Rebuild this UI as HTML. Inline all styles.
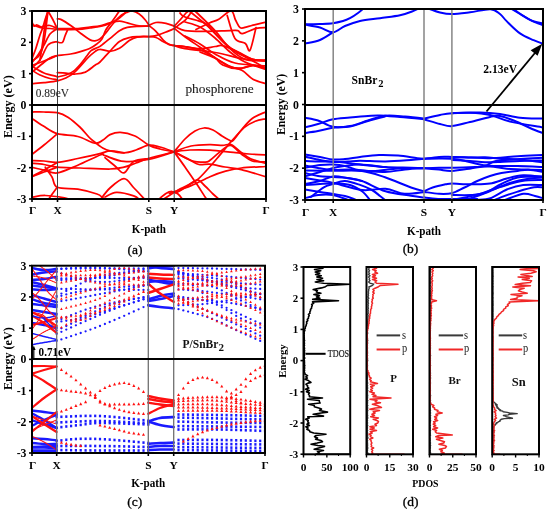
<!DOCTYPE html>
<html><head><meta charset="utf-8"><style>html,body{margin:0;padding:0;background:#fff;width:550px;height:512px;overflow:hidden}svg{display:block}</style></head>
<body><svg width="550" height="512" viewBox="0 0 550 512" font-family="'Liberation Serif', 'Times New Roman', serif"><defs><clipPath id="ca"><rect x="32" y="11" width="234" height="188"/></clipPath><clipPath id="cb"><rect x="305" y="9" width="238" height="191"/></clipPath><clipPath id="cc"><rect x="32" y="265.7" width="233" height="187.3"/></clipPath></defs><rect width="550" height="512" fill="#fff"/>
<g clip-path="url(#ca)">
<path d="M32.0,83.6C34.0,83.4 39.8,83.1 44.0,82.6C48.2,82.1 53.7,81.6 57.3,80.8C60.9,80.0 63.1,79.3 65.8,78.0C68.5,76.7 71.2,75.1 73.6,73.1C76.0,71.1 78.0,68.8 80.4,66.2C82.8,63.6 85.8,59.9 88.2,57.5C90.6,55.1 93.0,53.0 95.0,51.6C97.0,50.2 97.5,49.3 100.0,49.3C102.5,49.2 106.5,51.5 109.8,51.3C113.0,51.1 116.2,50.1 119.5,48.3C122.8,46.5 126.4,42.4 129.3,40.5C132.2,38.6 133.8,37.8 137.1,37.1C140.3,36.5 145.7,36.9 148.8,36.6C152.0,36.4 153.1,36.4 156.0,35.6C158.9,34.8 163.0,33.2 166.0,32.0C169.0,30.8 171.9,29.7 174.2,28.4C176.5,27.1 178.2,25.3 180.0,24.0C181.8,22.7 183.3,22.1 185.0,20.4C186.7,18.7 188.7,15.7 190.0,14.0C191.3,12.3 192.5,10.7 193.0,10.0" stroke="#ff0000" stroke-width="1.75" fill="none" stroke-linejoin="round" stroke-linecap="round" />
<path d="M57.3,72.6C58.7,72.7 62.8,72.9 65.8,73.1C68.8,73.3 72.2,74.2 75.5,74.0C78.8,73.8 82.0,73.5 85.3,72.1C88.5,70.6 92.5,67.0 95.0,65.3C97.5,63.6 97.5,64.3 100.0,62.0C102.5,59.7 106.5,54.7 109.8,51.3C113.0,47.9 116.2,43.8 119.5,41.5C122.8,39.2 126.1,38.4 129.3,37.6C132.6,36.8 135.8,36.8 139.0,36.6C142.2,36.4 146.0,36.5 148.8,36.6C151.6,36.8 153.6,36.7 156.0,37.5C158.4,38.3 160.8,40.3 163.0,41.5C165.2,42.7 167.1,43.8 169.0,44.5C170.9,45.2 173.3,45.3 174.2,45.5" stroke="#ff0000" stroke-width="1.75" fill="none" stroke-linejoin="round" stroke-linecap="round" />
<path d="M57.3,77.0C58.7,76.7 63.1,76.0 65.8,75.0C68.5,74.0 71.2,72.9 73.6,71.1C76.0,69.3 78.1,66.9 80.4,64.3C82.7,61.7 85.4,57.8 87.2,55.5C89.0,53.2 89.5,51.9 91.1,50.6C92.7,49.3 95.5,48.4 97.0,47.7C98.5,47.0 97.9,47.9 100.0,46.4C102.1,44.9 106.5,41.2 109.8,38.6C113.0,36.0 116.6,32.6 119.5,30.7C122.4,28.8 124.0,28.0 127.3,27.3C130.6,26.6 135.4,26.5 139.0,26.3C142.6,26.1 147.2,26.1 148.8,26.0" stroke="#ff0000" stroke-width="1.75" fill="none" stroke-linejoin="round" stroke-linecap="round" />
<path d="M57.3,55.5C59.5,55.2 66.8,54.6 70.6,54.0C74.4,53.4 77.2,52.6 80.4,51.6C83.7,50.6 87.3,49.5 90.1,48.2C92.9,46.9 95.0,45.3 97.0,43.8C99.0,42.2 100.4,41.2 101.9,38.9C103.4,36.6 104.3,32.6 105.9,29.8C107.5,27.0 110.0,24.3 111.7,22.0C113.4,19.7 114.6,18.0 116.0,16.0C117.4,14.0 119.3,11.0 120.0,10.0" stroke="#ff0000" stroke-width="1.75" fill="none" stroke-linejoin="round" stroke-linecap="round" />
<path d="M57.3,28.5C60.8,28.5 72.5,28.8 78.0,28.5C83.5,28.2 86.3,27.4 90.0,27.0C93.7,26.6 96.7,26.6 100.0,25.9C103.3,25.2 106.5,23.7 109.8,22.9C113.0,22.1 116.6,21.0 119.5,21.0C122.4,21.0 124.0,22.1 127.3,22.9C130.6,23.7 135.4,25.4 139.0,25.9C142.6,26.4 147.2,26.0 148.8,26.0" stroke="#ff0000" stroke-width="1.75" fill="none" stroke-linejoin="round" stroke-linecap="round" />
<path d="M57.3,29.5C60.8,29.5 72.5,29.8 78.0,29.5C83.5,29.2 86.3,28.5 90.0,28.0C93.7,27.5 96.7,27.2 100.0,26.5C103.3,25.8 106.8,24.8 109.8,23.5C112.8,22.2 115.6,20.6 118.0,19.0C120.4,17.4 122.3,15.5 124.0,14.0C125.7,12.5 127.3,10.7 128.0,10.0" stroke="#ff0000" stroke-width="1.75" fill="none" stroke-linejoin="round" stroke-linecap="round" />
<path d="M57.3,19.0C58.0,19.1 59.1,18.5 61.3,19.6C63.5,20.7 67.4,23.2 70.7,25.5C74.0,27.8 77.7,31.1 80.9,33.5C84.1,35.9 87.8,38.7 90.1,39.9C92.4,41.1 93.4,41.1 95.0,40.9C96.6,40.7 98.2,40.1 99.9,38.9C101.6,37.7 103.0,36.4 105.2,33.8C107.5,31.2 110.7,26.3 113.4,23.2C116.1,20.1 119.2,16.9 121.6,15.0C123.9,13.2 125.7,12.8 127.5,12.1C129.3,11.4 130.2,10.7 132.2,11.0C134.1,11.3 137.0,12.5 139.2,13.9C141.3,15.3 143.5,17.8 145.1,19.7C146.7,21.6 148.2,24.1 148.8,25.0" stroke="#ff0000" stroke-width="1.75" fill="none" stroke-linejoin="round" stroke-linecap="round" />
<path d="M57.3,42.0C58.1,42.1 61.1,43.4 62.4,42.4C63.7,41.4 64.1,38.2 65.0,36.0C65.9,33.8 67.5,30.2 68.0,29.0" stroke="#ff0000" stroke-width="1.75" fill="none" stroke-linejoin="round" stroke-linecap="round" />
<path d="M148.8,25.5C150.0,25.0 153.0,22.9 155.9,22.5C158.8,22.1 162.9,22.7 166.0,23.3C169.1,23.9 171.0,25.0 174.2,26.2C177.4,27.4 179.9,29.7 185.0,30.6C190.1,31.5 197.0,31.4 204.6,31.4C212.2,31.4 224.8,30.7 230.3,30.6C235.8,30.5 235.8,30.1 237.8,30.6C239.8,31.1 239.3,34.0 242.3,33.6C245.3,33.2 252.1,29.4 256.0,28.4C259.9,27.4 264.3,27.7 266.0,27.6" stroke="#ff0000" stroke-width="1.75" fill="none" stroke-linejoin="round" stroke-linecap="round" />
<path d="M148.8,25.5C150.0,26.5 153.5,28.9 155.9,31.3C158.3,33.7 161.0,37.8 163.2,40.0C165.4,42.2 167.2,43.5 169.0,44.4C170.8,45.3 171.5,45.1 174.2,45.5C176.9,45.9 180.7,45.8 185.0,46.5C189.3,47.2 195.0,47.9 200.0,49.8C205.0,51.7 210.0,55.2 215.0,58.0C220.0,60.8 225.4,64.3 230.0,66.4C234.6,68.5 238.5,68.4 242.3,70.5C246.1,72.6 249.0,77.0 252.9,79.2C256.9,81.4 263.8,83.0 266.0,83.8" stroke="#ff0000" stroke-width="1.75" fill="none" stroke-linejoin="round" stroke-linecap="round" />
<path d="M174.2,45.5C176.0,45.7 180.7,46.3 185.0,46.8C189.3,47.3 195.0,48.8 200.0,48.7C205.0,48.7 211.4,47.0 215.2,46.5C219.0,46.0 218.9,44.8 222.7,45.7C226.5,46.6 232.8,49.5 237.8,51.8C242.8,54.1 248.2,57.8 252.9,59.3C257.6,60.8 263.8,60.7 266.0,61.0" stroke="#ff0000" stroke-width="1.75" fill="none" stroke-linejoin="round" stroke-linecap="round" />
<path d="M174.2,45.5C176.0,46.0 178.2,47.5 185.0,48.7C191.8,49.9 206.4,51.0 215.2,52.5C224.0,54.0 231.7,56.5 237.8,57.8C243.9,59.0 247.3,59.5 252.0,60.0C256.7,60.5 263.7,60.7 266.0,60.8" stroke="#ff0000" stroke-width="1.75" fill="none" stroke-linejoin="round" stroke-linecap="round" />
<path d="M174.2,28.4C176.0,29.8 180.7,33.6 185.0,36.7C189.3,39.8 195.0,43.7 200.0,47.2C205.0,50.7 211.4,54.8 215.2,57.8C219.0,60.8 218.9,63.2 222.7,65.0C226.5,66.8 232.8,68.6 237.8,68.7C242.9,68.8 248.3,65.7 253.0,65.6C257.7,65.5 263.8,67.6 266.0,68.0" stroke="#ff0000" stroke-width="1.75" fill="none" stroke-linejoin="round" stroke-linecap="round" />
<path d="M200.0,52.0C202.5,53.0 209.9,55.5 215.0,58.0C220.1,60.5 225.8,65.1 230.3,66.8C234.9,68.5 238.5,68.2 242.3,68.0C246.1,67.8 249.0,65.2 252.9,65.3C256.9,65.4 263.8,67.9 266.0,68.4" stroke="#ff0000" stroke-width="1.75" fill="none" stroke-linejoin="round" stroke-linecap="round" />
<path d="M188.0,10.0C191.3,12.7 201.8,20.8 207.6,26.0C213.4,31.2 217.7,36.7 222.7,41.2C227.7,45.8 232.8,50.3 237.8,53.3C242.8,56.3 248.2,58.2 252.9,59.3C257.6,60.4 263.8,59.9 266.0,60.0" stroke="#ff0000" stroke-width="1.75" fill="none" stroke-linejoin="round" stroke-linecap="round" />
<path d="M194.0,10.0C197.5,13.4 209.0,24.2 215.0,30.6C221.0,37.1 225.0,43.9 230.0,48.7C235.0,53.5 239.0,57.3 245.0,59.3C251.0,61.3 262.5,60.5 266.0,60.8" stroke="#ff0000" stroke-width="1.75" fill="none" stroke-linejoin="round" stroke-linecap="round" />
<path d="M180.0,13.0C180.8,13.7 180.9,15.3 185.0,17.0C189.1,18.7 199.6,20.3 204.6,23.1C209.6,25.9 211.4,29.8 215.2,33.6C219.0,37.4 222.7,42.2 227.2,45.7C231.7,49.2 235.8,51.0 242.3,54.8C248.8,58.6 262.1,66.1 266.0,68.4" stroke="#ff0000" stroke-width="1.75" fill="none" stroke-linejoin="round" stroke-linecap="round" />
<path d="M174.2,26.2C175.2,25.2 178.0,22.2 180.0,20.0C182.0,17.8 184.3,14.7 186.0,13.0C187.7,11.3 189.3,10.5 190.0,10.0" stroke="#ff0000" stroke-width="1.75" fill="none" stroke-linejoin="round" stroke-linecap="round" />
<path d="M196.0,29.5C198.2,28.4 205.6,24.7 209.4,23.0C213.2,21.3 215.2,21.3 218.8,19.3C222.4,17.3 228.2,10.7 231.0,10.8C233.8,10.9 233.9,17.2 235.5,20.0C237.1,22.8 238.4,26.6 240.3,27.7C242.2,28.8 244.6,27.3 246.9,26.8C249.2,26.3 251.2,25.7 254.4,24.9C257.6,24.1 264.1,22.5 266.0,22.0" stroke="#ff0000" stroke-width="1.75" fill="none" stroke-linejoin="round" stroke-linecap="round" />
<path d="M227.2,15.5C228.5,19.3 231.8,33.5 234.8,38.2C237.8,42.9 242.9,41.5 245.4,43.5C247.9,45.5 248.2,52.9 250.0,50.3C251.8,47.6 255.0,31.4 256.0,27.6" stroke="#ff0000" stroke-width="1.75" fill="none" stroke-linejoin="round" stroke-linecap="round" />
<path d="M185.0,22.0C187.5,22.8 195.0,24.3 200.0,27.0C205.0,29.7 210.0,33.8 215.0,38.0C220.0,42.2 225.0,48.0 230.0,52.0C235.0,56.0 239.0,59.1 245.0,62.0C251.0,64.9 262.5,68.2 266.0,69.5" stroke="#ff0000" stroke-width="1.75" fill="none" stroke-linejoin="round" stroke-linecap="round" />
<path d="M185.0,36.0C187.5,37.3 195.0,41.0 200.0,44.0C205.0,47.0 209.2,50.8 215.0,54.0C220.8,57.2 226.5,61.0 235.0,63.0C243.5,65.0 260.8,65.5 266.0,66.0" stroke="#ff0000" stroke-width="1.75" fill="none" stroke-linejoin="round" stroke-linecap="round" />
<path d="M31.5,70.0C32.9,70.8 36.9,73.6 40.0,75.0C43.1,76.4 47.1,77.8 50.0,78.5C52.9,79.2 56.1,79.3 57.3,79.5" stroke="#ff0000" stroke-width="1.75" fill="none" stroke-linejoin="round" stroke-linecap="round" />
<path d="M31.5,66.0C33.6,67.2 39.7,71.2 44.0,73.0C48.3,74.8 55.1,75.9 57.3,76.5" stroke="#ff0000" stroke-width="1.75" fill="none" stroke-linejoin="round" stroke-linecap="round" />
<path d="M31.5,65.5C33.6,64.8 39.7,62.7 44.0,61.0C48.3,59.3 55.1,56.4 57.3,55.5" stroke="#ff0000" stroke-width="1.75" fill="none" stroke-linejoin="round" stroke-linecap="round" />
<path d="M31.5,61.0C32.6,60.3 36.2,58.8 38.0,57.0C39.8,55.2 40.8,53.7 42.0,50.0C43.2,46.3 44.0,41.5 45.0,35.0C46.0,28.5 47.5,15.0 48.0,11.0" stroke="#ff0000" stroke-width="1.75" fill="none" stroke-linejoin="round" stroke-linecap="round" />
<path d="M48.0,11.0C48.7,12.2 50.8,15.8 52.0,18.0C53.2,20.2 54.1,22.2 55.0,24.0C55.9,25.8 56.9,27.8 57.3,28.5" stroke="#ff0000" stroke-width="1.75" fill="none" stroke-linejoin="round" stroke-linecap="round" />
<path d="M31.5,63.0C32.6,61.7 35.9,58.0 38.0,55.0C40.1,52.0 42.0,48.5 44.0,45.0C46.0,41.5 47.8,36.8 50.0,34.0C52.2,31.2 56.1,29.4 57.3,28.5" stroke="#ff0000" stroke-width="1.75" fill="none" stroke-linejoin="round" stroke-linecap="round" />
<path d="M31.5,68.0C32.9,66.7 37.2,63.8 40.0,60.0C42.8,56.2 45.1,48.1 48.0,45.0C50.9,41.9 55.8,42.1 57.3,41.5" stroke="#ff0000" stroke-width="1.75" fill="none" stroke-linejoin="round" stroke-linecap="round" />
<path d="M31.5,60.0C32.2,58.0 34.6,52.2 36.0,48.0C37.4,43.8 38.8,38.5 40.0,35.0C41.2,31.5 42.2,29.5 43.0,27.0C43.8,24.5 44.2,22.7 45.0,20.0C45.8,17.3 47.5,12.5 48.0,11.0" stroke="#ff0000" stroke-width="1.75" fill="none" stroke-linejoin="round" stroke-linecap="round" />
<path d="M31.5,21.0C31.9,21.8 33.1,25.3 34.0,26.0C34.9,26.7 35.8,24.8 37.0,25.0C38.2,25.2 39.8,26.8 41.0,27.0C42.2,27.2 42.5,26.2 44.0,26.0C45.5,25.8 47.8,25.1 50.0,25.5C52.2,25.9 56.1,28.0 57.3,28.5" stroke="#ff0000" stroke-width="1.75" fill="none" stroke-linejoin="round" stroke-linecap="round" />
<path d="M31.5,24.0C32.2,24.3 34.2,25.3 36.0,26.0C37.8,26.7 39.7,27.6 42.0,28.0C44.3,28.4 47.5,28.2 50.0,28.5C52.5,28.8 56.1,29.3 57.3,29.5" stroke="#ff0000" stroke-width="1.75" fill="none" stroke-linejoin="round" stroke-linecap="round" />
<path d="M31.5,72.0C32.2,71.5 34.2,70.3 36.0,69.0C37.8,67.7 39.7,65.8 42.0,64.0C44.3,62.2 47.5,59.4 50.0,58.0C52.5,56.6 56.1,55.9 57.3,55.5" stroke="#ff0000" stroke-width="1.75" fill="none" stroke-linejoin="round" stroke-linecap="round" />
<path d="M40.0,60.0C40.5,56.7 42.2,45.8 43.0,40.0C43.8,34.2 44.2,29.8 45.0,25.0C45.8,20.2 47.5,13.3 48.0,11.0" stroke="#ff0000" stroke-width="1.75" fill="none" stroke-linejoin="round" stroke-linecap="round" />
<path d="M32.0,112.0C34.0,112.0 39.8,111.9 44.0,112.0C48.2,112.1 53.2,111.7 57.3,112.6C61.3,113.5 64.5,115.0 68.3,117.4C72.0,119.8 76.3,123.7 79.8,127.0C83.3,130.3 86.8,134.9 89.3,137.5C91.8,140.1 92.8,140.6 95.0,142.3C97.2,144.1 100.2,146.6 102.7,148.0C105.2,149.4 106.5,150.1 110.0,150.9C113.5,151.7 119.7,153.0 124.0,152.8C128.3,152.7 131.9,151.3 136.0,150.0C140.1,148.7 144.8,145.6 148.8,145.1C152.8,144.6 155.8,145.9 160.0,147.0C164.2,148.1 171.8,151.0 174.2,151.8" stroke="#ff0000" stroke-width="1.75" fill="none" stroke-linejoin="round" stroke-linecap="round" />
<path d="M32.0,118.4C33.9,119.7 39.2,123.5 43.4,126.0C47.6,128.6 51.6,131.9 57.3,133.7C63.0,135.4 71.5,134.9 77.8,136.5C84.1,138.1 90.8,142.6 95.0,143.2C99.2,143.8 100.5,141.4 103.0,140.0C105.5,138.6 107.1,135.9 110.0,134.6C112.9,133.3 116.1,132.1 120.3,132.3C124.5,132.5 130.2,133.9 135.0,136.0C139.8,138.1 144.6,142.9 148.8,145.1C153.0,147.3 155.8,147.9 160.0,149.0C164.2,150.1 171.8,151.3 174.2,151.8" stroke="#ff0000" stroke-width="1.75" fill="none" stroke-linejoin="round" stroke-linecap="round" />
<path d="M31.5,154.7C33.6,153.1 39.7,148.5 44.0,145.0C48.3,141.5 55.1,135.6 57.3,133.7" stroke="#ff0000" stroke-width="1.75" fill="none" stroke-linejoin="round" stroke-linecap="round" />
<path d="M31.5,160.5C33.6,160.6 39.7,160.7 44.0,161.0C48.3,161.3 51.7,162.8 57.3,162.4C62.9,162.0 70.5,160.0 77.8,158.5C85.0,157.0 95.4,154.7 100.8,153.4C106.2,152.1 106.1,151.0 110.0,150.9C113.9,150.8 121.7,152.5 124.0,152.8" stroke="#ff0000" stroke-width="1.75" fill="none" stroke-linejoin="round" stroke-linecap="round" />
<path d="M31.5,163.3C33.6,163.5 39.7,163.8 44.0,164.5C48.3,165.2 51.3,166.6 57.3,167.2C63.3,167.8 71.2,167.7 80.0,168.0C88.8,168.3 102.7,169.1 110.0,169.0C117.3,168.9 119.7,168.2 124.0,167.2C128.3,166.2 131.9,164.4 136.0,163.0C140.1,161.6 142.1,160.4 148.4,158.5C154.8,156.6 169.8,152.9 174.1,151.8" stroke="#ff0000" stroke-width="1.75" fill="none" stroke-linejoin="round" stroke-linecap="round" />
<path d="M31.5,167.2C33.6,167.7 39.7,169.1 44.0,170.0C48.3,170.9 51.7,173.7 57.3,172.9C62.9,172.1 70.5,168.2 77.8,165.2C85.0,162.2 96.3,156.3 100.8,154.7C105.3,153.1 101.1,154.6 105.0,155.7C108.9,156.8 116.8,160.8 124.0,161.4C131.2,162.0 140.1,161.1 148.4,159.5C156.8,157.9 169.8,153.1 174.1,151.8" stroke="#ff0000" stroke-width="1.75" fill="none" stroke-linejoin="round" stroke-linecap="round" />
<path d="M31.5,176.7C33.6,175.9 39.7,173.6 44.0,172.0C48.3,170.4 55.1,168.0 57.3,167.2" stroke="#ff0000" stroke-width="1.75" fill="none" stroke-linejoin="round" stroke-linecap="round" />
<path d="M31.5,176.7C33.6,175.6 39.7,172.4 44.0,170.0C48.3,167.6 55.1,163.7 57.3,162.4" stroke="#ff0000" stroke-width="1.75" fill="none" stroke-linejoin="round" stroke-linecap="round" />
<path d="M45.3,167.2C46.4,168.8 50.0,173.7 52.0,177.0C54.0,180.3 53.0,185.3 57.3,187.3C61.6,189.3 71.2,188.1 77.8,189.2C84.4,190.3 92.8,192.6 97.0,194.0C101.2,195.4 101.2,196.8 102.7,197.8C104.2,198.8 105.5,199.6 106.0,200.0" stroke="#ff0000" stroke-width="1.75" fill="none" stroke-linejoin="round" stroke-linecap="round" />
<path d="M57.3,187.3C56.6,188.2 54.4,191.1 53.0,193.0C51.6,194.9 49.7,197.8 49.0,198.7" stroke="#ff0000" stroke-width="1.75" fill="none" stroke-linejoin="round" stroke-linecap="round" />
<path d="M31.5,197.5C33.8,197.2 39.8,195.4 45.3,195.5C50.8,195.6 60.3,197.1 64.4,197.8C68.5,198.6 69.1,199.6 70.0,200.0" stroke="#ff0000" stroke-width="1.75" fill="none" stroke-linejoin="round" stroke-linecap="round" />
<path d="M105.0,157.6C106.7,159.0 111.8,163.4 115.0,166.0C118.2,168.6 120.9,173.7 124.0,172.9C127.1,172.1 129.6,163.8 133.7,161.4C137.8,159.0 145.9,159.0 148.4,158.5" stroke="#ff0000" stroke-width="1.75" fill="none" stroke-linejoin="round" stroke-linecap="round" />
<path d="M100.0,200.0C101.7,198.0 106.0,191.6 110.0,188.0C114.0,184.4 120.0,178.6 124.0,178.6C128.0,178.6 130.8,184.8 134.0,188.0C137.2,191.2 141.5,195.8 143.3,197.8C145.1,199.8 144.7,199.6 145.0,200.0" stroke="#ff0000" stroke-width="1.75" fill="none" stroke-linejoin="round" stroke-linecap="round" />
<path d="M105.0,197.0C106.9,196.2 111.7,192.6 116.5,192.4C121.3,192.2 129.8,194.6 133.7,195.9C137.6,197.2 138.9,199.3 140.0,200.0" stroke="#ff0000" stroke-width="1.75" fill="none" stroke-linejoin="round" stroke-linecap="round" />
<path d="M174.2,151.8C176.0,149.7 181.5,142.5 185.0,139.0C188.5,135.5 191.8,132.8 195.0,131.0C198.2,129.2 201.0,128.2 204.0,128.0C207.0,127.8 210.0,128.7 213.0,130.0C216.0,131.3 219.3,134.3 222.0,136.0C224.7,137.7 227.2,139.2 229.0,140.0C230.8,140.8 230.9,142.2 233.0,140.5C235.1,138.8 238.1,133.7 241.3,130.0C244.5,126.3 248.1,121.5 252.2,118.5C256.3,115.5 263.7,112.9 266.0,111.8" stroke="#ff0000" stroke-width="1.75" fill="none" stroke-linejoin="round" stroke-linecap="round" />
<path d="M163.0,199.5C165.9,197.7 174.7,192.0 180.3,188.8C185.9,185.6 191.8,183.9 196.7,180.2C201.6,176.5 206.2,170.6 210.0,166.5C213.8,162.4 216.5,159.0 219.4,155.6C222.3,152.2 224.9,148.9 227.2,146.2C229.5,143.5 230.5,142.3 233.4,139.2C236.3,136.1 240.8,130.4 244.4,127.4C248.1,124.4 251.8,122.6 255.3,121.2C258.8,119.8 263.8,119.2 265.5,118.8" stroke="#ff0000" stroke-width="1.75" fill="none" stroke-linejoin="round" stroke-linecap="round" />
<path d="M174.1,151.8C176.9,150.8 185.0,147.2 191.0,146.0C197.0,144.8 204.8,144.7 210.0,144.6C215.2,144.5 219.0,145.4 222.5,145.4C226.0,145.4 227.9,143.4 231.0,144.6C234.1,145.8 238.0,150.1 241.3,152.4C244.6,154.8 246.6,156.9 250.6,158.7C254.6,160.5 263.0,162.6 265.5,163.4" stroke="#ff0000" stroke-width="1.75" fill="none" stroke-linejoin="round" stroke-linecap="round" />
<path d="M174.1,151.8C176.8,151.5 184.0,150.3 190.0,150.0C196.0,149.7 202.8,149.7 210.0,150.1C217.2,150.5 226.9,151.8 233.4,152.4C239.9,153.1 243.7,153.6 249.0,154.0C254.3,154.4 262.8,154.7 265.5,154.8" stroke="#ff0000" stroke-width="1.75" fill="none" stroke-linejoin="round" stroke-linecap="round" />
<path d="M174.1,151.8C176.9,153.3 186.0,158.9 191.2,160.6C196.4,162.3 202.2,162.2 205.3,162.2C208.4,162.1 207.7,161.9 210.0,160.3C212.3,158.7 216.0,154.9 219.4,152.4C222.8,149.9 226.7,145.1 230.3,145.4C234.0,145.7 237.7,151.4 241.3,154.0C245.0,156.6 248.2,159.7 252.2,161.0C256.2,162.3 263.3,161.7 265.5,161.8" stroke="#ff0000" stroke-width="1.75" fill="none" stroke-linejoin="round" stroke-linecap="round" />
<path d="M174.1,151.8C176.8,153.2 185.8,157.9 190.0,160.0C194.2,162.1 195.7,163.8 199.0,164.5C202.3,165.2 205.7,163.8 210.0,164.2C214.3,164.6 219.8,166.1 225.0,167.0C230.2,167.9 234.6,168.0 241.3,169.6C248.1,171.2 261.5,175.5 265.5,176.7" stroke="#ff0000" stroke-width="1.75" fill="none" stroke-linejoin="round" stroke-linecap="round" />
<path d="M169.4,193.4C173.0,192.1 184.4,188.4 191.2,185.6C198.0,182.8 204.3,179.1 210.0,176.7C215.7,174.3 220.4,172.6 225.6,171.2C230.8,169.8 234.7,168.8 241.3,168.0C248.0,167.2 261.5,166.8 265.5,166.5" stroke="#ff0000" stroke-width="1.75" fill="none" stroke-linejoin="round" stroke-linecap="round" />
<path d="M174.1,151.8C175.9,154.3 181.8,162.4 185.0,167.0C188.2,171.6 191.1,175.7 193.6,179.4C196.1,183.1 198.1,186.0 200.0,189.0C201.9,192.0 204.1,195.5 205.3,197.3C206.5,199.1 206.7,199.6 207.0,200.0" stroke="#ff0000" stroke-width="1.75" fill="none" stroke-linejoin="round" stroke-linecap="round" />
<path d="M176.0,193.0C177.7,192.0 182.5,189.2 186.0,187.0C189.5,184.8 193.8,180.2 197.0,180.0C200.2,179.8 202.3,183.7 205.0,186.0C207.7,188.3 210.5,191.7 213.0,194.0C215.5,196.3 218.7,198.8 219.8,199.8" stroke="#ff0000" stroke-width="1.75" fill="none" stroke-linejoin="round" stroke-linecap="round" />
<path d="M158.0,200.0C159.3,198.9 163.7,194.9 166.0,193.5C168.3,192.1 170.0,191.4 172.0,191.5C174.0,191.6 176.2,192.6 178.0,194.0C179.8,195.4 182.2,199.0 183.0,200.0" stroke="#ff0000" stroke-width="1.75" fill="none" stroke-linejoin="round" stroke-linecap="round" />
</g>
<line x1="57.5" y1="11" x2="57.5" y2="199" stroke="#404040" stroke-width="1.0"/>
<line x1="148.8" y1="11" x2="148.8" y2="199" stroke="#404040" stroke-width="1.0"/>
<line x1="174.2" y1="11" x2="174.2" y2="199" stroke="#404040" stroke-width="1.0"/>
<line x1="32" y1="105" x2="266" y2="105" stroke="#000" stroke-width="2"/>
<rect x="32" y="11" width="234" height="188" fill="none" stroke="#000" stroke-width="2"/>
<line x1="29" y1="198.99" x2="32" y2="198.99" stroke="#000" stroke-width="1.6"/>
<line x1="29" y1="167.66" x2="32" y2="167.66" stroke="#000" stroke-width="1.6"/>
<line x1="29" y1="136.32999999999998" x2="32" y2="136.32999999999998" stroke="#000" stroke-width="1.6"/>
<line x1="29" y1="105.0" x2="32" y2="105.0" stroke="#000" stroke-width="1.6"/>
<line x1="29" y1="73.67" x2="32" y2="73.67" stroke="#000" stroke-width="1.6"/>
<line x1="29" y1="42.34" x2="32" y2="42.34" stroke="#000" stroke-width="1.6"/>
<line x1="29" y1="11.010000000000005" x2="32" y2="11.010000000000005" stroke="#000" stroke-width="1.6"/>
<line x1="32" y1="199" x2="32" y2="202" stroke="#000" stroke-width="1.6"/>
<line x1="57.5" y1="199" x2="57.5" y2="202" stroke="#000" stroke-width="1.6"/>
<line x1="148.8" y1="199" x2="148.8" y2="202" stroke="#000" stroke-width="1.6"/>
<line x1="174.2" y1="199" x2="174.2" y2="202" stroke="#000" stroke-width="1.6"/>
<line x1="266" y1="199" x2="266" y2="202" stroke="#000" stroke-width="1.6"/>
<text x="26.5" y="202.99" font-size="11.8" font-weight="bold" text-anchor="end" fill="#000" >-3</text>
<text x="26.5" y="171.66" font-size="11.8" font-weight="bold" text-anchor="end" fill="#000" >-2</text>
<text x="26.5" y="140.32999999999998" font-size="11.8" font-weight="bold" text-anchor="end" fill="#000" >-1</text>
<text x="26.5" y="109.0" font-size="11.8" font-weight="bold" text-anchor="end" fill="#000" >0</text>
<text x="26.5" y="77.67" font-size="11.8" font-weight="bold" text-anchor="end" fill="#000" >1</text>
<text x="26.5" y="46.34" font-size="11.8" font-weight="bold" text-anchor="end" fill="#000" >2</text>
<text x="26.5" y="15.010000000000005" font-size="11.8" font-weight="bold" text-anchor="end" fill="#000" >3</text>
<text x="32.7" y="214.4" font-size="11.4" font-weight="bold" text-anchor="middle" fill="#000" >&#915;</text>
<text x="57.5" y="214.4" font-size="11.4" font-weight="bold" text-anchor="middle" fill="#000" >X</text>
<text x="148.8" y="214.4" font-size="11.4" font-weight="bold" text-anchor="middle" fill="#000" >S</text>
<text x="174.2" y="214.4" font-size="11.4" font-weight="bold" text-anchor="middle" fill="#000" >Y</text>
<text x="266" y="214.4" font-size="11.4" font-weight="bold" text-anchor="middle" fill="#000" >&#915;</text>
<text transform="translate(148.8 233.2) scale(0.97 1)" font-size="11.5" font-weight="bold" text-anchor="middle" fill="#000">K-path</text>
<text x="30" y="0" font-size="1" font-weight="normal" text-anchor="start" fill="#111" ></text>
<text transform="translate(11.6 106.6) rotate(-90) scale(1.04 1)" font-size="11.6" font-weight="bold" text-anchor="middle" fill="#000">Energy (eV)</text>
<text transform="translate(35.8 96.8) scale(0.92 1)" font-size="12.4" font-weight="normal" text-anchor="start" fill="#2a2a2a" stroke="#2a2a2a" stroke-width="0.1">0.89eV</text>
<text transform="translate(185.4 93.1) scale(1.03 1)" font-size="13" font-weight="normal" text-anchor="start" fill="#1a1a1a" stroke="#1a1a1a" stroke-width="0.1">phosphorene</text>
<text x="135" y="253.5" font-size="13.5" font-weight="normal" text-anchor="middle" fill="#000" stroke="#000" stroke-width="0.3">(a)</text>
<g clip-path="url(#cb)">
<path d="M305.0,24.3C307.5,24.2 315.4,24.2 320.0,24.0C324.6,23.8 329.1,23.7 332.9,23.2C336.7,22.7 340.1,21.8 343.0,21.0C345.9,20.2 347.5,19.5 350.0,18.2C352.5,16.9 355.7,14.7 358.0,13.0C360.3,11.3 363.0,8.8 364.0,8.0" stroke="#0000ff" stroke-width="2.0" fill="none" stroke-linejoin="round" stroke-linecap="round" />
<path d="M305.0,24.6C307.5,25.1 315.4,26.2 320.0,27.5C324.6,28.8 328.7,32.5 332.9,32.3C337.1,32.0 340.5,27.9 345.0,26.0C349.5,24.1 354.2,22.2 360.0,20.9C365.8,19.6 373.3,19.1 380.0,18.2C386.7,17.2 394.7,16.3 400.0,15.2C405.3,14.1 408.7,12.7 412.0,11.5C415.3,10.3 418.7,8.6 420.0,8.0" stroke="#0000ff" stroke-width="2.0" fill="none" stroke-linejoin="round" stroke-linecap="round" />
<path d="M305.0,43.6C307.5,43.0 315.4,41.9 320.0,40.0C324.6,38.1 330.8,33.6 332.9,32.3" stroke="#0000ff" stroke-width="2.0" fill="none" stroke-linejoin="round" stroke-linecap="round" />
<path d="M427.0,8.0C429.2,8.8 435.9,11.5 440.0,12.5C444.1,13.5 446.8,14.1 451.8,14.1C456.8,14.1 463.6,13.1 470.0,12.3C476.4,11.5 485.5,8.9 490.5,9.2C495.5,9.5 497.4,12.1 500.0,14.0C502.6,15.9 503.1,17.7 506.4,20.9C509.7,24.1 515.5,30.2 520.0,33.4C524.5,36.6 529.8,38.5 533.6,40.2C537.4,41.9 541.2,43.0 542.7,43.6" stroke="#0000ff" stroke-width="2.0" fill="none" stroke-linejoin="round" stroke-linecap="round" />
<path d="M510.0,8.0C511.7,9.0 516.7,12.0 520.0,14.0C523.3,16.0 526.2,18.2 530.0,19.8C533.8,21.4 540.6,23.0 542.7,23.6" stroke="#0000ff" stroke-width="2.0" fill="none" stroke-linejoin="round" stroke-linecap="round" />
<path d="M512.0,8.0C513.7,9.2 518.7,12.9 522.0,15.0C525.3,17.1 528.5,19.1 532.0,20.8C535.5,22.5 540.9,24.3 542.7,25.0" stroke="#0000ff" stroke-width="2.0" fill="none" stroke-linejoin="round" stroke-linecap="round" />
<path d="M305.0,117.7C307.2,118.2 313.4,119.0 318.0,120.5C322.6,122.0 327.6,125.9 332.9,126.8C338.2,127.7 344.1,127.0 350.0,126.0C355.9,125.0 362.2,122.2 368.0,120.5C373.8,118.8 378.8,116.4 385.0,115.7C391.2,115.0 398.4,116.0 405.0,116.5C411.6,117.0 421.2,118.2 424.5,118.6" stroke="#0000ff" stroke-width="2.0" fill="none" stroke-linejoin="round" stroke-linecap="round" />
<path d="M305.0,127.3C307.2,126.8 313.4,125.3 318.0,124.0C322.6,122.7 327.6,120.4 332.9,119.3C338.2,118.2 344.1,118.1 350.0,117.5C355.9,116.9 363.0,116.2 368.0,115.9C373.0,115.6 374.7,115.3 380.0,115.5C385.3,115.7 392.6,116.4 400.0,117.0C407.4,117.6 420.4,118.9 424.5,119.3" stroke="#0000ff" stroke-width="2.0" fill="none" stroke-linejoin="round" stroke-linecap="round" />
<path d="M305.0,133.0C307.2,132.7 313.4,131.9 318.0,131.0C322.6,130.1 327.6,128.4 332.9,127.7C338.2,127.0 344.1,127.6 350.0,126.5C355.9,125.4 362.2,122.7 368.0,121.0C373.8,119.3 382.2,117.2 385.0,116.5" stroke="#0000ff" stroke-width="2.0" fill="none" stroke-linejoin="round" stroke-linecap="round" />
<path d="M424.5,118.6C427.1,118.0 435.4,115.9 440.0,115.0C444.6,114.1 445.1,113.6 451.8,113.2C458.5,112.8 472.0,112.4 480.0,112.5C488.0,112.6 493.3,113.1 500.0,114.0C506.7,114.9 512.9,116.9 520.0,117.7C527.1,118.5 538.9,118.4 542.7,118.6" stroke="#0000ff" stroke-width="2.0" fill="none" stroke-linejoin="round" stroke-linecap="round" />
<path d="M424.5,119.5C427.1,120.2 435.4,122.9 440.0,124.0C444.6,125.1 446.8,126.4 451.8,126.1C456.8,125.8 463.6,123.5 470.0,122.0C476.4,120.5 485.0,118.0 490.0,117.0C495.0,116.0 495.8,115.3 500.0,116.0C504.2,116.7 510.0,119.0 515.0,121.0C520.0,123.0 525.4,126.0 530.0,128.0C534.6,130.0 540.6,132.2 542.7,133.0" stroke="#0000ff" stroke-width="2.0" fill="none" stroke-linejoin="round" stroke-linecap="round" />
<path d="M451.8,113.2C454.8,113.1 463.6,112.4 470.0,112.7C476.4,113.0 483.3,113.5 490.0,115.0C496.7,116.5 501.2,119.5 510.0,121.6C518.8,123.6 537.2,126.3 542.7,127.3" stroke="#0000ff" stroke-width="2.0" fill="none" stroke-linejoin="round" stroke-linecap="round" />
<path d="M305.0,154.5C307.5,154.9 315.3,156.2 320.0,157.0C324.7,157.8 328.9,159.2 333.1,159.5C337.3,159.8 340.5,159.4 345.0,159.0C349.5,158.6 354.3,157.6 360.0,156.9C365.7,156.2 372.6,155.2 379.0,155.0C385.4,154.8 391.8,155.1 398.2,155.6C404.6,156.1 412.9,157.7 417.3,158.2C421.7,158.7 423.3,158.7 424.5,158.8" stroke="#0000ff" stroke-width="2.0" fill="none" stroke-linejoin="round" stroke-linecap="round" />
<path d="M305.0,156.7C307.5,157.2 315.3,159.1 320.0,160.0C324.7,160.9 328.4,161.8 333.1,162.0C337.8,162.2 343.5,161.7 348.0,161.5C352.5,161.3 353.8,160.7 360.0,160.7C366.2,160.7 377.0,161.5 385.5,161.4C394.0,161.3 404.5,160.5 411.0,160.1C417.5,159.7 422.2,159.0 424.5,158.8" stroke="#0000ff" stroke-width="2.0" fill="none" stroke-linejoin="round" stroke-linecap="round" />
<path d="M305.0,161.0C307.2,161.1 313.3,161.4 318.0,161.5C322.7,161.6 326.1,161.1 333.1,161.6C340.1,162.1 351.3,163.6 360.0,164.5C368.7,165.4 377.0,166.6 385.5,167.1C394.0,167.6 404.5,167.5 411.0,167.7C417.5,167.9 422.2,168.1 424.5,168.2" stroke="#0000ff" stroke-width="2.0" fill="none" stroke-linejoin="round" stroke-linecap="round" />
<path d="M305.0,165.5C307.2,165.9 313.3,167.2 318.0,168.0C322.7,168.8 327.8,169.8 333.1,170.0C338.4,170.2 343.4,169.3 350.0,169.5C356.6,169.7 364.7,171.1 372.7,170.9C380.7,170.7 389.4,168.9 398.0,168.4C406.6,167.9 420.1,168.2 424.5,168.2" stroke="#0000ff" stroke-width="2.0" fill="none" stroke-linejoin="round" stroke-linecap="round" />
<path d="M305.0,170.4C309.7,170.5 323.6,170.7 333.1,170.8C342.6,170.9 353.4,169.9 362.0,171.0C370.6,172.1 376.8,174.6 385.0,177.3C393.2,180.1 404.4,185.2 411.0,187.5C417.6,189.8 422.2,190.7 424.5,191.3" stroke="#0000ff" stroke-width="2.0" fill="none" stroke-linejoin="round" stroke-linecap="round" />
<path d="M305.0,167.6C307.5,167.2 315.3,165.5 320.0,165.0C324.7,164.5 328.9,164.3 333.1,164.5C337.3,164.7 340.5,165.0 345.0,166.0C349.5,167.0 353.3,169.3 360.0,170.3C366.7,171.3 377.5,172.1 385.0,172.0C392.5,171.9 398.4,170.1 405.0,169.5C411.6,168.9 421.2,168.4 424.5,168.2" stroke="#0000ff" stroke-width="2.0" fill="none" stroke-linejoin="round" stroke-linecap="round" />
<path d="M305.0,176.4C307.5,175.7 315.3,173.4 320.0,172.0C324.7,170.6 328.9,169.0 333.1,168.0C337.3,167.0 340.5,166.6 345.0,166.0C349.5,165.4 353.2,164.3 360.0,164.5C366.8,164.7 381.2,166.7 385.5,167.1" stroke="#0000ff" stroke-width="2.0" fill="none" stroke-linejoin="round" stroke-linecap="round" />
<path d="M305.0,178.0C307.5,178.4 315.3,179.7 320.0,180.5C324.7,181.3 326.1,181.3 333.1,182.9C340.1,184.5 353.3,189.0 362.0,190.0C370.7,191.0 378.4,188.1 385.5,188.7C392.6,189.3 398.0,193.3 404.5,193.8C411.0,194.3 421.2,192.2 424.5,191.9" stroke="#0000ff" stroke-width="2.0" fill="none" stroke-linejoin="round" stroke-linecap="round" />
<path d="M305.0,184.0C307.5,183.5 315.3,182.3 320.0,181.0C324.7,179.7 328.6,176.9 333.1,176.4C337.6,175.9 342.2,177.2 347.0,178.0C351.8,178.8 355.6,178.8 362.0,181.0C368.4,183.2 377.3,188.9 385.5,191.3C393.7,193.8 404.5,194.6 411.0,195.7C417.5,196.8 422.2,197.3 424.5,197.6" stroke="#0000ff" stroke-width="2.0" fill="none" stroke-linejoin="round" stroke-linecap="round" />
<path d="M305.0,185.1C307.5,184.9 315.3,184.3 320.0,184.0C324.7,183.7 328.1,183.3 333.1,183.5C338.1,183.7 345.2,183.7 350.0,185.0C354.8,186.3 358.6,188.8 362.0,191.3C365.4,193.8 368.8,198.7 370.2,200.2" stroke="#0000ff" stroke-width="2.0" fill="none" stroke-linejoin="round" stroke-linecap="round" />
<path d="M310.7,197.0C312.9,195.4 320.1,189.5 323.8,187.3C327.5,185.1 329.6,185.1 333.1,184.0C336.6,182.9 340.5,180.8 345.0,181.0C349.5,181.2 355.5,183.4 360.0,184.9C364.5,186.4 368.7,188.2 372.0,190.0C375.3,191.8 377.8,194.3 380.0,196.0C382.2,197.7 384.2,199.3 385.0,200.0" stroke="#0000ff" stroke-width="2.0" fill="none" stroke-linejoin="round" stroke-linecap="round" />
<path d="M305.0,189.5C307.5,189.9 315.3,191.2 320.0,192.0C324.7,192.8 328.9,193.3 333.1,194.0C337.3,194.7 341.4,195.1 345.0,196.0C348.6,196.9 353.3,198.9 355.0,199.5" stroke="#0000ff" stroke-width="2.0" fill="none" stroke-linejoin="round" stroke-linecap="round" />
<path d="M305.0,198.2C307.2,197.6 313.7,195.4 318.4,194.9C323.1,194.4 328.2,194.2 333.1,195.0C338.0,195.8 345.5,199.2 348.0,200.0" stroke="#0000ff" stroke-width="2.0" fill="none" stroke-linejoin="round" stroke-linecap="round" />
<path d="M305.0,173.0C307.2,173.5 313.3,175.3 318.0,176.0C322.7,176.7 328.3,176.7 333.1,177.0C337.9,177.3 342.2,177.3 347.0,178.0C351.8,178.7 359.5,180.5 362.0,181.0" stroke="#0000ff" stroke-width="2.0" fill="none" stroke-linejoin="round" stroke-linecap="round" />
<path d="M424.5,158.8C426.9,158.5 434.4,157.2 439.0,156.9C443.6,156.6 446.5,156.8 451.8,156.9C457.1,157.0 464.6,157.3 471.0,157.5C477.4,157.7 482.2,158.4 490.0,158.2C497.8,158.0 508.9,156.7 517.7,156.2C526.5,155.7 538.5,155.3 542.7,155.1" stroke="#0000ff" stroke-width="2.0" fill="none" stroke-linejoin="round" stroke-linecap="round" />
<path d="M424.5,158.8C426.9,158.8 434.4,158.5 439.0,158.5C443.6,158.5 447.6,158.4 451.8,158.8C456.1,159.2 459.2,159.6 464.5,160.7C469.8,161.8 477.5,164.3 483.6,165.2C489.8,166.1 495.7,165.9 501.4,166.0C507.1,166.1 510.8,165.8 517.7,166.0C524.6,166.2 538.5,166.9 542.7,167.1" stroke="#0000ff" stroke-width="2.0" fill="none" stroke-linejoin="round" stroke-linecap="round" />
<path d="M424.5,168.2C426.9,168.4 434.4,169.1 439.0,169.6C443.6,170.1 446.5,171.1 451.8,170.9C457.1,170.7 465.5,169.2 471.0,168.4C476.5,167.6 480.8,167.0 485.0,165.8C489.2,164.6 490.2,162.2 496.0,161.1C501.8,160.0 512.2,159.6 520.0,159.0C527.8,158.4 538.9,158.0 542.7,157.8" stroke="#0000ff" stroke-width="2.0" fill="none" stroke-linejoin="round" stroke-linecap="round" />
<path d="M424.5,168.2C426.9,168.1 434.4,167.8 439.0,167.7C443.6,167.6 445.8,167.8 451.8,167.7C457.8,167.6 468.6,167.2 475.0,167.0C481.4,166.8 484.7,166.2 490.0,166.5C495.3,166.8 501.0,168.2 506.8,168.7C512.6,169.2 519.0,169.3 525.0,169.5C531.0,169.7 539.8,169.9 542.7,170.0" stroke="#0000ff" stroke-width="2.0" fill="none" stroke-linejoin="round" stroke-linecap="round" />
<path d="M424.5,191.0C425.9,190.4 429.2,188.6 432.7,187.5C436.2,186.4 442.3,185.0 445.5,184.3C448.7,183.7 447.6,183.6 451.8,183.6C456.1,183.6 464.6,184.3 471.0,184.3C477.4,184.3 484.0,184.6 490.0,183.6C496.0,182.6 501.3,179.9 506.8,178.5C512.3,177.1 517.2,175.6 523.2,175.3C529.2,175.0 539.5,176.6 542.7,176.9" stroke="#0000ff" stroke-width="2.0" fill="none" stroke-linejoin="round" stroke-linecap="round" />
<path d="M424.5,191.9C426.9,192.2 434.4,193.6 439.0,193.8C443.6,194.0 447.6,194.2 451.8,193.2C456.1,192.1 460.2,189.5 464.5,187.5C468.8,185.5 473.1,182.9 477.3,181.0C481.6,179.1 486.0,177.3 490.0,176.0C494.0,174.7 496.8,173.9 501.4,173.1C506.0,172.2 513.2,171.4 517.7,170.9C522.2,170.4 524.4,169.6 528.6,169.8C532.8,170.0 540.4,171.6 542.7,172.0" stroke="#0000ff" stroke-width="2.0" fill="none" stroke-linejoin="round" stroke-linecap="round" />
<path d="M451.8,195.0C455.0,195.0 465.5,195.4 471.0,195.0C476.5,194.6 479.9,194.5 485.0,192.7C490.1,190.9 495.9,186.5 501.4,184.0C506.8,181.5 510.8,178.8 517.7,177.5C524.6,176.2 538.5,176.6 542.7,176.4" stroke="#0000ff" stroke-width="2.0" fill="none" stroke-linejoin="round" stroke-linecap="round" />
<path d="M477.0,200.0C479.2,199.7 485.5,199.9 490.5,198.2C495.5,196.4 501.4,191.7 506.8,189.5C512.2,187.3 517.2,185.8 523.2,185.1C529.2,184.4 539.5,185.1 542.7,185.1" stroke="#0000ff" stroke-width="2.0" fill="none" stroke-linejoin="round" stroke-linecap="round" />
<path d="M495.0,200.0C496.1,199.5 497.6,198.5 501.4,197.1C505.2,195.7 512.3,193.2 517.7,191.6C523.1,190.0 529.8,188.0 534.0,187.3C538.2,186.6 541.2,187.3 542.7,187.3" stroke="#0000ff" stroke-width="2.0" fill="none" stroke-linejoin="round" stroke-linecap="round" />
<path d="M505.0,200.0C508.0,199.0 518.2,194.5 523.2,193.8C528.2,193.1 531.8,195.3 535.0,196.0C538.2,196.7 541.4,197.8 542.7,198.2" stroke="#0000ff" stroke-width="2.0" fill="none" stroke-linejoin="round" stroke-linecap="round" />
<path d="M424.5,197.6C427.1,197.8 435.4,198.8 440.0,199.0C444.6,199.2 445.6,199.0 451.8,199.0C458.0,199.0 473.1,199.0 477.3,199.0" stroke="#0000ff" stroke-width="2.0" fill="none" stroke-linejoin="round" stroke-linecap="round" />
<path d="M466.0,200.0C469.7,198.7 480.7,194.8 488.0,192.0C495.3,189.2 503.0,185.2 510.0,183.0C517.0,180.8 524.5,179.4 530.0,178.5C535.5,177.6 540.8,177.7 543.0,177.5" stroke="#0000ff" stroke-width="2.0" fill="none" stroke-linejoin="round" stroke-linecap="round" />
<path d="M452.0,200.0C456.0,199.2 468.0,197.2 476.0,195.0C484.0,192.8 492.3,189.3 500.0,187.0C507.7,184.7 514.8,182.2 522.0,181.0C529.2,179.8 539.5,180.2 543.0,180.0" stroke="#0000ff" stroke-width="2.0" fill="none" stroke-linejoin="round" stroke-linecap="round" />
<path d="M451.8,160.0C454.8,160.2 464.5,160.6 470.0,161.0C475.5,161.4 480.0,162.0 485.0,162.2C490.0,162.4 494.2,162.2 500.0,162.0C505.8,161.8 512.9,161.2 520.0,161.0C527.1,160.8 538.9,160.6 542.7,160.5" stroke="#0000ff" stroke-width="2.0" fill="none" stroke-linejoin="round" stroke-linecap="round" />
<path d="M451.8,156.9C455.0,157.0 465.5,157.4 471.0,157.5C476.5,157.6 479.9,157.1 485.0,157.3C490.1,157.5 495.6,158.5 501.4,158.9C507.2,159.3 513.1,158.9 520.0,159.5C526.9,160.1 538.9,161.8 542.7,162.2" stroke="#0000ff" stroke-width="2.0" fill="none" stroke-linejoin="round" stroke-linecap="round" />
</g>
<line x1="333.2" y1="9" x2="333.2" y2="200" stroke="#858585" stroke-width="1.5"/>
<line x1="424" y1="9" x2="424" y2="200" stroke="#858585" stroke-width="1.5"/>
<line x1="451.9" y1="9" x2="451.9" y2="200" stroke="#858585" stroke-width="1.5"/>
<line x1="305" y1="105" x2="543" y2="105" stroke="#000" stroke-width="2"/>
<rect x="305" y="9" width="238" height="191" fill="none" stroke="#000" stroke-width="2"/>
<line x1="302" y1="199.99" x2="305" y2="199.99" stroke="#000" stroke-width="1.6"/>
<line x1="302" y1="168.16" x2="305" y2="168.16" stroke="#000" stroke-width="1.6"/>
<line x1="302" y1="136.32999999999998" x2="305" y2="136.32999999999998" stroke="#000" stroke-width="1.6"/>
<line x1="302" y1="104.5" x2="305" y2="104.5" stroke="#000" stroke-width="1.6"/>
<line x1="302" y1="72.67" x2="305" y2="72.67" stroke="#000" stroke-width="1.6"/>
<line x1="302" y1="40.84" x2="305" y2="40.84" stroke="#000" stroke-width="1.6"/>
<line x1="302" y1="9.010000000000005" x2="305" y2="9.010000000000005" stroke="#000" stroke-width="1.6"/>
<line x1="305" y1="200" x2="305" y2="203" stroke="#000" stroke-width="1.6"/>
<line x1="333.2" y1="200" x2="333.2" y2="203" stroke="#000" stroke-width="1.6"/>
<line x1="424" y1="200" x2="424" y2="203" stroke="#000" stroke-width="1.6"/>
<line x1="451.9" y1="200" x2="451.9" y2="203" stroke="#000" stroke-width="1.6"/>
<line x1="543" y1="200" x2="543" y2="203" stroke="#000" stroke-width="1.6"/>
<text x="299" y="203.99" font-size="11.8" font-weight="bold" text-anchor="end" fill="#000" >-3</text>
<text x="299" y="172.16" font-size="11.8" font-weight="bold" text-anchor="end" fill="#000" >-2</text>
<text x="299" y="140.32999999999998" font-size="11.8" font-weight="bold" text-anchor="end" fill="#000" >-1</text>
<text x="299" y="108.5" font-size="11.8" font-weight="bold" text-anchor="end" fill="#000" >0</text>
<text x="299" y="76.67" font-size="11.8" font-weight="bold" text-anchor="end" fill="#000" >1</text>
<text x="299" y="44.84" font-size="11.8" font-weight="bold" text-anchor="end" fill="#000" >2</text>
<text x="299" y="13.010000000000005" font-size="11.8" font-weight="bold" text-anchor="end" fill="#000" >3</text>
<text x="305.7" y="215.5" font-size="11.4" font-weight="bold" text-anchor="middle" fill="#000" >&#915;</text>
<text x="333.2" y="215.5" font-size="11.4" font-weight="bold" text-anchor="middle" fill="#000" >X</text>
<text x="424" y="215.5" font-size="11.4" font-weight="bold" text-anchor="middle" fill="#000" >S</text>
<text x="451.9" y="215.5" font-size="11.4" font-weight="bold" text-anchor="middle" fill="#000" >Y</text>
<text x="543" y="215.5" font-size="11.4" font-weight="bold" text-anchor="middle" fill="#000" >&#915;</text>
<text transform="translate(424 234.8) scale(0.97 1)" font-size="11.5" font-weight="bold" text-anchor="middle" fill="#000">K-path</text>
<text transform="translate(284.6 104.4) rotate(-90) scale(1.02 1)" font-size="11.6" font-weight="bold" text-anchor="middle" fill="#000">Energy (eV)</text>
<text x="351.6" y="84.1" font-size="11.6" font-weight="bold" fill="#000">SnBr<tspan font-size="10.5" dy="3.2" dx="0.8">2</tspan></text>
<text transform="translate(483.2 73.3) scale(1.0 1)" font-size="11.6" font-weight="bold" text-anchor="start" fill="#000">2.13eV</text>
<line x1="486.5" y1="111.5" x2="537" y2="50.5" stroke="#000" stroke-width="1.8"/>
<polygon points="542.3,43.8 530.6,50.2 537.6,55.8" fill="#000"/>
<text x="410.5" y="252.5" font-size="13.5" font-weight="normal" text-anchor="middle" fill="#000" stroke="#000" stroke-width="0.3">(b)</text>
<g clip-path="url(#cc)">
<path d="M31.5,267.9C33.6,268.2 39.8,269.9 44.0,270.0C48.2,270.1 54.5,269.0 56.6,268.8" stroke="#1a1aff" stroke-width="2.4" fill="none" stroke-linejoin="round" stroke-linecap="round" />
<path d="M31.5,274.7C33.6,274.3 39.8,273.1 44.0,272.5C48.2,271.9 54.5,271.5 56.6,271.3" stroke="#1a1aff" stroke-width="2.4" fill="none" stroke-linejoin="round" stroke-linecap="round" />
<path d="M31.5,280.0C33.6,279.8 39.8,279.6 44.0,279.0C48.2,278.4 54.5,277.0 56.6,276.6" stroke="#1a1aff" stroke-width="2.4" fill="none" stroke-linejoin="round" stroke-linecap="round" />
<path d="M31.5,285.4C33.6,285.7 39.8,286.5 44.0,287.0C48.2,287.5 54.5,288.2 56.6,288.4" stroke="#1a1aff" stroke-width="2.4" fill="none" stroke-linejoin="round" stroke-linecap="round" />
<path d="M31.5,289.3C33.6,289.4 39.8,290.0 44.0,290.0C48.2,290.0 54.5,289.4 56.6,289.3" stroke="#1a1aff" stroke-width="2.4" fill="none" stroke-linejoin="round" stroke-linecap="round" />
<path d="M31.5,282.0C33.6,282.5 39.8,283.9 44.0,285.0C48.2,286.1 54.5,287.8 56.6,288.4" stroke="#1a1aff" stroke-width="2.4" fill="none" stroke-linejoin="round" stroke-linecap="round" />
<path d="M31.5,295.2C33.6,295.8 39.8,297.4 44.0,298.5C48.2,299.6 54.5,301.4 56.6,302.0" stroke="#1a1aff" stroke-width="2.4" fill="none" stroke-linejoin="round" stroke-linecap="round" />
<path d="M31.5,299.0C33.6,299.7 39.8,302.0 44.0,303.0C48.2,304.0 54.5,304.7 56.6,305.0" stroke="#1a1aff" stroke-width="2.4" fill="none" stroke-linejoin="round" stroke-linecap="round" />
<path d="M31.5,304.0C33.6,304.2 39.8,305.0 44.0,305.5C48.2,306.0 54.5,306.8 56.6,307.0" stroke="#1a1aff" stroke-width="2.4" fill="none" stroke-linejoin="round" stroke-linecap="round" />
<path d="M31.5,310.0C33.6,310.3 39.8,311.3 44.0,312.0C48.2,312.7 54.5,313.7 56.6,314.0" stroke="#1a1aff" stroke-width="2.4" fill="none" stroke-linejoin="round" stroke-linecap="round" />
<path d="M31.5,323.0C33.6,323.3 39.8,324.2 44.0,325.0C48.2,325.8 54.5,327.5 56.6,328.0" stroke="#1a1aff" stroke-width="2.4" fill="none" stroke-linejoin="round" stroke-linecap="round" />
<path d="M31.5,410.5C33.6,410.8 39.8,411.4 44.0,412.0C48.2,412.6 54.5,413.5 56.6,413.8" stroke="#1a1aff" stroke-width="2.4" fill="none" stroke-linejoin="round" stroke-linecap="round" />
<path d="M31.5,413.0C33.6,414.2 39.8,417.5 44.0,420.0C48.2,422.5 54.5,426.8 56.6,428.2" stroke="#1a1aff" stroke-width="2.4" fill="none" stroke-linejoin="round" stroke-linecap="round" />
<path d="M31.5,426.0C33.6,425.0 39.8,421.8 44.0,420.0C48.2,418.2 54.5,415.8 56.6,415.0" stroke="#1a1aff" stroke-width="2.4" fill="none" stroke-linejoin="round" stroke-linecap="round" />
<path d="M31.5,420.0C33.6,420.7 39.8,422.7 44.0,424.0C48.2,425.3 54.5,427.3 56.6,428.0" stroke="#1a1aff" stroke-width="2.4" fill="none" stroke-linejoin="round" stroke-linecap="round" />
<path d="M31.5,438.2C33.6,438.3 39.8,438.6 44.0,439.0C48.2,439.4 54.5,440.2 56.6,440.4" stroke="#1a1aff" stroke-width="2.4" fill="none" stroke-linejoin="round" stroke-linecap="round" />
<path d="M31.5,447.0C33.6,446.9 39.8,446.7 44.0,446.5C48.2,446.3 54.5,446.1 56.6,446.0" stroke="#1a1aff" stroke-width="2.4" fill="none" stroke-linejoin="round" stroke-linecap="round" />
<path d="M31.5,450.4C33.6,450.4 39.8,450.4 44.0,450.4C48.2,450.4 54.5,450.4 56.6,450.4" stroke="#1a1aff" stroke-width="2.4" fill="none" stroke-linejoin="round" stroke-linecap="round" />
<path d="M31.5,443.0C33.6,443.2 39.8,443.8 44.0,444.0C48.2,444.2 54.5,444.0 56.6,444.0" stroke="#1a1aff" stroke-width="2.4" fill="none" stroke-linejoin="round" stroke-linecap="round" />
<path d="M31.5,447.5C33.6,447.5 39.8,447.4 44.0,447.5C48.2,447.6 54.5,447.9 56.6,448.0" stroke="#1a1aff" stroke-width="2.4" fill="none" stroke-linejoin="round" stroke-linecap="round" />
<path d="M31.5,452.0C33.6,452.0 39.8,452.0 44.0,452.0C48.2,452.0 54.5,452.0 56.6,452.0" stroke="#1a1aff" stroke-width="2.4" fill="none" stroke-linejoin="round" stroke-linecap="round" />
<path d="M148.3,266.7C150.2,266.9 155.8,267.6 160.0,268.0C164.2,268.4 171.4,268.8 173.7,269.0" stroke="#1a1aff" stroke-width="2.6" fill="none" stroke-linejoin="round" stroke-linecap="round" />
<path d="M148.3,268.5C150.2,268.2 155.8,266.9 160.0,266.5C164.2,266.1 171.4,266.1 173.7,266.0" stroke="#1a1aff" stroke-width="2.6" fill="none" stroke-linejoin="round" stroke-linecap="round" />
<path d="M148.3,279.6C150.2,280.0 155.8,281.2 160.0,282.0C164.2,282.8 171.4,283.9 173.7,284.3" stroke="#1a1aff" stroke-width="2.6" fill="none" stroke-linejoin="round" stroke-linecap="round" />
<path d="M148.3,282.0C150.2,281.8 155.8,281.0 160.0,281.0C164.2,281.0 171.4,281.8 173.7,282.0" stroke="#1a1aff" stroke-width="2.6" fill="none" stroke-linejoin="round" stroke-linecap="round" />
<path d="M148.3,299.5C150.2,298.9 155.8,297.0 160.0,296.0C164.2,295.0 171.4,294.0 173.7,293.6" stroke="#1a1aff" stroke-width="2.6" fill="none" stroke-linejoin="round" stroke-linecap="round" />
<path d="M148.3,301.0C150.2,300.7 155.8,299.8 160.0,299.0C164.2,298.2 171.4,296.5 173.7,296.0" stroke="#1a1aff" stroke-width="2.6" fill="none" stroke-linejoin="round" stroke-linecap="round" />
<path d="M148.3,305.4C150.2,305.7 155.8,306.5 160.0,307.0C164.2,307.5 171.4,308.1 173.7,308.3" stroke="#1a1aff" stroke-width="2.6" fill="none" stroke-linejoin="round" stroke-linecap="round" />
<path d="M148.3,421.5C150.2,420.9 155.8,418.7 160.0,418.0C164.2,417.3 171.4,417.2 173.7,417.1" stroke="#1a1aff" stroke-width="2.6" fill="none" stroke-linejoin="round" stroke-linecap="round" />
<path d="M148.3,421.5C150.2,422.1 155.8,424.1 160.0,425.0C164.2,425.9 171.4,426.8 173.7,427.1" stroke="#1a1aff" stroke-width="2.6" fill="none" stroke-linejoin="round" stroke-linecap="round" />
<path d="M148.3,443.7C150.2,443.6 155.8,443.2 160.0,443.0C164.2,442.8 171.4,442.7 173.7,442.6" stroke="#1a1aff" stroke-width="2.6" fill="none" stroke-linejoin="round" stroke-linecap="round" />
<path d="M148.3,447.0C150.2,446.8 155.8,446.2 160.0,446.0C164.2,445.8 171.4,446.0 173.7,446.0" stroke="#1a1aff" stroke-width="2.6" fill="none" stroke-linejoin="round" stroke-linecap="round" />
<path d="M148.3,450.0C150.2,449.9 155.8,449.6 160.0,449.5C164.2,449.4 171.4,449.5 173.7,449.5" stroke="#1a1aff" stroke-width="2.6" fill="none" stroke-linejoin="round" stroke-linecap="round" />
<path d="M31.5,416.0C33.6,417.3 39.8,421.3 44.0,424.0C48.2,426.7 54.5,430.7 56.6,432.0" stroke="#ff1010" stroke-width="2.2" fill="none" stroke-linejoin="round" stroke-linecap="round" />
<path d="M31.5,432.0C33.6,430.3 39.8,425.3 44.0,422.0C48.2,418.7 54.5,413.7 56.6,412.0" stroke="#ff1010" stroke-width="2.2" fill="none" stroke-linejoin="round" stroke-linecap="round" />
<path d="M31.5,366.1C33.6,366.1 39.8,365.9 44.0,366.0C48.2,366.1 54.5,366.4 56.6,366.5" stroke="#ff1010" stroke-width="2.2" fill="none" stroke-linejoin="round" stroke-linecap="round" />
<path d="M31.5,373.9C33.6,373.2 39.8,371.2 44.0,370.0C48.2,368.8 54.5,367.1 56.6,366.5" stroke="#ff1010" stroke-width="2.2" fill="none" stroke-linejoin="round" stroke-linecap="round" />
<path d="M31.5,373.9C33.6,375.1 39.8,378.4 44.0,381.0C48.2,383.6 54.5,388.0 56.6,389.4" stroke="#ff1010" stroke-width="2.2" fill="none" stroke-linejoin="round" stroke-linecap="round" />
<path d="M31.5,408.2C33.6,406.5 39.8,401.1 44.0,398.0C48.2,394.9 54.5,390.8 56.6,389.4" stroke="#ff1010" stroke-width="2.2" fill="none" stroke-linejoin="round" stroke-linecap="round" />
<path d="M32.0,312.5C34.0,313.4 39.9,315.8 44.0,318.0C48.1,320.2 54.6,324.7 56.7,326.0" stroke="#ff1010" stroke-width="2.2" fill="none" stroke-linejoin="round" stroke-linecap="round" />
<path d="M32.0,315.5C34.0,316.8 39.9,320.1 44.0,323.0C48.1,325.9 54.6,331.3 56.7,333.0" stroke="#ff1010" stroke-width="2.2" fill="none" stroke-linejoin="round" stroke-linecap="round" />
<path d="M32.0,325.0C34.0,324.5 39.9,323.2 44.0,322.0C48.1,320.8 54.6,318.7 56.7,318.0" stroke="#ff1010" stroke-width="2.2" fill="none" stroke-linejoin="round" stroke-linecap="round" />
<path d="M148.3,273.7C150.2,273.8 155.8,274.3 160.0,274.5C164.2,274.7 171.4,274.8 173.7,274.9" stroke="#ff1010" stroke-width="2.4" fill="none" stroke-linejoin="round" stroke-linecap="round" />
<path d="M148.3,277.5C150.2,277.7 155.8,278.2 160.0,278.5C164.2,278.8 171.4,278.9 173.7,279.0" stroke="#ff1010" stroke-width="2.4" fill="none" stroke-linejoin="round" stroke-linecap="round" />
<path d="M148.3,283.7C150.3,285.4 156.0,290.6 160.2,293.6C164.4,296.6 171.4,300.4 173.7,301.8" stroke="#ff1010" stroke-width="2.4" fill="none" stroke-linejoin="round" stroke-linecap="round" />
<path d="M148.3,293.0C150.2,292.3 155.8,290.4 160.0,289.0C164.2,287.6 171.4,285.1 173.7,284.3" stroke="#ff1010" stroke-width="2.4" fill="none" stroke-linejoin="round" stroke-linecap="round" />
<path d="M148.3,396.0C150.2,396.4 155.8,397.8 160.0,398.5C164.2,399.2 171.4,400.2 173.7,400.5" stroke="#ff1010" stroke-width="2.4" fill="none" stroke-linejoin="round" stroke-linecap="round" />
<path d="M148.3,402.7C150.2,403.0 155.8,403.9 160.0,404.5C164.2,405.1 171.4,405.8 173.7,406.0" stroke="#ff1010" stroke-width="2.4" fill="none" stroke-linejoin="round" stroke-linecap="round" />
<path d="M148.3,413.8C150.2,412.8 155.8,409.6 160.0,408.0C164.2,406.4 171.4,404.7 173.7,404.0" stroke="#ff1010" stroke-width="2.4" fill="none" stroke-linejoin="round" stroke-linecap="round" />
<path d="M148.3,399.0C150.2,399.3 155.8,400.4 160.0,401.0C164.2,401.6 171.4,402.2 173.7,402.5" stroke="#ff1010" stroke-width="2.4" fill="none" stroke-linejoin="round" stroke-linecap="round" />
<path d="M32.0,333.4C34.0,333.9 39.9,335.5 44.0,336.5C48.1,337.5 54.6,339.0 56.7,339.5" stroke="#1a1aff" stroke-width="1.5" fill="none" stroke-linejoin="round" stroke-linecap="round" stroke-dasharray="1.6 0.8"/>
<path d="M32.0,344.7C34.0,344.3 39.9,343.2 44.0,342.5C48.1,341.8 54.6,340.8 56.7,340.4" stroke="#1a1aff" stroke-width="1.5" fill="none" stroke-linejoin="round" stroke-linecap="round" stroke-dasharray="1.6 0.8"/>
<path d="M32.0,316.0C34.0,316.3 39.9,318.1 44.0,318.0C48.1,317.9 54.6,316.1 56.7,315.7" stroke="#1a1aff" stroke-width="1.5" fill="none" stroke-linejoin="round" stroke-linecap="round" stroke-dasharray="1.6 0.8"/>
<path d="M44.0,319.0C45.0,320.0 47.9,323.2 50.0,325.0C52.1,326.8 55.6,328.9 56.7,329.7" stroke="#1a1aff" stroke-width="1.5" fill="none" stroke-linejoin="round" stroke-linecap="round" stroke-dasharray="1.6 0.8"/>
<path d="M31.5,268.0C32.9,270.0 37.2,276.0 40.0,280.0C42.8,284.0 45.2,288.7 48.0,292.0C50.8,295.3 55.2,298.7 56.6,300.0" stroke="#ff1010" stroke-width="1.1" fill="none" stroke-linejoin="round" stroke-linecap="round" stroke-dasharray="1.4 0.9"/>
<path d="M31.5,300.0C32.9,298.3 37.2,293.3 40.0,290.0C42.8,286.7 45.2,283.3 48.0,280.0C50.8,276.7 55.2,271.7 56.6,270.0" stroke="#ff1010" stroke-width="1.1" fill="none" stroke-linejoin="round" stroke-linecap="round" stroke-dasharray="1.4 0.9"/>
<path d="M31.5,292.0C32.9,293.3 37.2,297.0 40.0,300.0C42.8,303.0 45.2,307.0 48.0,310.0C50.8,313.0 55.2,316.7 56.6,318.0" stroke="#ff1010" stroke-width="1.1" fill="none" stroke-linejoin="round" stroke-linecap="round" stroke-dasharray="1.4 0.9"/>
<path d="M31.5,330.0C32.9,328.0 37.2,322.2 40.0,318.0C42.8,313.8 45.2,309.7 48.0,305.0C50.8,300.3 55.2,292.5 56.6,290.0" stroke="#ff1010" stroke-width="1.1" fill="none" stroke-linejoin="round" stroke-linecap="round" stroke-dasharray="1.4 0.9"/>
<path d="M31.5,276.0C33.6,276.3 39.8,276.8 44.0,278.0C48.2,279.2 54.5,282.2 56.6,283.0" stroke="#ff1010" stroke-width="1.1" fill="none" stroke-linejoin="round" stroke-linecap="round" stroke-dasharray="1.4 0.9"/>
<path d="M31.5,340.0C33.6,338.7 39.8,334.3 44.0,332.0C48.2,329.7 54.5,327.0 56.6,326.0" stroke="#ff1010" stroke-width="1.1" fill="none" stroke-linejoin="round" stroke-linecap="round" stroke-dasharray="1.4 0.9"/>
<path d="M31.5,312.0C33.6,312.7 39.8,313.0 44.0,316.0C48.2,319.0 54.5,327.7 56.6,330.0" stroke="#ff1010" stroke-width="1.1" fill="none" stroke-linejoin="round" stroke-linecap="round" stroke-dasharray="1.4 0.9"/>
<path d="M40.0,266.0C41.3,267.0 45.2,269.7 48.0,272.0C50.8,274.3 55.2,278.7 56.6,280.0" stroke="#ff1010" stroke-width="1.1" fill="none" stroke-linejoin="round" stroke-linecap="round" stroke-dasharray="1.4 0.9"/>
<path d="M31.5,416.0C33.6,416.7 39.8,418.7 44.0,420.0C48.2,421.3 54.5,423.3 56.6,424.0" stroke="#ff1010" stroke-width="1.1" fill="none" stroke-linejoin="round" stroke-linecap="round" stroke-dasharray="1.4 0.9"/>
<path d="M31.5,430.0C33.6,429.2 39.8,426.7 44.0,425.0C48.2,423.3 54.5,420.8 56.6,420.0" stroke="#ff1010" stroke-width="1.1" fill="none" stroke-linejoin="round" stroke-linecap="round" stroke-dasharray="1.4 0.9"/>
<path d="M31.5,436.0C33.6,437.0 39.8,439.7 44.0,442.0C48.2,444.3 54.5,448.7 56.6,450.0" stroke="#ff1010" stroke-width="1.1" fill="none" stroke-linejoin="round" stroke-linecap="round" stroke-dasharray="1.4 0.9"/>
<circle cx="61.4" cy="268.9" r="1.15" fill="#1a1aff"/>
<circle cx="66.3" cy="268.8" r="1.15" fill="#1a1aff"/>
<circle cx="71.1" cy="268.7" r="1.15" fill="#1a1aff"/>
<circle cx="75.9" cy="268.7" r="1.15" fill="#1a1aff"/>
<circle cx="80.7" cy="268.6" r="1.15" fill="#1a1aff"/>
<circle cx="85.6" cy="268.6" r="1.15" fill="#1a1aff"/>
<circle cx="90.4" cy="268.6" r="1.15" fill="#1a1aff"/>
<circle cx="95.2" cy="268.5" r="1.15" fill="#1a1aff"/>
<circle cx="100.0" cy="268.5" r="1.15" fill="#1a1aff"/>
<circle cx="104.9" cy="268.5" r="1.15" fill="#1a1aff"/>
<circle cx="109.7" cy="268.5" r="1.15" fill="#1a1aff"/>
<circle cx="114.5" cy="268.5" r="1.15" fill="#1a1aff"/>
<circle cx="119.3" cy="268.5" r="1.15" fill="#1a1aff"/>
<circle cx="124.2" cy="268.5" r="1.15" fill="#1a1aff"/>
<circle cx="129.0" cy="268.5" r="1.15" fill="#1a1aff"/>
<circle cx="133.8" cy="268.5" r="1.15" fill="#1a1aff"/>
<circle cx="138.6" cy="268.5" r="1.15" fill="#1a1aff"/>
<circle cx="143.5" cy="268.5" r="1.15" fill="#1a1aff"/>
<circle cx="56.6" cy="268.9" r="1.15" fill="#1a1aff"/>
<circle cx="148.3" cy="268.5" r="1.15" fill="#1a1aff"/>
<circle cx="61.4" cy="278.4" r="1.15" fill="#1a1aff"/>
<circle cx="66.3" cy="278.3" r="1.15" fill="#1a1aff"/>
<circle cx="71.1" cy="278.2" r="1.15" fill="#1a1aff"/>
<circle cx="75.9" cy="278.2" r="1.15" fill="#1a1aff"/>
<circle cx="80.7" cy="278.1" r="1.15" fill="#1a1aff"/>
<circle cx="85.6" cy="278.1" r="1.15" fill="#1a1aff"/>
<circle cx="90.4" cy="278.1" r="1.15" fill="#1a1aff"/>
<circle cx="95.2" cy="278.0" r="1.15" fill="#1a1aff"/>
<circle cx="100.0" cy="278.0" r="1.15" fill="#1a1aff"/>
<circle cx="104.9" cy="278.0" r="1.15" fill="#1a1aff"/>
<circle cx="109.7" cy="278.0" r="1.15" fill="#1a1aff"/>
<circle cx="114.5" cy="278.0" r="1.15" fill="#1a1aff"/>
<circle cx="119.3" cy="278.0" r="1.15" fill="#1a1aff"/>
<circle cx="124.2" cy="278.0" r="1.15" fill="#1a1aff"/>
<circle cx="129.0" cy="278.0" r="1.15" fill="#1a1aff"/>
<circle cx="133.8" cy="278.0" r="1.15" fill="#1a1aff"/>
<circle cx="138.6" cy="278.0" r="1.15" fill="#1a1aff"/>
<circle cx="143.5" cy="278.0" r="1.15" fill="#1a1aff"/>
<circle cx="56.6" cy="278.4" r="1.15" fill="#1a1aff"/>
<circle cx="148.3" cy="278.0" r="1.15" fill="#1a1aff"/>
<circle cx="61.4" cy="288.9" r="1.15" fill="#1a1aff"/>
<circle cx="66.3" cy="289.0" r="1.15" fill="#1a1aff"/>
<circle cx="71.1" cy="289.0" r="1.15" fill="#1a1aff"/>
<circle cx="75.9" cy="289.1" r="1.15" fill="#1a1aff"/>
<circle cx="80.7" cy="289.2" r="1.15" fill="#1a1aff"/>
<circle cx="85.6" cy="289.3" r="1.15" fill="#1a1aff"/>
<circle cx="90.4" cy="289.4" r="1.15" fill="#1a1aff"/>
<circle cx="95.2" cy="289.4" r="1.15" fill="#1a1aff"/>
<circle cx="100.0" cy="289.5" r="1.15" fill="#1a1aff"/>
<circle cx="104.9" cy="289.6" r="1.15" fill="#1a1aff"/>
<circle cx="109.7" cy="289.6" r="1.15" fill="#1a1aff"/>
<circle cx="114.5" cy="289.7" r="1.15" fill="#1a1aff"/>
<circle cx="119.3" cy="289.7" r="1.15" fill="#1a1aff"/>
<circle cx="124.2" cy="289.8" r="1.15" fill="#1a1aff"/>
<circle cx="129.0" cy="289.8" r="1.15" fill="#1a1aff"/>
<circle cx="133.8" cy="289.9" r="1.15" fill="#1a1aff"/>
<circle cx="138.6" cy="289.9" r="1.15" fill="#1a1aff"/>
<circle cx="143.5" cy="290.0" r="1.15" fill="#1a1aff"/>
<circle cx="56.6" cy="288.8" r="1.15" fill="#1a1aff"/>
<circle cx="148.3" cy="290.0" r="1.15" fill="#1a1aff"/>
<circle cx="61.4" cy="339.4" r="1.15" fill="#1a1aff"/>
<circle cx="66.3" cy="337.8" r="1.15" fill="#1a1aff"/>
<circle cx="71.1" cy="336.2" r="1.15" fill="#1a1aff"/>
<circle cx="75.9" cy="334.6" r="1.15" fill="#1a1aff"/>
<circle cx="80.7" cy="333.0" r="1.15" fill="#1a1aff"/>
<circle cx="85.6" cy="331.3" r="1.15" fill="#1a1aff"/>
<circle cx="90.4" cy="329.6" r="1.15" fill="#1a1aff"/>
<circle cx="95.2" cy="327.8" r="1.15" fill="#1a1aff"/>
<circle cx="100.0" cy="326.0" r="1.15" fill="#1a1aff"/>
<circle cx="104.9" cy="324.0" r="1.15" fill="#1a1aff"/>
<circle cx="109.7" cy="322.0" r="1.15" fill="#1a1aff"/>
<circle cx="114.5" cy="320.0" r="1.15" fill="#1a1aff"/>
<circle cx="119.3" cy="317.9" r="1.15" fill="#1a1aff"/>
<circle cx="124.2" cy="315.8" r="1.15" fill="#1a1aff"/>
<circle cx="129.0" cy="313.6" r="1.15" fill="#1a1aff"/>
<circle cx="133.8" cy="311.5" r="1.15" fill="#1a1aff"/>
<circle cx="138.6" cy="309.3" r="1.15" fill="#1a1aff"/>
<circle cx="143.5" cy="307.1" r="1.15" fill="#1a1aff"/>
<circle cx="56.6" cy="341.0" r="1.15" fill="#1a1aff"/>
<circle cx="148.3" cy="305.0" r="1.15" fill="#1a1aff"/>
<circle cx="61.4" cy="321.4" r="1.15" fill="#1a1aff"/>
<circle cx="66.3" cy="320.8" r="1.15" fill="#1a1aff"/>
<circle cx="71.1" cy="320.1" r="1.15" fill="#1a1aff"/>
<circle cx="75.9" cy="319.1" r="1.15" fill="#1a1aff"/>
<circle cx="80.7" cy="317.8" r="1.15" fill="#1a1aff"/>
<circle cx="85.6" cy="315.9" r="1.15" fill="#1a1aff"/>
<circle cx="90.4" cy="313.6" r="1.15" fill="#1a1aff"/>
<circle cx="95.2" cy="311.3" r="1.15" fill="#1a1aff"/>
<circle cx="100.0" cy="309.0" r="1.15" fill="#1a1aff"/>
<circle cx="104.9" cy="306.9" r="1.15" fill="#1a1aff"/>
<circle cx="109.7" cy="305.1" r="1.15" fill="#1a1aff"/>
<circle cx="114.5" cy="303.7" r="1.15" fill="#1a1aff"/>
<circle cx="119.3" cy="302.4" r="1.15" fill="#1a1aff"/>
<circle cx="124.2" cy="301.2" r="1.15" fill="#1a1aff"/>
<circle cx="129.0" cy="300.1" r="1.15" fill="#1a1aff"/>
<circle cx="133.8" cy="299.1" r="1.15" fill="#1a1aff"/>
<circle cx="138.6" cy="298.1" r="1.15" fill="#1a1aff"/>
<circle cx="143.5" cy="297.1" r="1.15" fill="#1a1aff"/>
<circle cx="56.6" cy="322.0" r="1.15" fill="#1a1aff"/>
<circle cx="148.3" cy="296.0" r="1.15" fill="#1a1aff"/>
<circle cx="61.4" cy="301.1" r="1.15" fill="#1a1aff"/>
<circle cx="66.3" cy="300.3" r="1.15" fill="#1a1aff"/>
<circle cx="71.1" cy="299.4" r="1.15" fill="#1a1aff"/>
<circle cx="75.9" cy="298.6" r="1.15" fill="#1a1aff"/>
<circle cx="80.7" cy="297.7" r="1.15" fill="#1a1aff"/>
<circle cx="85.6" cy="296.8" r="1.15" fill="#1a1aff"/>
<circle cx="90.4" cy="295.9" r="1.15" fill="#1a1aff"/>
<circle cx="95.2" cy="295.0" r="1.15" fill="#1a1aff"/>
<circle cx="100.0" cy="294.1" r="1.15" fill="#1a1aff"/>
<circle cx="104.9" cy="293.2" r="1.15" fill="#1a1aff"/>
<circle cx="109.7" cy="292.3" r="1.15" fill="#1a1aff"/>
<circle cx="114.5" cy="291.4" r="1.15" fill="#1a1aff"/>
<circle cx="119.3" cy="290.5" r="1.15" fill="#1a1aff"/>
<circle cx="124.2" cy="289.6" r="1.15" fill="#1a1aff"/>
<circle cx="129.0" cy="288.7" r="1.15" fill="#1a1aff"/>
<circle cx="133.8" cy="287.7" r="1.15" fill="#1a1aff"/>
<circle cx="138.6" cy="286.8" r="1.15" fill="#1a1aff"/>
<circle cx="143.5" cy="285.9" r="1.15" fill="#1a1aff"/>
<circle cx="56.6" cy="302.0" r="1.15" fill="#1a1aff"/>
<circle cx="148.3" cy="285.0" r="1.15" fill="#1a1aff"/>
<circle cx="61.4" cy="273.3" r="1.15" fill="#1a1aff"/>
<circle cx="66.3" cy="274.8" r="1.15" fill="#1a1aff"/>
<circle cx="71.1" cy="276.2" r="1.15" fill="#1a1aff"/>
<circle cx="75.9" cy="277.5" r="1.15" fill="#1a1aff"/>
<circle cx="80.7" cy="278.8" r="1.15" fill="#1a1aff"/>
<circle cx="85.6" cy="279.9" r="1.15" fill="#1a1aff"/>
<circle cx="90.4" cy="280.9" r="1.15" fill="#1a1aff"/>
<circle cx="95.2" cy="281.6" r="1.15" fill="#1a1aff"/>
<circle cx="100.0" cy="282.0" r="1.15" fill="#1a1aff"/>
<circle cx="104.9" cy="282.0" r="1.15" fill="#1a1aff"/>
<circle cx="109.7" cy="281.8" r="1.15" fill="#1a1aff"/>
<circle cx="114.5" cy="281.3" r="1.15" fill="#1a1aff"/>
<circle cx="119.3" cy="280.7" r="1.15" fill="#1a1aff"/>
<circle cx="124.2" cy="280.0" r="1.15" fill="#1a1aff"/>
<circle cx="129.0" cy="279.3" r="1.15" fill="#1a1aff"/>
<circle cx="133.8" cy="278.5" r="1.15" fill="#1a1aff"/>
<circle cx="138.6" cy="277.6" r="1.15" fill="#1a1aff"/>
<circle cx="143.5" cy="276.8" r="1.15" fill="#1a1aff"/>
<circle cx="56.6" cy="272.0" r="1.15" fill="#1a1aff"/>
<circle cx="148.3" cy="276.0" r="1.15" fill="#1a1aff"/>
<circle cx="61.4" cy="293.6" r="1.15" fill="#1a1aff"/>
<circle cx="66.3" cy="291.0" r="1.15" fill="#1a1aff"/>
<circle cx="71.1" cy="288.5" r="1.15" fill="#1a1aff"/>
<circle cx="75.9" cy="286.0" r="1.15" fill="#1a1aff"/>
<circle cx="80.7" cy="283.6" r="1.15" fill="#1a1aff"/>
<circle cx="85.6" cy="281.4" r="1.15" fill="#1a1aff"/>
<circle cx="90.4" cy="279.3" r="1.15" fill="#1a1aff"/>
<circle cx="95.2" cy="277.5" r="1.15" fill="#1a1aff"/>
<circle cx="100.0" cy="276.0" r="1.15" fill="#1a1aff"/>
<circle cx="104.9" cy="274.9" r="1.15" fill="#1a1aff"/>
<circle cx="109.7" cy="274.0" r="1.15" fill="#1a1aff"/>
<circle cx="114.5" cy="273.4" r="1.15" fill="#1a1aff"/>
<circle cx="119.3" cy="272.9" r="1.15" fill="#1a1aff"/>
<circle cx="124.2" cy="272.4" r="1.15" fill="#1a1aff"/>
<circle cx="129.0" cy="272.1" r="1.15" fill="#1a1aff"/>
<circle cx="133.8" cy="271.8" r="1.15" fill="#1a1aff"/>
<circle cx="138.6" cy="271.6" r="1.15" fill="#1a1aff"/>
<circle cx="143.5" cy="271.3" r="1.15" fill="#1a1aff"/>
<circle cx="56.6" cy="296.0" r="1.15" fill="#1a1aff"/>
<circle cx="148.3" cy="271.0" r="1.15" fill="#1a1aff"/>
<rect x="60.3" y="415.5" width="2.2" height="2.6" fill="#1a1aff"/>
<rect x="65.2" y="415.3" width="2.2" height="2.6" fill="#1a1aff"/>
<rect x="70.0" y="415.1" width="2.2" height="2.6" fill="#1a1aff"/>
<rect x="74.8" y="414.9" width="2.2" height="2.6" fill="#1a1aff"/>
<rect x="79.6" y="414.7" width="2.2" height="2.6" fill="#1a1aff"/>
<rect x="84.5" y="414.6" width="2.2" height="2.6" fill="#1a1aff"/>
<rect x="89.3" y="414.6" width="2.2" height="2.6" fill="#1a1aff"/>
<rect x="94.1" y="414.6" width="2.2" height="2.6" fill="#1a1aff"/>
<rect x="98.9" y="414.7" width="2.2" height="2.6" fill="#1a1aff"/>
<rect x="103.8" y="415.0" width="2.2" height="2.6" fill="#1a1aff"/>
<rect x="108.6" y="415.3" width="2.2" height="2.6" fill="#1a1aff"/>
<rect x="113.4" y="415.7" width="2.2" height="2.6" fill="#1a1aff"/>
<rect x="118.2" y="416.2" width="2.2" height="2.6" fill="#1a1aff"/>
<rect x="123.1" y="416.7" width="2.2" height="2.6" fill="#1a1aff"/>
<rect x="127.9" y="417.2" width="2.2" height="2.6" fill="#1a1aff"/>
<rect x="132.7" y="417.8" width="2.2" height="2.6" fill="#1a1aff"/>
<rect x="137.5" y="418.3" width="2.2" height="2.6" fill="#1a1aff"/>
<rect x="142.4" y="418.9" width="2.2" height="2.6" fill="#1a1aff"/>
<rect x="55.5" y="415.7" width="2.2" height="2.6" fill="#1a1aff"/>
<rect x="147.2" y="419.4" width="2.2" height="2.6" fill="#1a1aff"/>
<rect x="60.3" y="421.0" width="2.2" height="2.6" fill="#1a1aff"/>
<rect x="65.2" y="420.7" width="2.2" height="2.6" fill="#1a1aff"/>
<rect x="70.0" y="420.5" width="2.2" height="2.6" fill="#1a1aff"/>
<rect x="74.8" y="420.3" width="2.2" height="2.6" fill="#1a1aff"/>
<rect x="79.6" y="420.1" width="2.2" height="2.6" fill="#1a1aff"/>
<rect x="84.5" y="419.9" width="2.2" height="2.6" fill="#1a1aff"/>
<rect x="89.3" y="419.8" width="2.2" height="2.6" fill="#1a1aff"/>
<rect x="94.1" y="419.7" width="2.2" height="2.6" fill="#1a1aff"/>
<rect x="98.9" y="419.7" width="2.2" height="2.6" fill="#1a1aff"/>
<rect x="103.8" y="419.8" width="2.2" height="2.6" fill="#1a1aff"/>
<rect x="108.6" y="419.9" width="2.2" height="2.6" fill="#1a1aff"/>
<rect x="113.4" y="420.1" width="2.2" height="2.6" fill="#1a1aff"/>
<rect x="118.2" y="420.4" width="2.2" height="2.6" fill="#1a1aff"/>
<rect x="123.1" y="420.6" width="2.2" height="2.6" fill="#1a1aff"/>
<rect x="127.9" y="420.9" width="2.2" height="2.6" fill="#1a1aff"/>
<rect x="132.7" y="421.2" width="2.2" height="2.6" fill="#1a1aff"/>
<rect x="137.5" y="421.4" width="2.2" height="2.6" fill="#1a1aff"/>
<rect x="142.4" y="421.7" width="2.2" height="2.6" fill="#1a1aff"/>
<rect x="55.5" y="421.2" width="2.2" height="2.6" fill="#1a1aff"/>
<rect x="147.2" y="422.0" width="2.2" height="2.6" fill="#1a1aff"/>
<rect x="60.3" y="425.8" width="2.2" height="2.6" fill="#1a1aff"/>
<rect x="65.2" y="425.2" width="2.2" height="2.6" fill="#1a1aff"/>
<rect x="70.0" y="424.7" width="2.2" height="2.6" fill="#1a1aff"/>
<rect x="74.8" y="424.1" width="2.2" height="2.6" fill="#1a1aff"/>
<rect x="79.6" y="423.6" width="2.2" height="2.6" fill="#1a1aff"/>
<rect x="84.5" y="422.9" width="2.2" height="2.6" fill="#1a1aff"/>
<rect x="89.3" y="422.2" width="2.2" height="2.6" fill="#1a1aff"/>
<rect x="94.1" y="421.8" width="2.2" height="2.6" fill="#1a1aff"/>
<rect x="98.9" y="421.7" width="2.2" height="2.6" fill="#1a1aff"/>
<rect x="103.8" y="421.7" width="2.2" height="2.6" fill="#1a1aff"/>
<rect x="108.6" y="421.8" width="2.2" height="2.6" fill="#1a1aff"/>
<rect x="113.4" y="422.0" width="2.2" height="2.6" fill="#1a1aff"/>
<rect x="118.2" y="422.1" width="2.2" height="2.6" fill="#1a1aff"/>
<rect x="123.1" y="422.3" width="2.2" height="2.6" fill="#1a1aff"/>
<rect x="127.9" y="422.5" width="2.2" height="2.6" fill="#1a1aff"/>
<rect x="132.7" y="422.6" width="2.2" height="2.6" fill="#1a1aff"/>
<rect x="137.5" y="422.8" width="2.2" height="2.6" fill="#1a1aff"/>
<rect x="142.4" y="423.0" width="2.2" height="2.6" fill="#1a1aff"/>
<rect x="55.5" y="426.3" width="2.2" height="2.6" fill="#1a1aff"/>
<rect x="147.2" y="423.2" width="2.2" height="2.6" fill="#1a1aff"/>
<rect x="60.3" y="439.1" width="2.2" height="2.6" fill="#1a1aff"/>
<rect x="65.2" y="438.5" width="2.2" height="2.6" fill="#1a1aff"/>
<rect x="70.0" y="438.0" width="2.2" height="2.6" fill="#1a1aff"/>
<rect x="74.8" y="437.7" width="2.2" height="2.6" fill="#1a1aff"/>
<rect x="79.6" y="437.5" width="2.2" height="2.6" fill="#1a1aff"/>
<rect x="84.5" y="437.5" width="2.2" height="2.6" fill="#1a1aff"/>
<rect x="89.3" y="437.5" width="2.2" height="2.6" fill="#1a1aff"/>
<rect x="94.1" y="437.6" width="2.2" height="2.6" fill="#1a1aff"/>
<rect x="98.9" y="437.8" width="2.2" height="2.6" fill="#1a1aff"/>
<rect x="103.8" y="438.0" width="2.2" height="2.6" fill="#1a1aff"/>
<rect x="108.6" y="438.3" width="2.2" height="2.6" fill="#1a1aff"/>
<rect x="113.4" y="438.7" width="2.2" height="2.6" fill="#1a1aff"/>
<rect x="118.2" y="439.1" width="2.2" height="2.6" fill="#1a1aff"/>
<rect x="123.1" y="439.5" width="2.2" height="2.6" fill="#1a1aff"/>
<rect x="127.9" y="439.9" width="2.2" height="2.6" fill="#1a1aff"/>
<rect x="132.7" y="440.4" width="2.2" height="2.6" fill="#1a1aff"/>
<rect x="137.5" y="440.8" width="2.2" height="2.6" fill="#1a1aff"/>
<rect x="142.4" y="441.3" width="2.2" height="2.6" fill="#1a1aff"/>
<rect x="55.5" y="439.7" width="2.2" height="2.6" fill="#1a1aff"/>
<rect x="147.2" y="441.7" width="2.2" height="2.6" fill="#1a1aff"/>
<rect x="60.3" y="444.7" width="2.2" height="2.6" fill="#1a1aff"/>
<rect x="65.2" y="444.7" width="2.2" height="2.6" fill="#1a1aff"/>
<rect x="70.0" y="444.7" width="2.2" height="2.6" fill="#1a1aff"/>
<rect x="74.8" y="444.6" width="2.2" height="2.6" fill="#1a1aff"/>
<rect x="79.6" y="444.6" width="2.2" height="2.6" fill="#1a1aff"/>
<rect x="84.5" y="444.6" width="2.2" height="2.6" fill="#1a1aff"/>
<rect x="89.3" y="444.6" width="2.2" height="2.6" fill="#1a1aff"/>
<rect x="94.1" y="444.7" width="2.2" height="2.6" fill="#1a1aff"/>
<rect x="98.9" y="444.7" width="2.2" height="2.6" fill="#1a1aff"/>
<rect x="103.8" y="444.8" width="2.2" height="2.6" fill="#1a1aff"/>
<rect x="108.6" y="444.8" width="2.2" height="2.6" fill="#1a1aff"/>
<rect x="113.4" y="444.9" width="2.2" height="2.6" fill="#1a1aff"/>
<rect x="118.2" y="445.0" width="2.2" height="2.6" fill="#1a1aff"/>
<rect x="123.1" y="445.1" width="2.2" height="2.6" fill="#1a1aff"/>
<rect x="127.9" y="445.2" width="2.2" height="2.6" fill="#1a1aff"/>
<rect x="132.7" y="445.4" width="2.2" height="2.6" fill="#1a1aff"/>
<rect x="137.5" y="445.5" width="2.2" height="2.6" fill="#1a1aff"/>
<rect x="142.4" y="445.6" width="2.2" height="2.6" fill="#1a1aff"/>
<rect x="55.5" y="444.7" width="2.2" height="2.6" fill="#1a1aff"/>
<rect x="147.2" y="445.7" width="2.2" height="2.6" fill="#1a1aff"/>
<rect x="60.3" y="448.8" width="2.2" height="2.6" fill="#1a1aff"/>
<rect x="65.2" y="448.8" width="2.2" height="2.6" fill="#1a1aff"/>
<rect x="70.0" y="448.9" width="2.2" height="2.6" fill="#1a1aff"/>
<rect x="74.8" y="449.0" width="2.2" height="2.6" fill="#1a1aff"/>
<rect x="79.6" y="449.0" width="2.2" height="2.6" fill="#1a1aff"/>
<rect x="84.5" y="449.1" width="2.2" height="2.6" fill="#1a1aff"/>
<rect x="89.3" y="449.1" width="2.2" height="2.6" fill="#1a1aff"/>
<rect x="94.1" y="449.2" width="2.2" height="2.6" fill="#1a1aff"/>
<rect x="98.9" y="449.2" width="2.2" height="2.6" fill="#1a1aff"/>
<rect x="103.8" y="449.2" width="2.2" height="2.6" fill="#1a1aff"/>
<rect x="108.6" y="449.2" width="2.2" height="2.6" fill="#1a1aff"/>
<rect x="113.4" y="449.2" width="2.2" height="2.6" fill="#1a1aff"/>
<rect x="118.2" y="449.2" width="2.2" height="2.6" fill="#1a1aff"/>
<rect x="123.1" y="449.2" width="2.2" height="2.6" fill="#1a1aff"/>
<rect x="127.9" y="449.2" width="2.2" height="2.6" fill="#1a1aff"/>
<rect x="132.7" y="449.2" width="2.2" height="2.6" fill="#1a1aff"/>
<rect x="137.5" y="449.2" width="2.2" height="2.6" fill="#1a1aff"/>
<rect x="142.4" y="449.2" width="2.2" height="2.6" fill="#1a1aff"/>
<rect x="55.5" y="448.7" width="2.2" height="2.6" fill="#1a1aff"/>
<rect x="147.2" y="449.2" width="2.2" height="2.6" fill="#1a1aff"/>
<circle cx="61.4" cy="280.0" r="1.15" fill="#1a1aff"/>
<circle cx="66.3" cy="279.8" r="1.15" fill="#1a1aff"/>
<circle cx="71.1" cy="279.6" r="1.15" fill="#1a1aff"/>
<circle cx="75.9" cy="279.4" r="1.15" fill="#1a1aff"/>
<circle cx="80.7" cy="279.1" r="1.15" fill="#1a1aff"/>
<circle cx="85.6" cy="278.8" r="1.15" fill="#1a1aff"/>
<circle cx="90.4" cy="278.4" r="1.15" fill="#1a1aff"/>
<circle cx="95.2" cy="278.0" r="1.15" fill="#1a1aff"/>
<circle cx="100.0" cy="277.5" r="1.15" fill="#1a1aff"/>
<circle cx="104.9" cy="276.8" r="1.15" fill="#1a1aff"/>
<circle cx="109.7" cy="276.0" r="1.15" fill="#1a1aff"/>
<circle cx="114.5" cy="275.2" r="1.15" fill="#1a1aff"/>
<circle cx="119.3" cy="274.2" r="1.15" fill="#1a1aff"/>
<circle cx="124.2" cy="273.3" r="1.15" fill="#1a1aff"/>
<circle cx="129.0" cy="272.3" r="1.15" fill="#1a1aff"/>
<circle cx="133.8" cy="271.3" r="1.15" fill="#1a1aff"/>
<circle cx="138.6" cy="270.2" r="1.15" fill="#1a1aff"/>
<circle cx="143.5" cy="269.2" r="1.15" fill="#1a1aff"/>
<circle cx="56.6" cy="280.2" r="1.15" fill="#1a1aff"/>
<circle cx="148.3" cy="268.2" r="1.15" fill="#1a1aff"/>
<circle cx="61.4" cy="295.8" r="1.15" fill="#1a1aff"/>
<circle cx="66.3" cy="294.4" r="1.15" fill="#1a1aff"/>
<circle cx="71.1" cy="293.2" r="1.15" fill="#1a1aff"/>
<circle cx="75.9" cy="292.2" r="1.15" fill="#1a1aff"/>
<circle cx="80.7" cy="291.3" r="1.15" fill="#1a1aff"/>
<circle cx="85.6" cy="290.6" r="1.15" fill="#1a1aff"/>
<circle cx="90.4" cy="290.0" r="1.15" fill="#1a1aff"/>
<circle cx="95.2" cy="289.5" r="1.15" fill="#1a1aff"/>
<circle cx="100.0" cy="289.0" r="1.15" fill="#1a1aff"/>
<circle cx="104.9" cy="288.6" r="1.15" fill="#1a1aff"/>
<circle cx="109.7" cy="288.1" r="1.15" fill="#1a1aff"/>
<circle cx="114.5" cy="287.7" r="1.15" fill="#1a1aff"/>
<circle cx="119.3" cy="287.2" r="1.15" fill="#1a1aff"/>
<circle cx="124.2" cy="286.8" r="1.15" fill="#1a1aff"/>
<circle cx="129.0" cy="286.4" r="1.15" fill="#1a1aff"/>
<circle cx="133.8" cy="286.0" r="1.15" fill="#1a1aff"/>
<circle cx="138.6" cy="285.6" r="1.15" fill="#1a1aff"/>
<circle cx="143.5" cy="285.2" r="1.15" fill="#1a1aff"/>
<circle cx="56.6" cy="297.1" r="1.15" fill="#1a1aff"/>
<circle cx="148.3" cy="284.7" r="1.15" fill="#1a1aff"/>
<circle cx="61.4" cy="331.8" r="1.15" fill="#1a1aff"/>
<circle cx="66.3" cy="329.6" r="1.15" fill="#1a1aff"/>
<circle cx="71.1" cy="327.5" r="1.15" fill="#1a1aff"/>
<circle cx="75.9" cy="325.3" r="1.15" fill="#1a1aff"/>
<circle cx="80.7" cy="323.2" r="1.15" fill="#1a1aff"/>
<circle cx="85.6" cy="321.1" r="1.15" fill="#1a1aff"/>
<circle cx="90.4" cy="319.0" r="1.15" fill="#1a1aff"/>
<circle cx="95.2" cy="316.9" r="1.15" fill="#1a1aff"/>
<circle cx="100.0" cy="314.8" r="1.15" fill="#1a1aff"/>
<circle cx="104.9" cy="312.8" r="1.15" fill="#1a1aff"/>
<circle cx="109.7" cy="310.8" r="1.15" fill="#1a1aff"/>
<circle cx="114.5" cy="308.9" r="1.15" fill="#1a1aff"/>
<circle cx="119.3" cy="307.1" r="1.15" fill="#1a1aff"/>
<circle cx="124.2" cy="305.5" r="1.15" fill="#1a1aff"/>
<circle cx="129.0" cy="303.8" r="1.15" fill="#1a1aff"/>
<circle cx="133.8" cy="302.3" r="1.15" fill="#1a1aff"/>
<circle cx="138.6" cy="300.7" r="1.15" fill="#1a1aff"/>
<circle cx="143.5" cy="299.2" r="1.15" fill="#1a1aff"/>
<circle cx="56.6" cy="333.9" r="1.15" fill="#1a1aff"/>
<circle cx="148.3" cy="297.7" r="1.15" fill="#1a1aff"/>
<circle cx="61.4" cy="328.3" r="1.15" fill="#1a1aff"/>
<circle cx="66.3" cy="326.0" r="1.15" fill="#1a1aff"/>
<circle cx="71.1" cy="323.8" r="1.15" fill="#1a1aff"/>
<circle cx="75.9" cy="321.7" r="1.15" fill="#1a1aff"/>
<circle cx="80.7" cy="319.7" r="1.15" fill="#1a1aff"/>
<circle cx="85.6" cy="317.8" r="1.15" fill="#1a1aff"/>
<circle cx="90.4" cy="316.0" r="1.15" fill="#1a1aff"/>
<circle cx="95.2" cy="314.3" r="1.15" fill="#1a1aff"/>
<circle cx="100.0" cy="312.8" r="1.15" fill="#1a1aff"/>
<circle cx="104.9" cy="311.2" r="1.15" fill="#1a1aff"/>
<circle cx="109.7" cy="309.7" r="1.15" fill="#1a1aff"/>
<circle cx="114.5" cy="308.2" r="1.15" fill="#1a1aff"/>
<circle cx="119.3" cy="306.7" r="1.15" fill="#1a1aff"/>
<circle cx="124.2" cy="305.2" r="1.15" fill="#1a1aff"/>
<circle cx="129.0" cy="303.8" r="1.15" fill="#1a1aff"/>
<circle cx="133.8" cy="302.3" r="1.15" fill="#1a1aff"/>
<circle cx="138.6" cy="300.9" r="1.15" fill="#1a1aff"/>
<circle cx="143.5" cy="299.4" r="1.15" fill="#1a1aff"/>
<circle cx="56.6" cy="330.5" r="1.15" fill="#1a1aff"/>
<circle cx="148.3" cy="297.9" r="1.15" fill="#1a1aff"/>
<circle cx="61.4" cy="268.7" r="1.15" fill="#1a1aff"/>
<circle cx="66.3" cy="268.4" r="1.15" fill="#1a1aff"/>
<circle cx="71.1" cy="268.1" r="1.15" fill="#1a1aff"/>
<circle cx="75.9" cy="267.8" r="1.15" fill="#1a1aff"/>
<circle cx="80.7" cy="267.6" r="1.15" fill="#1a1aff"/>
<circle cx="85.6" cy="267.5" r="1.15" fill="#1a1aff"/>
<circle cx="90.4" cy="267.4" r="1.15" fill="#1a1aff"/>
<circle cx="95.2" cy="267.5" r="1.15" fill="#1a1aff"/>
<circle cx="100.0" cy="267.7" r="1.15" fill="#1a1aff"/>
<circle cx="104.9" cy="268.0" r="1.15" fill="#1a1aff"/>
<circle cx="109.7" cy="268.3" r="1.15" fill="#1a1aff"/>
<circle cx="114.5" cy="268.6" r="1.15" fill="#1a1aff"/>
<circle cx="119.3" cy="269.0" r="1.15" fill="#1a1aff"/>
<circle cx="124.2" cy="269.5" r="1.15" fill="#1a1aff"/>
<circle cx="129.0" cy="269.9" r="1.15" fill="#1a1aff"/>
<circle cx="133.8" cy="270.3" r="1.15" fill="#1a1aff"/>
<circle cx="138.6" cy="270.8" r="1.15" fill="#1a1aff"/>
<circle cx="143.5" cy="271.2" r="1.15" fill="#1a1aff"/>
<circle cx="56.6" cy="268.9" r="1.15" fill="#1a1aff"/>
<circle cx="148.3" cy="271.6" r="1.15" fill="#1a1aff"/>
<circle cx="61.4" cy="319.1" r="1.15" fill="#1a1aff"/>
<circle cx="66.3" cy="317.1" r="1.15" fill="#1a1aff"/>
<circle cx="71.1" cy="315.2" r="1.15" fill="#1a1aff"/>
<circle cx="75.9" cy="313.3" r="1.15" fill="#1a1aff"/>
<circle cx="80.7" cy="311.4" r="1.15" fill="#1a1aff"/>
<circle cx="85.6" cy="309.7" r="1.15" fill="#1a1aff"/>
<circle cx="90.4" cy="308.1" r="1.15" fill="#1a1aff"/>
<circle cx="95.2" cy="306.7" r="1.15" fill="#1a1aff"/>
<circle cx="100.0" cy="305.4" r="1.15" fill="#1a1aff"/>
<circle cx="104.9" cy="304.3" r="1.15" fill="#1a1aff"/>
<circle cx="109.7" cy="303.3" r="1.15" fill="#1a1aff"/>
<circle cx="114.5" cy="302.4" r="1.15" fill="#1a1aff"/>
<circle cx="119.3" cy="301.5" r="1.15" fill="#1a1aff"/>
<circle cx="124.2" cy="300.6" r="1.15" fill="#1a1aff"/>
<circle cx="129.0" cy="299.8" r="1.15" fill="#1a1aff"/>
<circle cx="133.8" cy="299.0" r="1.15" fill="#1a1aff"/>
<circle cx="138.6" cy="298.2" r="1.15" fill="#1a1aff"/>
<circle cx="143.5" cy="297.4" r="1.15" fill="#1a1aff"/>
<circle cx="56.6" cy="321.0" r="1.15" fill="#1a1aff"/>
<circle cx="148.3" cy="296.5" r="1.15" fill="#1a1aff"/>
<path d="M61.4,315.4L62.7,317.8L60.1,317.8Z" fill="#ff1010"/>
<path d="M66.3,317.1L67.6,319.6L65.0,319.6Z" fill="#ff1010"/>
<path d="M71.1,318.4L72.4,320.8L69.8,320.8Z" fill="#ff1010"/>
<path d="M75.9,319.0L77.2,321.5L74.6,321.5Z" fill="#ff1010"/>
<path d="M80.7,318.5L82.0,321.0L79.4,321.0Z" fill="#ff1010"/>
<path d="M85.6,316.9L86.9,319.4L84.3,319.4Z" fill="#ff1010"/>
<path d="M90.4,314.5L91.7,317.0L89.1,317.0Z" fill="#ff1010"/>
<path d="M95.2,311.8L96.5,314.2L93.9,314.2Z" fill="#ff1010"/>
<path d="M100.0,308.9L101.3,311.4L98.7,311.4Z" fill="#ff1010"/>
<path d="M104.9,306.2L106.2,308.7L103.6,308.7Z" fill="#ff1010"/>
<path d="M109.7,303.8L111.0,306.3L108.4,306.3Z" fill="#ff1010"/>
<path d="M114.5,301.8L115.8,304.2L113.2,304.2Z" fill="#ff1010"/>
<path d="M119.3,299.8L120.6,302.3L118.0,302.3Z" fill="#ff1010"/>
<path d="M124.2,297.9L125.5,300.4L122.9,300.4Z" fill="#ff1010"/>
<path d="M129.0,296.0L130.3,298.5L127.7,298.5Z" fill="#ff1010"/>
<path d="M133.8,294.2L135.1,296.7L132.5,296.7Z" fill="#ff1010"/>
<path d="M138.6,292.4L139.9,294.8L137.3,294.8Z" fill="#ff1010"/>
<path d="M143.5,290.5L144.8,293.0L142.2,293.0Z" fill="#ff1010"/>
<path d="M61.4,325.9L62.7,328.3L60.1,328.3Z" fill="#ff1010"/>
<path d="M66.3,323.0L67.6,325.5L65.0,325.5Z" fill="#ff1010"/>
<path d="M71.1,320.1L72.4,322.6L69.8,322.6Z" fill="#ff1010"/>
<path d="M75.9,317.3L77.2,319.7L74.6,319.7Z" fill="#ff1010"/>
<path d="M80.7,314.4L82.0,316.9L79.4,316.9Z" fill="#ff1010"/>
<path d="M85.6,311.7L86.9,314.1L84.3,314.1Z" fill="#ff1010"/>
<path d="M90.4,308.9L91.7,311.4L89.1,311.4Z" fill="#ff1010"/>
<path d="M95.2,306.3L96.5,308.7L93.9,308.7Z" fill="#ff1010"/>
<path d="M100.0,303.7L101.3,306.2L98.7,306.2Z" fill="#ff1010"/>
<path d="M104.9,301.2L106.2,303.7L103.6,303.7Z" fill="#ff1010"/>
<path d="M109.7,298.8L111.0,301.3L108.4,301.3Z" fill="#ff1010"/>
<path d="M114.5,296.5L115.8,298.9L113.2,298.9Z" fill="#ff1010"/>
<path d="M119.3,294.2L120.6,296.6L118.0,296.6Z" fill="#ff1010"/>
<path d="M124.2,291.9L125.5,294.4L122.9,294.4Z" fill="#ff1010"/>
<path d="M129.0,289.6L130.3,292.1L127.7,292.1Z" fill="#ff1010"/>
<path d="M133.8,287.4L135.1,289.9L132.5,289.9Z" fill="#ff1010"/>
<path d="M138.6,285.2L139.9,287.7L137.3,287.7Z" fill="#ff1010"/>
<path d="M143.5,283.0L144.8,285.4L142.2,285.4Z" fill="#ff1010"/>
<path d="M61.4,297.2L62.7,299.7L60.1,299.7Z" fill="#ff1010"/>
<path d="M66.3,295.7L67.6,298.2L65.0,298.2Z" fill="#ff1010"/>
<path d="M71.1,294.2L72.4,296.7L69.8,296.7Z" fill="#ff1010"/>
<path d="M75.9,292.7L77.2,295.2L74.6,295.2Z" fill="#ff1010"/>
<path d="M80.7,291.2L82.0,293.7L79.4,293.7Z" fill="#ff1010"/>
<path d="M85.6,289.8L86.9,292.2L84.3,292.2Z" fill="#ff1010"/>
<path d="M90.4,288.4L91.7,290.8L89.1,290.8Z" fill="#ff1010"/>
<path d="M95.2,287.0L96.5,289.5L93.9,289.5Z" fill="#ff1010"/>
<path d="M100.0,285.7L101.3,288.2L98.7,288.2Z" fill="#ff1010"/>
<path d="M104.9,284.5L106.2,286.9L103.6,286.9Z" fill="#ff1010"/>
<path d="M109.7,283.3L111.0,285.8L108.4,285.8Z" fill="#ff1010"/>
<path d="M114.5,282.2L115.8,284.6L113.2,284.6Z" fill="#ff1010"/>
<path d="M119.3,281.1L120.6,283.5L118.0,283.5Z" fill="#ff1010"/>
<path d="M124.2,280.0L125.5,282.5L122.9,282.5Z" fill="#ff1010"/>
<path d="M129.0,278.9L130.3,281.4L127.7,281.4Z" fill="#ff1010"/>
<path d="M133.8,277.9L135.1,280.3L132.5,280.3Z" fill="#ff1010"/>
<path d="M138.6,276.8L139.9,279.3L137.3,279.3Z" fill="#ff1010"/>
<path d="M143.5,275.8L144.8,278.2L142.2,278.2Z" fill="#ff1010"/>
<path d="M61.4,272.9L62.7,275.4L60.1,275.4Z" fill="#ff1010"/>
<path d="M66.3,272.0L67.6,274.5L65.0,274.5Z" fill="#ff1010"/>
<path d="M71.1,271.1L72.4,273.6L69.8,273.6Z" fill="#ff1010"/>
<path d="M75.9,270.3L77.2,272.8L74.6,272.8Z" fill="#ff1010"/>
<path d="M80.7,269.6L82.0,272.0L79.4,272.0Z" fill="#ff1010"/>
<path d="M85.6,269.0L86.9,271.5L84.3,271.5Z" fill="#ff1010"/>
<path d="M90.4,268.6L91.7,271.1L89.1,271.1Z" fill="#ff1010"/>
<path d="M95.2,268.5L96.5,271.0L93.9,271.0Z" fill="#ff1010"/>
<path d="M100.0,268.7L101.3,271.2L98.7,271.2Z" fill="#ff1010"/>
<path d="M104.9,269.3L106.2,271.8L103.6,271.8Z" fill="#ff1010"/>
<path d="M109.7,270.3L111.0,272.7L108.4,272.7Z" fill="#ff1010"/>
<path d="M114.5,271.4L115.8,273.9L113.2,273.9Z" fill="#ff1010"/>
<path d="M119.3,272.7L120.6,275.2L118.0,275.2Z" fill="#ff1010"/>
<path d="M124.2,274.1L125.5,276.5L122.9,276.5Z" fill="#ff1010"/>
<path d="M129.0,275.5L130.3,278.0L127.7,278.0Z" fill="#ff1010"/>
<path d="M133.8,277.1L135.1,279.6L132.5,279.6Z" fill="#ff1010"/>
<path d="M138.6,278.7L139.9,281.1L137.3,281.1Z" fill="#ff1010"/>
<path d="M143.5,280.2L144.8,282.7L142.2,282.7Z" fill="#ff1010"/>
<path d="M61.4,280.9L62.7,283.4L60.1,283.4Z" fill="#ff1010"/>
<path d="M66.3,280.1L67.6,282.6L65.0,282.6Z" fill="#ff1010"/>
<path d="M71.1,279.3L72.4,281.8L69.8,281.8Z" fill="#ff1010"/>
<path d="M75.9,278.5L77.2,281.0L74.6,281.0Z" fill="#ff1010"/>
<path d="M80.7,277.6L82.0,280.1L79.4,280.1Z" fill="#ff1010"/>
<path d="M85.6,276.7L86.9,279.1L84.3,279.1Z" fill="#ff1010"/>
<path d="M90.4,275.6L91.7,278.1L89.1,278.1Z" fill="#ff1010"/>
<path d="M95.2,274.2L96.5,276.7L93.9,276.7Z" fill="#ff1010"/>
<path d="M100.0,272.5L101.3,275.0L98.7,275.0Z" fill="#ff1010"/>
<path d="M104.9,270.7L106.2,273.2L103.6,273.2Z" fill="#ff1010"/>
<path d="M109.7,269.0L111.0,271.5L108.4,271.5Z" fill="#ff1010"/>
<path d="M114.5,267.6L115.8,270.1L113.2,270.1Z" fill="#ff1010"/>
<path d="M119.3,266.8L120.6,269.2L118.0,269.2Z" fill="#ff1010"/>
<path d="M124.2,266.6L125.5,269.1L122.9,269.1Z" fill="#ff1010"/>
<path d="M129.0,267.0L130.3,269.5L127.7,269.5Z" fill="#ff1010"/>
<path d="M133.8,267.7L135.1,270.2L132.5,270.2Z" fill="#ff1010"/>
<path d="M138.6,268.7L139.9,271.1L137.3,271.1Z" fill="#ff1010"/>
<path d="M143.5,269.7L144.8,272.2L142.2,272.2Z" fill="#ff1010"/>
<path d="M61.4,307.5L62.7,309.9L60.1,309.9Z" fill="#ff1010"/>
<path d="M66.3,306.3L67.6,308.8L65.0,308.8Z" fill="#ff1010"/>
<path d="M71.1,305.1L72.4,307.6L69.8,307.6Z" fill="#ff1010"/>
<path d="M75.9,304.0L77.2,306.4L74.6,306.4Z" fill="#ff1010"/>
<path d="M80.7,302.7L82.0,305.2L79.4,305.2Z" fill="#ff1010"/>
<path d="M85.6,301.4L86.9,303.9L84.3,303.9Z" fill="#ff1010"/>
<path d="M90.4,300.0L91.7,302.5L89.1,302.5Z" fill="#ff1010"/>
<path d="M95.2,298.5L96.5,300.9L93.9,300.9Z" fill="#ff1010"/>
<path d="M100.0,296.7L101.3,299.2L98.7,299.2Z" fill="#ff1010"/>
<path d="M104.9,294.5L106.2,296.9L103.6,296.9Z" fill="#ff1010"/>
<path d="M109.7,291.8L111.0,294.2L108.4,294.2Z" fill="#ff1010"/>
<path d="M114.5,288.7L115.8,291.2L113.2,291.2Z" fill="#ff1010"/>
<path d="M119.3,285.4L120.6,287.9L118.0,287.9Z" fill="#ff1010"/>
<path d="M124.2,282.1L125.5,284.6L122.9,284.6Z" fill="#ff1010"/>
<path d="M129.0,279.2L130.3,281.7L127.7,281.7Z" fill="#ff1010"/>
<path d="M133.8,277.0L135.1,279.5L132.5,279.5Z" fill="#ff1010"/>
<path d="M138.6,275.3L139.9,277.7L137.3,277.7Z" fill="#ff1010"/>
<path d="M143.5,273.9L144.8,276.4L142.2,276.4Z" fill="#ff1010"/>
<path d="M61.4,368.1L63.0,371.1L59.9,371.1Z" fill="#ff1010"/>
<path d="M66.3,371.3L67.8,374.3L64.7,374.3Z" fill="#ff1010"/>
<path d="M71.1,374.7L72.6,377.6L69.5,377.6Z" fill="#ff1010"/>
<path d="M75.9,378.4L77.5,381.3L74.4,381.3Z" fill="#ff1010"/>
<path d="M80.7,382.5L82.3,385.4L79.2,385.4Z" fill="#ff1010"/>
<path d="M85.6,386.6L87.1,389.6L84.0,389.6Z" fill="#ff1010"/>
<path d="M90.4,390.6L91.9,393.6L88.8,393.6Z" fill="#ff1010"/>
<path d="M95.2,395.0L96.8,398.0L93.7,398.0Z" fill="#ff1010"/>
<path d="M100.0,399.3L101.6,402.2L98.5,402.2Z" fill="#ff1010"/>
<path d="M104.9,402.1L106.4,405.1L103.3,405.1Z" fill="#ff1010"/>
<path d="M109.7,404.4L111.2,407.3L108.1,407.3Z" fill="#ff1010"/>
<path d="M114.5,406.3L116.1,409.2L113.0,409.2Z" fill="#ff1010"/>
<path d="M119.3,407.9L120.9,410.8L117.8,410.8Z" fill="#ff1010"/>
<path d="M124.2,409.2L125.7,412.2L122.6,412.2Z" fill="#ff1010"/>
<path d="M129.0,410.3L130.5,413.2L127.4,413.2Z" fill="#ff1010"/>
<path d="M133.8,411.0L135.4,414.0L132.3,414.0Z" fill="#ff1010"/>
<path d="M138.6,411.6L140.2,414.5L137.1,414.5Z" fill="#ff1010"/>
<path d="M143.5,412.0L145.0,415.0L141.9,415.0Z" fill="#ff1010"/>
<path d="M61.4,388.4L63.0,391.3L59.9,391.3Z" fill="#ff1010"/>
<path d="M66.3,388.9L67.8,391.8L64.7,391.8Z" fill="#ff1010"/>
<path d="M71.1,389.4L72.6,392.4L69.5,392.4Z" fill="#ff1010"/>
<path d="M75.9,390.0L77.5,392.9L74.4,392.9Z" fill="#ff1010"/>
<path d="M80.7,390.7L82.3,393.6L79.2,393.6Z" fill="#ff1010"/>
<path d="M85.6,391.6L87.1,394.6L84.0,394.6Z" fill="#ff1010"/>
<path d="M90.4,393.3L91.9,396.2L88.8,396.2Z" fill="#ff1010"/>
<path d="M95.2,396.0L96.8,398.9L93.7,398.9Z" fill="#ff1010"/>
<path d="M100.0,400.5L101.6,403.4L98.5,403.4Z" fill="#ff1010"/>
<path d="M104.9,402.6L106.4,405.5L103.3,405.5Z" fill="#ff1010"/>
<path d="M109.7,402.8L111.2,405.8L108.1,405.8Z" fill="#ff1010"/>
<path d="M114.5,402.6L116.1,405.6L113.0,405.6Z" fill="#ff1010"/>
<path d="M119.3,402.5L120.9,405.4L117.8,405.4Z" fill="#ff1010"/>
<path d="M124.2,402.4L125.7,405.4L122.6,405.4Z" fill="#ff1010"/>
<path d="M129.0,402.4L130.5,405.4L127.4,405.4Z" fill="#ff1010"/>
<path d="M133.8,402.4L135.4,405.3L132.3,405.3Z" fill="#ff1010"/>
<path d="M138.6,402.3L140.2,405.2L137.1,405.2Z" fill="#ff1010"/>
<path d="M143.5,402.0L145.0,404.9L141.9,404.9Z" fill="#ff1010"/>
<path d="M95.2,392.9L96.8,395.9L93.7,395.9Z" fill="#ff1010"/>
<path d="M100.0,389.0L101.6,391.9L98.5,391.9Z" fill="#ff1010"/>
<path d="M104.9,386.0L106.4,388.9L103.3,388.9Z" fill="#ff1010"/>
<path d="M109.7,384.0L111.2,387.0L108.1,387.0Z" fill="#ff1010"/>
<path d="M114.5,382.5L116.1,385.4L113.0,385.4Z" fill="#ff1010"/>
<path d="M119.3,381.4L120.9,384.4L117.8,384.4Z" fill="#ff1010"/>
<path d="M124.2,381.2L125.7,384.1L122.6,384.1Z" fill="#ff1010"/>
<path d="M129.0,382.2L130.5,385.1L127.4,385.1Z" fill="#ff1010"/>
<path d="M133.8,384.1L135.4,387.1L132.3,387.1Z" fill="#ff1010"/>
<path d="M138.6,386.6L140.2,389.6L137.1,389.6Z" fill="#ff1010"/>
<path d="M143.5,390.0L145.0,392.9L141.9,392.9Z" fill="#ff1010"/>
<path d="M100.0,423.5L101.6,426.4L98.5,426.4Z" fill="#ff1010"/>
<path d="M104.9,424.7L106.4,427.6L103.3,427.6Z" fill="#ff1010"/>
<path d="M109.7,425.9L111.2,428.8L108.1,428.8Z" fill="#ff1010"/>
<path d="M114.5,427.1L116.1,430.0L113.0,430.0Z" fill="#ff1010"/>
<path d="M119.3,428.3L120.9,431.2L117.8,431.2Z" fill="#ff1010"/>
<path d="M124.2,429.6L125.7,432.6L122.6,432.6Z" fill="#ff1010"/>
<path d="M129.0,430.9L130.5,433.8L127.4,433.8Z" fill="#ff1010"/>
<path d="M133.8,431.6L135.4,434.6L132.3,434.6Z" fill="#ff1010"/>
<path d="M138.6,432.3L140.2,435.2L137.1,435.2Z" fill="#ff1010"/>
<path d="M143.5,432.9L145.0,435.8L141.9,435.8Z" fill="#ff1010"/>
<path d="M61.4,409.7L63.0,412.6L59.9,412.6Z" fill="#ff1010"/>
<path d="M66.3,407.9L67.8,410.8L64.7,410.8Z" fill="#ff1010"/>
<path d="M71.1,406.0L72.6,409.0L69.5,409.0Z" fill="#ff1010"/>
<path d="M75.9,404.1L77.5,407.1L74.4,407.1Z" fill="#ff1010"/>
<path d="M80.7,402.2L82.3,405.2L79.2,405.2Z" fill="#ff1010"/>
<path d="M85.6,400.3L87.1,403.3L84.0,403.3Z" fill="#ff1010"/>
<path d="M61.4,440.7L63.0,443.7L59.9,443.7Z" fill="#ff1010"/>
<path d="M66.3,441.8L67.8,444.7L64.7,444.7Z" fill="#ff1010"/>
<path d="M71.1,442.7L72.6,445.7L69.5,445.7Z" fill="#ff1010"/>
<path d="M75.9,443.6L77.5,446.5L74.4,446.5Z" fill="#ff1010"/>
<path d="M80.7,444.1L82.3,447.1L79.2,447.1Z" fill="#ff1010"/>
<path d="M61.4,274.0L62.7,276.5L60.1,276.5Z" fill="#ff1010"/>
<path d="M66.3,274.0L67.6,276.4L65.0,276.4Z" fill="#ff1010"/>
<path d="M71.1,273.9L72.4,276.4L69.8,276.4Z" fill="#ff1010"/>
<path d="M75.9,273.8L77.2,276.3L74.6,276.3Z" fill="#ff1010"/>
<path d="M80.7,273.8L82.0,276.3L79.4,276.3Z" fill="#ff1010"/>
<path d="M85.6,273.7L86.9,276.2L84.3,276.2Z" fill="#ff1010"/>
<path d="M90.4,273.6L91.7,276.1L89.1,276.1Z" fill="#ff1010"/>
<path d="M95.2,273.5L96.5,276.0L93.9,276.0Z" fill="#ff1010"/>
<path d="M100.0,273.4L101.3,275.9L98.7,275.9Z" fill="#ff1010"/>
<path d="M104.9,273.3L106.2,275.7L103.6,275.7Z" fill="#ff1010"/>
<path d="M109.7,273.0L111.0,275.5L108.4,275.5Z" fill="#ff1010"/>
<path d="M114.5,272.8L115.8,275.2L113.2,275.2Z" fill="#ff1010"/>
<path d="M119.3,272.4L120.6,274.8L118.0,274.8Z" fill="#ff1010"/>
<path d="M124.2,271.9L125.5,274.4L122.9,274.4Z" fill="#ff1010"/>
<path d="M129.0,271.4L130.3,273.9L127.7,273.9Z" fill="#ff1010"/>
<path d="M133.8,270.9L135.1,273.4L132.5,273.4Z" fill="#ff1010"/>
<path d="M138.6,270.3L139.9,272.8L137.3,272.8Z" fill="#ff1010"/>
<path d="M143.5,269.7L144.8,272.2L142.2,272.2Z" fill="#ff1010"/>
<path d="M61.4,271.6L62.7,274.1L60.1,274.1Z" fill="#ff1010"/>
<path d="M66.3,273.1L67.6,275.6L65.0,275.6Z" fill="#ff1010"/>
<path d="M71.1,274.6L72.4,277.1L69.8,277.1Z" fill="#ff1010"/>
<path d="M75.9,276.1L77.2,278.6L74.6,278.6Z" fill="#ff1010"/>
<path d="M80.7,277.5L82.0,280.0L79.4,280.0Z" fill="#ff1010"/>
<path d="M85.6,278.8L86.9,281.3L84.3,281.3Z" fill="#ff1010"/>
<path d="M90.4,280.0L91.7,282.4L89.1,282.4Z" fill="#ff1010"/>
<path d="M95.2,281.0L96.5,283.4L93.9,283.4Z" fill="#ff1010"/>
<path d="M100.0,281.7L101.3,284.2L98.7,284.2Z" fill="#ff1010"/>
<path d="M104.9,282.2L106.2,284.7L103.6,284.7Z" fill="#ff1010"/>
<path d="M109.7,282.6L111.0,285.0L108.4,285.0Z" fill="#ff1010"/>
<path d="M114.5,282.8L115.8,285.3L113.2,285.3Z" fill="#ff1010"/>
<path d="M119.3,283.0L120.6,285.4L118.0,285.4Z" fill="#ff1010"/>
<path d="M124.2,283.1L125.5,285.5L122.9,285.5Z" fill="#ff1010"/>
<path d="M129.0,283.1L130.3,285.6L127.7,285.6Z" fill="#ff1010"/>
<path d="M133.8,283.2L135.1,285.6L132.5,285.6Z" fill="#ff1010"/>
<path d="M138.6,283.2L139.9,285.6L137.3,285.6Z" fill="#ff1010"/>
<path d="M143.5,283.2L144.8,285.6L142.2,285.6Z" fill="#ff1010"/>
<path d="M61.4,316.1L62.7,318.6L60.1,318.6Z" fill="#ff1010"/>
<path d="M66.3,315.5L67.6,318.0L65.0,318.0Z" fill="#ff1010"/>
<path d="M71.1,314.9L72.4,317.3L69.8,317.3Z" fill="#ff1010"/>
<path d="M75.9,314.2L77.2,316.7L74.6,316.7Z" fill="#ff1010"/>
<path d="M80.7,313.5L82.0,316.0L79.4,316.0Z" fill="#ff1010"/>
<path d="M85.6,312.7L86.9,315.2L84.3,315.2Z" fill="#ff1010"/>
<path d="M90.4,311.9L91.7,314.3L89.1,314.3Z" fill="#ff1010"/>
<path d="M95.2,310.9L96.5,313.4L93.9,313.4Z" fill="#ff1010"/>
<path d="M100.0,309.7L101.3,312.2L98.7,312.2Z" fill="#ff1010"/>
<path d="M104.9,308.3L106.2,310.8L103.6,310.8Z" fill="#ff1010"/>
<path d="M109.7,306.6L111.0,309.0L108.4,309.0Z" fill="#ff1010"/>
<path d="M114.5,304.6L115.8,307.1L113.2,307.1Z" fill="#ff1010"/>
<path d="M119.3,302.4L120.6,304.9L118.0,304.9Z" fill="#ff1010"/>
<path d="M124.2,300.1L125.5,302.6L122.9,302.6Z" fill="#ff1010"/>
<path d="M129.0,297.7L130.3,300.1L127.7,300.1Z" fill="#ff1010"/>
<path d="M133.8,295.2L135.1,297.6L132.5,297.6Z" fill="#ff1010"/>
<path d="M138.6,292.6L139.9,295.1L137.3,295.1Z" fill="#ff1010"/>
<path d="M143.5,290.0L144.8,292.5L142.2,292.5Z" fill="#ff1010"/>
<circle cx="178.5" cy="268.1" r="1.15" fill="#1a1aff"/>
<circle cx="183.3" cy="268.1" r="1.15" fill="#1a1aff"/>
<circle cx="188.1" cy="268.2" r="1.15" fill="#1a1aff"/>
<circle cx="192.9" cy="268.2" r="1.15" fill="#1a1aff"/>
<circle cx="197.7" cy="268.3" r="1.15" fill="#1a1aff"/>
<circle cx="202.5" cy="268.4" r="1.15" fill="#1a1aff"/>
<circle cx="207.3" cy="268.4" r="1.15" fill="#1a1aff"/>
<circle cx="212.1" cy="268.5" r="1.15" fill="#1a1aff"/>
<circle cx="216.9" cy="268.7" r="1.15" fill="#1a1aff"/>
<circle cx="221.8" cy="268.8" r="1.15" fill="#1a1aff"/>
<circle cx="226.6" cy="268.9" r="1.15" fill="#1a1aff"/>
<circle cx="231.4" cy="269.0" r="1.15" fill="#1a1aff"/>
<circle cx="236.2" cy="269.2" r="1.15" fill="#1a1aff"/>
<circle cx="241.0" cy="269.3" r="1.15" fill="#1a1aff"/>
<circle cx="245.8" cy="269.5" r="1.15" fill="#1a1aff"/>
<circle cx="250.6" cy="269.6" r="1.15" fill="#1a1aff"/>
<circle cx="255.4" cy="269.7" r="1.15" fill="#1a1aff"/>
<circle cx="260.2" cy="269.9" r="1.15" fill="#1a1aff"/>
<circle cx="265.0" cy="270.0" r="1.15" fill="#1a1aff"/>
<circle cx="178.5" cy="278.4" r="1.15" fill="#1a1aff"/>
<circle cx="183.3" cy="278.8" r="1.15" fill="#1a1aff"/>
<circle cx="188.1" cy="279.2" r="1.15" fill="#1a1aff"/>
<circle cx="192.9" cy="279.6" r="1.15" fill="#1a1aff"/>
<circle cx="197.7" cy="280.0" r="1.15" fill="#1a1aff"/>
<circle cx="202.5" cy="280.4" r="1.15" fill="#1a1aff"/>
<circle cx="207.3" cy="280.8" r="1.15" fill="#1a1aff"/>
<circle cx="212.1" cy="281.2" r="1.15" fill="#1a1aff"/>
<circle cx="216.9" cy="281.5" r="1.15" fill="#1a1aff"/>
<circle cx="221.8" cy="281.9" r="1.15" fill="#1a1aff"/>
<circle cx="226.6" cy="282.2" r="1.15" fill="#1a1aff"/>
<circle cx="231.4" cy="282.6" r="1.15" fill="#1a1aff"/>
<circle cx="236.2" cy="282.9" r="1.15" fill="#1a1aff"/>
<circle cx="241.0" cy="283.3" r="1.15" fill="#1a1aff"/>
<circle cx="245.8" cy="283.6" r="1.15" fill="#1a1aff"/>
<circle cx="250.6" cy="284.0" r="1.15" fill="#1a1aff"/>
<circle cx="255.4" cy="284.3" r="1.15" fill="#1a1aff"/>
<circle cx="260.2" cy="284.7" r="1.15" fill="#1a1aff"/>
<circle cx="265.0" cy="285.0" r="1.15" fill="#1a1aff"/>
<circle cx="178.5" cy="289.3" r="1.15" fill="#1a1aff"/>
<circle cx="183.3" cy="289.7" r="1.15" fill="#1a1aff"/>
<circle cx="188.1" cy="290.0" r="1.15" fill="#1a1aff"/>
<circle cx="192.9" cy="290.3" r="1.15" fill="#1a1aff"/>
<circle cx="197.7" cy="290.7" r="1.15" fill="#1a1aff"/>
<circle cx="202.5" cy="291.2" r="1.15" fill="#1a1aff"/>
<circle cx="207.3" cy="291.7" r="1.15" fill="#1a1aff"/>
<circle cx="212.1" cy="292.3" r="1.15" fill="#1a1aff"/>
<circle cx="216.9" cy="292.9" r="1.15" fill="#1a1aff"/>
<circle cx="221.8" cy="293.6" r="1.15" fill="#1a1aff"/>
<circle cx="226.6" cy="294.2" r="1.15" fill="#1a1aff"/>
<circle cx="231.4" cy="294.9" r="1.15" fill="#1a1aff"/>
<circle cx="236.2" cy="295.6" r="1.15" fill="#1a1aff"/>
<circle cx="241.0" cy="296.4" r="1.15" fill="#1a1aff"/>
<circle cx="245.8" cy="297.1" r="1.15" fill="#1a1aff"/>
<circle cx="250.6" cy="297.8" r="1.15" fill="#1a1aff"/>
<circle cx="255.4" cy="298.6" r="1.15" fill="#1a1aff"/>
<circle cx="260.2" cy="299.3" r="1.15" fill="#1a1aff"/>
<circle cx="265.0" cy="300.0" r="1.15" fill="#1a1aff"/>
<circle cx="178.5" cy="296.6" r="1.15" fill="#1a1aff"/>
<circle cx="183.3" cy="297.2" r="1.15" fill="#1a1aff"/>
<circle cx="188.1" cy="297.8" r="1.15" fill="#1a1aff"/>
<circle cx="192.9" cy="298.4" r="1.15" fill="#1a1aff"/>
<circle cx="197.7" cy="299.2" r="1.15" fill="#1a1aff"/>
<circle cx="202.5" cy="300.1" r="1.15" fill="#1a1aff"/>
<circle cx="207.3" cy="301.2" r="1.15" fill="#1a1aff"/>
<circle cx="212.1" cy="302.8" r="1.15" fill="#1a1aff"/>
<circle cx="216.9" cy="304.8" r="1.15" fill="#1a1aff"/>
<circle cx="221.8" cy="307.3" r="1.15" fill="#1a1aff"/>
<circle cx="226.6" cy="310.1" r="1.15" fill="#1a1aff"/>
<circle cx="231.4" cy="313.1" r="1.15" fill="#1a1aff"/>
<circle cx="236.2" cy="315.9" r="1.15" fill="#1a1aff"/>
<circle cx="241.0" cy="318.5" r="1.15" fill="#1a1aff"/>
<circle cx="245.8" cy="320.9" r="1.15" fill="#1a1aff"/>
<circle cx="250.6" cy="323.2" r="1.15" fill="#1a1aff"/>
<circle cx="255.4" cy="325.5" r="1.15" fill="#1a1aff"/>
<circle cx="260.2" cy="327.7" r="1.15" fill="#1a1aff"/>
<circle cx="265.0" cy="330.0" r="1.15" fill="#1a1aff"/>
<circle cx="178.5" cy="309.2" r="1.15" fill="#1a1aff"/>
<circle cx="183.3" cy="310.4" r="1.15" fill="#1a1aff"/>
<circle cx="188.1" cy="311.6" r="1.15" fill="#1a1aff"/>
<circle cx="192.9" cy="312.9" r="1.15" fill="#1a1aff"/>
<circle cx="197.7" cy="314.2" r="1.15" fill="#1a1aff"/>
<circle cx="202.5" cy="315.6" r="1.15" fill="#1a1aff"/>
<circle cx="207.3" cy="317.1" r="1.15" fill="#1a1aff"/>
<circle cx="212.1" cy="318.8" r="1.15" fill="#1a1aff"/>
<circle cx="216.9" cy="320.8" r="1.15" fill="#1a1aff"/>
<circle cx="221.8" cy="323.0" r="1.15" fill="#1a1aff"/>
<circle cx="226.6" cy="325.4" r="1.15" fill="#1a1aff"/>
<circle cx="231.4" cy="327.8" r="1.15" fill="#1a1aff"/>
<circle cx="236.2" cy="330.2" r="1.15" fill="#1a1aff"/>
<circle cx="241.0" cy="332.4" r="1.15" fill="#1a1aff"/>
<circle cx="245.8" cy="334.6" r="1.15" fill="#1a1aff"/>
<circle cx="250.6" cy="336.7" r="1.15" fill="#1a1aff"/>
<circle cx="255.4" cy="338.8" r="1.15" fill="#1a1aff"/>
<circle cx="260.2" cy="340.9" r="1.15" fill="#1a1aff"/>
<circle cx="265.0" cy="343.0" r="1.15" fill="#1a1aff"/>
<circle cx="178.5" cy="284.1" r="1.15" fill="#1a1aff"/>
<circle cx="183.3" cy="284.1" r="1.15" fill="#1a1aff"/>
<circle cx="188.1" cy="284.1" r="1.15" fill="#1a1aff"/>
<circle cx="192.9" cy="284.2" r="1.15" fill="#1a1aff"/>
<circle cx="197.7" cy="284.4" r="1.15" fill="#1a1aff"/>
<circle cx="202.5" cy="284.8" r="1.15" fill="#1a1aff"/>
<circle cx="207.3" cy="285.5" r="1.15" fill="#1a1aff"/>
<circle cx="212.1" cy="286.6" r="1.15" fill="#1a1aff"/>
<circle cx="216.9" cy="288.2" r="1.15" fill="#1a1aff"/>
<circle cx="221.8" cy="290.4" r="1.15" fill="#1a1aff"/>
<circle cx="226.6" cy="292.8" r="1.15" fill="#1a1aff"/>
<circle cx="231.4" cy="295.5" r="1.15" fill="#1a1aff"/>
<circle cx="236.2" cy="298.1" r="1.15" fill="#1a1aff"/>
<circle cx="241.0" cy="300.5" r="1.15" fill="#1a1aff"/>
<circle cx="245.8" cy="302.7" r="1.15" fill="#1a1aff"/>
<circle cx="250.6" cy="305.1" r="1.15" fill="#1a1aff"/>
<circle cx="255.4" cy="307.4" r="1.15" fill="#1a1aff"/>
<circle cx="260.2" cy="309.7" r="1.15" fill="#1a1aff"/>
<circle cx="265.0" cy="312.0" r="1.15" fill="#1a1aff"/>
<circle cx="178.5" cy="273.3" r="1.15" fill="#1a1aff"/>
<circle cx="183.3" cy="273.6" r="1.15" fill="#1a1aff"/>
<circle cx="188.1" cy="273.9" r="1.15" fill="#1a1aff"/>
<circle cx="192.9" cy="274.2" r="1.15" fill="#1a1aff"/>
<circle cx="197.7" cy="274.5" r="1.15" fill="#1a1aff"/>
<circle cx="202.5" cy="274.8" r="1.15" fill="#1a1aff"/>
<circle cx="207.3" cy="275.1" r="1.15" fill="#1a1aff"/>
<circle cx="212.1" cy="275.4" r="1.15" fill="#1a1aff"/>
<circle cx="216.9" cy="275.8" r="1.15" fill="#1a1aff"/>
<circle cx="221.8" cy="276.1" r="1.15" fill="#1a1aff"/>
<circle cx="226.6" cy="276.5" r="1.15" fill="#1a1aff"/>
<circle cx="231.4" cy="276.9" r="1.15" fill="#1a1aff"/>
<circle cx="236.2" cy="277.4" r="1.15" fill="#1a1aff"/>
<circle cx="241.0" cy="277.8" r="1.15" fill="#1a1aff"/>
<circle cx="245.8" cy="278.2" r="1.15" fill="#1a1aff"/>
<circle cx="250.6" cy="278.7" r="1.15" fill="#1a1aff"/>
<circle cx="255.4" cy="279.1" r="1.15" fill="#1a1aff"/>
<circle cx="260.2" cy="279.6" r="1.15" fill="#1a1aff"/>
<circle cx="265.0" cy="280.0" r="1.15" fill="#1a1aff"/>
<rect x="177.4" y="413.2" width="2.2" height="2.6" fill="#1a1aff"/>
<rect x="182.2" y="413.3" width="2.2" height="2.6" fill="#1a1aff"/>
<rect x="187.0" y="413.3" width="2.2" height="2.6" fill="#1a1aff"/>
<rect x="191.8" y="413.4" width="2.2" height="2.6" fill="#1a1aff"/>
<rect x="196.6" y="413.4" width="2.2" height="2.6" fill="#1a1aff"/>
<rect x="201.4" y="413.5" width="2.2" height="2.6" fill="#1a1aff"/>
<rect x="206.2" y="413.5" width="2.2" height="2.6" fill="#1a1aff"/>
<rect x="211.0" y="413.6" width="2.2" height="2.6" fill="#1a1aff"/>
<rect x="215.8" y="413.7" width="2.2" height="2.6" fill="#1a1aff"/>
<rect x="220.7" y="413.7" width="2.2" height="2.6" fill="#1a1aff"/>
<rect x="225.5" y="413.8" width="2.2" height="2.6" fill="#1a1aff"/>
<rect x="230.3" y="413.9" width="2.2" height="2.6" fill="#1a1aff"/>
<rect x="235.1" y="414.0" width="2.2" height="2.6" fill="#1a1aff"/>
<rect x="239.9" y="414.1" width="2.2" height="2.6" fill="#1a1aff"/>
<rect x="244.7" y="414.2" width="2.2" height="2.6" fill="#1a1aff"/>
<rect x="249.5" y="414.4" width="2.2" height="2.6" fill="#1a1aff"/>
<rect x="254.3" y="414.5" width="2.2" height="2.6" fill="#1a1aff"/>
<rect x="259.1" y="414.6" width="2.2" height="2.6" fill="#1a1aff"/>
<rect x="263.9" y="414.7" width="2.2" height="2.6" fill="#1a1aff"/>
<rect x="177.4" y="416.3" width="2.2" height="2.6" fill="#1a1aff"/>
<rect x="182.2" y="416.4" width="2.2" height="2.6" fill="#1a1aff"/>
<rect x="187.0" y="416.5" width="2.2" height="2.6" fill="#1a1aff"/>
<rect x="191.8" y="416.6" width="2.2" height="2.6" fill="#1a1aff"/>
<rect x="196.6" y="416.7" width="2.2" height="2.6" fill="#1a1aff"/>
<rect x="201.4" y="416.8" width="2.2" height="2.6" fill="#1a1aff"/>
<rect x="206.2" y="416.9" width="2.2" height="2.6" fill="#1a1aff"/>
<rect x="211.0" y="417.0" width="2.2" height="2.6" fill="#1a1aff"/>
<rect x="215.8" y="417.1" width="2.2" height="2.6" fill="#1a1aff"/>
<rect x="220.7" y="417.2" width="2.2" height="2.6" fill="#1a1aff"/>
<rect x="225.5" y="417.3" width="2.2" height="2.6" fill="#1a1aff"/>
<rect x="230.3" y="417.5" width="2.2" height="2.6" fill="#1a1aff"/>
<rect x="235.1" y="417.6" width="2.2" height="2.6" fill="#1a1aff"/>
<rect x="239.9" y="417.7" width="2.2" height="2.6" fill="#1a1aff"/>
<rect x="244.7" y="417.8" width="2.2" height="2.6" fill="#1a1aff"/>
<rect x="249.5" y="417.9" width="2.2" height="2.6" fill="#1a1aff"/>
<rect x="254.3" y="418.0" width="2.2" height="2.6" fill="#1a1aff"/>
<rect x="259.1" y="418.1" width="2.2" height="2.6" fill="#1a1aff"/>
<rect x="263.9" y="418.2" width="2.2" height="2.6" fill="#1a1aff"/>
<rect x="177.4" y="420.3" width="2.2" height="2.6" fill="#1a1aff"/>
<rect x="182.2" y="420.4" width="2.2" height="2.6" fill="#1a1aff"/>
<rect x="187.0" y="420.5" width="2.2" height="2.6" fill="#1a1aff"/>
<rect x="191.8" y="420.6" width="2.2" height="2.6" fill="#1a1aff"/>
<rect x="196.6" y="420.8" width="2.2" height="2.6" fill="#1a1aff"/>
<rect x="201.4" y="420.9" width="2.2" height="2.6" fill="#1a1aff"/>
<rect x="206.2" y="421.0" width="2.2" height="2.6" fill="#1a1aff"/>
<rect x="211.0" y="421.1" width="2.2" height="2.6" fill="#1a1aff"/>
<rect x="215.8" y="421.1" width="2.2" height="2.6" fill="#1a1aff"/>
<rect x="220.7" y="421.2" width="2.2" height="2.6" fill="#1a1aff"/>
<rect x="225.5" y="421.3" width="2.2" height="2.6" fill="#1a1aff"/>
<rect x="230.3" y="421.4" width="2.2" height="2.6" fill="#1a1aff"/>
<rect x="235.1" y="421.4" width="2.2" height="2.6" fill="#1a1aff"/>
<rect x="239.9" y="421.5" width="2.2" height="2.6" fill="#1a1aff"/>
<rect x="244.7" y="421.5" width="2.2" height="2.6" fill="#1a1aff"/>
<rect x="249.5" y="421.6" width="2.2" height="2.6" fill="#1a1aff"/>
<rect x="254.3" y="421.6" width="2.2" height="2.6" fill="#1a1aff"/>
<rect x="259.1" y="421.7" width="2.2" height="2.6" fill="#1a1aff"/>
<rect x="263.9" y="421.7" width="2.2" height="2.6" fill="#1a1aff"/>
<rect x="177.4" y="424.8" width="2.2" height="2.6" fill="#1a1aff"/>
<rect x="182.2" y="424.8" width="2.2" height="2.6" fill="#1a1aff"/>
<rect x="187.0" y="424.9" width="2.2" height="2.6" fill="#1a1aff"/>
<rect x="191.8" y="424.9" width="2.2" height="2.6" fill="#1a1aff"/>
<rect x="196.6" y="425.0" width="2.2" height="2.6" fill="#1a1aff"/>
<rect x="201.4" y="425.0" width="2.2" height="2.6" fill="#1a1aff"/>
<rect x="206.2" y="425.1" width="2.2" height="2.6" fill="#1a1aff"/>
<rect x="211.0" y="425.1" width="2.2" height="2.6" fill="#1a1aff"/>
<rect x="215.8" y="425.2" width="2.2" height="2.6" fill="#1a1aff"/>
<rect x="220.7" y="425.2" width="2.2" height="2.6" fill="#1a1aff"/>
<rect x="225.5" y="425.3" width="2.2" height="2.6" fill="#1a1aff"/>
<rect x="230.3" y="425.3" width="2.2" height="2.6" fill="#1a1aff"/>
<rect x="235.1" y="425.4" width="2.2" height="2.6" fill="#1a1aff"/>
<rect x="239.9" y="425.4" width="2.2" height="2.6" fill="#1a1aff"/>
<rect x="244.7" y="425.5" width="2.2" height="2.6" fill="#1a1aff"/>
<rect x="249.5" y="425.5" width="2.2" height="2.6" fill="#1a1aff"/>
<rect x="254.3" y="425.6" width="2.2" height="2.6" fill="#1a1aff"/>
<rect x="259.1" y="425.6" width="2.2" height="2.6" fill="#1a1aff"/>
<rect x="263.9" y="425.7" width="2.2" height="2.6" fill="#1a1aff"/>
<rect x="177.4" y="428.2" width="2.2" height="2.6" fill="#1a1aff"/>
<rect x="182.2" y="428.2" width="2.2" height="2.6" fill="#1a1aff"/>
<rect x="187.0" y="428.1" width="2.2" height="2.6" fill="#1a1aff"/>
<rect x="191.8" y="428.1" width="2.2" height="2.6" fill="#1a1aff"/>
<rect x="196.6" y="428.1" width="2.2" height="2.6" fill="#1a1aff"/>
<rect x="201.4" y="428.1" width="2.2" height="2.6" fill="#1a1aff"/>
<rect x="206.2" y="428.1" width="2.2" height="2.6" fill="#1a1aff"/>
<rect x="211.0" y="428.1" width="2.2" height="2.6" fill="#1a1aff"/>
<rect x="215.8" y="428.2" width="2.2" height="2.6" fill="#1a1aff"/>
<rect x="220.7" y="428.2" width="2.2" height="2.6" fill="#1a1aff"/>
<rect x="225.5" y="428.3" width="2.2" height="2.6" fill="#1a1aff"/>
<rect x="230.3" y="428.5" width="2.2" height="2.6" fill="#1a1aff"/>
<rect x="235.1" y="428.6" width="2.2" height="2.6" fill="#1a1aff"/>
<rect x="239.9" y="428.8" width="2.2" height="2.6" fill="#1a1aff"/>
<rect x="244.7" y="429.0" width="2.2" height="2.6" fill="#1a1aff"/>
<rect x="249.5" y="429.1" width="2.2" height="2.6" fill="#1a1aff"/>
<rect x="254.3" y="429.3" width="2.2" height="2.6" fill="#1a1aff"/>
<rect x="259.1" y="429.5" width="2.2" height="2.6" fill="#1a1aff"/>
<rect x="263.9" y="429.7" width="2.2" height="2.6" fill="#1a1aff"/>
<rect x="177.4" y="438.7" width="2.2" height="2.6" fill="#1a1aff"/>
<rect x="182.2" y="438.7" width="2.2" height="2.6" fill="#1a1aff"/>
<rect x="187.0" y="438.7" width="2.2" height="2.6" fill="#1a1aff"/>
<rect x="191.8" y="438.6" width="2.2" height="2.6" fill="#1a1aff"/>
<rect x="196.6" y="438.6" width="2.2" height="2.6" fill="#1a1aff"/>
<rect x="201.4" y="438.6" width="2.2" height="2.6" fill="#1a1aff"/>
<rect x="206.2" y="438.6" width="2.2" height="2.6" fill="#1a1aff"/>
<rect x="211.0" y="438.6" width="2.2" height="2.6" fill="#1a1aff"/>
<rect x="215.8" y="438.7" width="2.2" height="2.6" fill="#1a1aff"/>
<rect x="220.7" y="438.7" width="2.2" height="2.6" fill="#1a1aff"/>
<rect x="225.5" y="438.8" width="2.2" height="2.6" fill="#1a1aff"/>
<rect x="230.3" y="438.9" width="2.2" height="2.6" fill="#1a1aff"/>
<rect x="235.1" y="439.0" width="2.2" height="2.6" fill="#1a1aff"/>
<rect x="239.9" y="439.1" width="2.2" height="2.6" fill="#1a1aff"/>
<rect x="244.7" y="439.2" width="2.2" height="2.6" fill="#1a1aff"/>
<rect x="249.5" y="439.3" width="2.2" height="2.6" fill="#1a1aff"/>
<rect x="254.3" y="439.5" width="2.2" height="2.6" fill="#1a1aff"/>
<rect x="259.1" y="439.6" width="2.2" height="2.6" fill="#1a1aff"/>
<rect x="263.9" y="439.7" width="2.2" height="2.6" fill="#1a1aff"/>
<rect x="177.4" y="442.3" width="2.2" height="2.6" fill="#1a1aff"/>
<rect x="182.2" y="442.3" width="2.2" height="2.6" fill="#1a1aff"/>
<rect x="187.0" y="442.4" width="2.2" height="2.6" fill="#1a1aff"/>
<rect x="191.8" y="442.4" width="2.2" height="2.6" fill="#1a1aff"/>
<rect x="196.6" y="442.5" width="2.2" height="2.6" fill="#1a1aff"/>
<rect x="201.4" y="442.5" width="2.2" height="2.6" fill="#1a1aff"/>
<rect x="206.2" y="442.6" width="2.2" height="2.6" fill="#1a1aff"/>
<rect x="211.0" y="442.6" width="2.2" height="2.6" fill="#1a1aff"/>
<rect x="215.8" y="442.7" width="2.2" height="2.6" fill="#1a1aff"/>
<rect x="220.7" y="442.7" width="2.2" height="2.6" fill="#1a1aff"/>
<rect x="225.5" y="442.8" width="2.2" height="2.6" fill="#1a1aff"/>
<rect x="230.3" y="442.8" width="2.2" height="2.6" fill="#1a1aff"/>
<rect x="235.1" y="442.9" width="2.2" height="2.6" fill="#1a1aff"/>
<rect x="239.9" y="442.9" width="2.2" height="2.6" fill="#1a1aff"/>
<rect x="244.7" y="443.0" width="2.2" height="2.6" fill="#1a1aff"/>
<rect x="249.5" y="443.0" width="2.2" height="2.6" fill="#1a1aff"/>
<rect x="254.3" y="443.1" width="2.2" height="2.6" fill="#1a1aff"/>
<rect x="259.1" y="443.1" width="2.2" height="2.6" fill="#1a1aff"/>
<rect x="263.9" y="443.2" width="2.2" height="2.6" fill="#1a1aff"/>
<rect x="177.4" y="445.8" width="2.2" height="2.6" fill="#1a1aff"/>
<rect x="182.2" y="445.8" width="2.2" height="2.6" fill="#1a1aff"/>
<rect x="187.0" y="445.9" width="2.2" height="2.6" fill="#1a1aff"/>
<rect x="191.8" y="445.9" width="2.2" height="2.6" fill="#1a1aff"/>
<rect x="196.6" y="446.0" width="2.2" height="2.6" fill="#1a1aff"/>
<rect x="201.4" y="446.0" width="2.2" height="2.6" fill="#1a1aff"/>
<rect x="206.2" y="446.1" width="2.2" height="2.6" fill="#1a1aff"/>
<rect x="211.0" y="446.1" width="2.2" height="2.6" fill="#1a1aff"/>
<rect x="215.8" y="446.2" width="2.2" height="2.6" fill="#1a1aff"/>
<rect x="220.7" y="446.2" width="2.2" height="2.6" fill="#1a1aff"/>
<rect x="225.5" y="446.3" width="2.2" height="2.6" fill="#1a1aff"/>
<rect x="230.3" y="446.3" width="2.2" height="2.6" fill="#1a1aff"/>
<rect x="235.1" y="446.4" width="2.2" height="2.6" fill="#1a1aff"/>
<rect x="239.9" y="446.4" width="2.2" height="2.6" fill="#1a1aff"/>
<rect x="244.7" y="446.5" width="2.2" height="2.6" fill="#1a1aff"/>
<rect x="249.5" y="446.5" width="2.2" height="2.6" fill="#1a1aff"/>
<rect x="254.3" y="446.6" width="2.2" height="2.6" fill="#1a1aff"/>
<rect x="259.1" y="446.6" width="2.2" height="2.6" fill="#1a1aff"/>
<rect x="263.9" y="446.7" width="2.2" height="2.6" fill="#1a1aff"/>
<rect x="177.4" y="448.8" width="2.2" height="2.6" fill="#1a1aff"/>
<rect x="182.2" y="448.8" width="2.2" height="2.6" fill="#1a1aff"/>
<rect x="187.0" y="448.9" width="2.2" height="2.6" fill="#1a1aff"/>
<rect x="191.8" y="448.9" width="2.2" height="2.6" fill="#1a1aff"/>
<rect x="196.6" y="449.0" width="2.2" height="2.6" fill="#1a1aff"/>
<rect x="201.4" y="449.0" width="2.2" height="2.6" fill="#1a1aff"/>
<rect x="206.2" y="449.1" width="2.2" height="2.6" fill="#1a1aff"/>
<rect x="211.0" y="449.1" width="2.2" height="2.6" fill="#1a1aff"/>
<rect x="215.8" y="449.2" width="2.2" height="2.6" fill="#1a1aff"/>
<rect x="220.7" y="449.2" width="2.2" height="2.6" fill="#1a1aff"/>
<rect x="225.5" y="449.3" width="2.2" height="2.6" fill="#1a1aff"/>
<rect x="230.3" y="449.3" width="2.2" height="2.6" fill="#1a1aff"/>
<rect x="235.1" y="449.4" width="2.2" height="2.6" fill="#1a1aff"/>
<rect x="239.9" y="449.4" width="2.2" height="2.6" fill="#1a1aff"/>
<rect x="244.7" y="449.5" width="2.2" height="2.6" fill="#1a1aff"/>
<rect x="249.5" y="449.5" width="2.2" height="2.6" fill="#1a1aff"/>
<rect x="254.3" y="449.6" width="2.2" height="2.6" fill="#1a1aff"/>
<rect x="259.1" y="449.6" width="2.2" height="2.6" fill="#1a1aff"/>
<rect x="263.9" y="449.7" width="2.2" height="2.6" fill="#1a1aff"/>
<circle cx="178.5" cy="305.3" r="1.15" fill="#1a1aff"/>
<circle cx="183.3" cy="305.2" r="1.15" fill="#1a1aff"/>
<circle cx="188.1" cy="305.1" r="1.15" fill="#1a1aff"/>
<circle cx="192.9" cy="304.9" r="1.15" fill="#1a1aff"/>
<circle cx="197.7" cy="304.6" r="1.15" fill="#1a1aff"/>
<circle cx="202.5" cy="304.2" r="1.15" fill="#1a1aff"/>
<circle cx="207.3" cy="303.7" r="1.15" fill="#1a1aff"/>
<circle cx="212.1" cy="303.1" r="1.15" fill="#1a1aff"/>
<circle cx="216.9" cy="302.3" r="1.15" fill="#1a1aff"/>
<circle cx="221.8" cy="301.5" r="1.15" fill="#1a1aff"/>
<circle cx="226.6" cy="300.6" r="1.15" fill="#1a1aff"/>
<circle cx="231.4" cy="299.7" r="1.15" fill="#1a1aff"/>
<circle cx="236.2" cy="298.8" r="1.15" fill="#1a1aff"/>
<circle cx="241.0" cy="297.8" r="1.15" fill="#1a1aff"/>
<circle cx="245.8" cy="296.9" r="1.15" fill="#1a1aff"/>
<circle cx="250.6" cy="295.9" r="1.15" fill="#1a1aff"/>
<circle cx="255.4" cy="294.9" r="1.15" fill="#1a1aff"/>
<circle cx="260.2" cy="294.0" r="1.15" fill="#1a1aff"/>
<circle cx="265.0" cy="293.0" r="1.15" fill="#1a1aff"/>
<circle cx="178.5" cy="271.7" r="1.15" fill="#1a1aff"/>
<circle cx="183.3" cy="273.5" r="1.15" fill="#1a1aff"/>
<circle cx="188.1" cy="275.2" r="1.15" fill="#1a1aff"/>
<circle cx="192.9" cy="276.8" r="1.15" fill="#1a1aff"/>
<circle cx="197.7" cy="278.3" r="1.15" fill="#1a1aff"/>
<circle cx="202.5" cy="279.7" r="1.15" fill="#1a1aff"/>
<circle cx="207.3" cy="281.0" r="1.15" fill="#1a1aff"/>
<circle cx="212.1" cy="282.2" r="1.15" fill="#1a1aff"/>
<circle cx="216.9" cy="283.4" r="1.15" fill="#1a1aff"/>
<circle cx="221.8" cy="284.6" r="1.15" fill="#1a1aff"/>
<circle cx="226.6" cy="285.8" r="1.15" fill="#1a1aff"/>
<circle cx="231.4" cy="287.0" r="1.15" fill="#1a1aff"/>
<circle cx="236.2" cy="288.1" r="1.15" fill="#1a1aff"/>
<circle cx="241.0" cy="289.3" r="1.15" fill="#1a1aff"/>
<circle cx="245.8" cy="290.4" r="1.15" fill="#1a1aff"/>
<circle cx="250.6" cy="291.6" r="1.15" fill="#1a1aff"/>
<circle cx="255.4" cy="292.7" r="1.15" fill="#1a1aff"/>
<circle cx="260.2" cy="293.9" r="1.15" fill="#1a1aff"/>
<circle cx="265.0" cy="295.0" r="1.15" fill="#1a1aff"/>
<circle cx="178.5" cy="271.6" r="1.15" fill="#1a1aff"/>
<circle cx="183.3" cy="272.9" r="1.15" fill="#1a1aff"/>
<circle cx="188.1" cy="274.3" r="1.15" fill="#1a1aff"/>
<circle cx="192.9" cy="275.7" r="1.15" fill="#1a1aff"/>
<circle cx="197.7" cy="277.1" r="1.15" fill="#1a1aff"/>
<circle cx="202.5" cy="278.4" r="1.15" fill="#1a1aff"/>
<circle cx="207.3" cy="279.8" r="1.15" fill="#1a1aff"/>
<circle cx="212.1" cy="281.1" r="1.15" fill="#1a1aff"/>
<circle cx="216.9" cy="282.3" r="1.15" fill="#1a1aff"/>
<circle cx="221.8" cy="283.6" r="1.15" fill="#1a1aff"/>
<circle cx="226.6" cy="284.7" r="1.15" fill="#1a1aff"/>
<circle cx="231.4" cy="285.8" r="1.15" fill="#1a1aff"/>
<circle cx="236.2" cy="286.6" r="1.15" fill="#1a1aff"/>
<circle cx="241.0" cy="287.4" r="1.15" fill="#1a1aff"/>
<circle cx="245.8" cy="287.9" r="1.15" fill="#1a1aff"/>
<circle cx="250.6" cy="288.4" r="1.15" fill="#1a1aff"/>
<circle cx="255.4" cy="288.7" r="1.15" fill="#1a1aff"/>
<circle cx="260.2" cy="289.0" r="1.15" fill="#1a1aff"/>
<circle cx="265.0" cy="289.4" r="1.15" fill="#1a1aff"/>
<circle cx="178.5" cy="298.4" r="1.15" fill="#1a1aff"/>
<circle cx="183.3" cy="298.7" r="1.15" fill="#1a1aff"/>
<circle cx="188.1" cy="299.0" r="1.15" fill="#1a1aff"/>
<circle cx="192.9" cy="299.3" r="1.15" fill="#1a1aff"/>
<circle cx="197.7" cy="299.6" r="1.15" fill="#1a1aff"/>
<circle cx="202.5" cy="300.0" r="1.15" fill="#1a1aff"/>
<circle cx="207.3" cy="300.4" r="1.15" fill="#1a1aff"/>
<circle cx="212.1" cy="300.8" r="1.15" fill="#1a1aff"/>
<circle cx="216.9" cy="301.3" r="1.15" fill="#1a1aff"/>
<circle cx="221.8" cy="301.8" r="1.15" fill="#1a1aff"/>
<circle cx="226.6" cy="302.4" r="1.15" fill="#1a1aff"/>
<circle cx="231.4" cy="303.2" r="1.15" fill="#1a1aff"/>
<circle cx="236.2" cy="304.0" r="1.15" fill="#1a1aff"/>
<circle cx="241.0" cy="304.9" r="1.15" fill="#1a1aff"/>
<circle cx="245.8" cy="305.9" r="1.15" fill="#1a1aff"/>
<circle cx="250.6" cy="306.9" r="1.15" fill="#1a1aff"/>
<circle cx="255.4" cy="307.9" r="1.15" fill="#1a1aff"/>
<circle cx="260.2" cy="308.9" r="1.15" fill="#1a1aff"/>
<circle cx="265.0" cy="309.9" r="1.15" fill="#1a1aff"/>
<circle cx="178.5" cy="274.5" r="1.15" fill="#1a1aff"/>
<circle cx="183.3" cy="274.9" r="1.15" fill="#1a1aff"/>
<circle cx="188.1" cy="275.4" r="1.15" fill="#1a1aff"/>
<circle cx="192.9" cy="275.8" r="1.15" fill="#1a1aff"/>
<circle cx="197.7" cy="276.3" r="1.15" fill="#1a1aff"/>
<circle cx="202.5" cy="276.8" r="1.15" fill="#1a1aff"/>
<circle cx="207.3" cy="277.3" r="1.15" fill="#1a1aff"/>
<circle cx="212.1" cy="278.0" r="1.15" fill="#1a1aff"/>
<circle cx="216.9" cy="278.7" r="1.15" fill="#1a1aff"/>
<circle cx="221.8" cy="279.6" r="1.15" fill="#1a1aff"/>
<circle cx="226.6" cy="280.7" r="1.15" fill="#1a1aff"/>
<circle cx="231.4" cy="282.2" r="1.15" fill="#1a1aff"/>
<circle cx="236.2" cy="284.1" r="1.15" fill="#1a1aff"/>
<circle cx="241.0" cy="286.4" r="1.15" fill="#1a1aff"/>
<circle cx="245.8" cy="288.9" r="1.15" fill="#1a1aff"/>
<circle cx="250.6" cy="291.7" r="1.15" fill="#1a1aff"/>
<circle cx="255.4" cy="294.6" r="1.15" fill="#1a1aff"/>
<circle cx="260.2" cy="297.6" r="1.15" fill="#1a1aff"/>
<circle cx="265.0" cy="300.4" r="1.15" fill="#1a1aff"/>
<circle cx="178.5" cy="272.5" r="1.15" fill="#1a1aff"/>
<circle cx="183.3" cy="276.9" r="1.15" fill="#1a1aff"/>
<circle cx="188.1" cy="281.2" r="1.15" fill="#1a1aff"/>
<circle cx="192.9" cy="285.3" r="1.15" fill="#1a1aff"/>
<circle cx="197.7" cy="289.3" r="1.15" fill="#1a1aff"/>
<circle cx="202.5" cy="293.1" r="1.15" fill="#1a1aff"/>
<circle cx="207.3" cy="296.7" r="1.15" fill="#1a1aff"/>
<circle cx="212.1" cy="299.9" r="1.15" fill="#1a1aff"/>
<circle cx="216.9" cy="302.7" r="1.15" fill="#1a1aff"/>
<circle cx="221.8" cy="305.3" r="1.15" fill="#1a1aff"/>
<circle cx="226.6" cy="307.8" r="1.15" fill="#1a1aff"/>
<circle cx="231.4" cy="310.2" r="1.15" fill="#1a1aff"/>
<circle cx="236.2" cy="312.5" r="1.15" fill="#1a1aff"/>
<circle cx="241.0" cy="314.7" r="1.15" fill="#1a1aff"/>
<circle cx="245.8" cy="316.9" r="1.15" fill="#1a1aff"/>
<circle cx="250.6" cy="319.1" r="1.15" fill="#1a1aff"/>
<circle cx="255.4" cy="321.3" r="1.15" fill="#1a1aff"/>
<circle cx="260.2" cy="323.4" r="1.15" fill="#1a1aff"/>
<circle cx="265.0" cy="325.7" r="1.15" fill="#1a1aff"/>
<circle cx="178.5" cy="298.0" r="1.15" fill="#1a1aff"/>
<circle cx="183.3" cy="300.1" r="1.15" fill="#1a1aff"/>
<circle cx="188.1" cy="302.3" r="1.15" fill="#1a1aff"/>
<circle cx="192.9" cy="304.5" r="1.15" fill="#1a1aff"/>
<circle cx="197.7" cy="306.7" r="1.15" fill="#1a1aff"/>
<circle cx="202.5" cy="308.8" r="1.15" fill="#1a1aff"/>
<circle cx="207.3" cy="311.0" r="1.15" fill="#1a1aff"/>
<circle cx="212.1" cy="313.2" r="1.15" fill="#1a1aff"/>
<circle cx="216.9" cy="315.4" r="1.15" fill="#1a1aff"/>
<circle cx="221.8" cy="317.7" r="1.15" fill="#1a1aff"/>
<circle cx="226.6" cy="319.9" r="1.15" fill="#1a1aff"/>
<circle cx="231.4" cy="322.2" r="1.15" fill="#1a1aff"/>
<circle cx="236.2" cy="324.4" r="1.15" fill="#1a1aff"/>
<circle cx="241.0" cy="326.7" r="1.15" fill="#1a1aff"/>
<circle cx="245.8" cy="328.9" r="1.15" fill="#1a1aff"/>
<circle cx="250.6" cy="331.2" r="1.15" fill="#1a1aff"/>
<circle cx="255.4" cy="333.4" r="1.15" fill="#1a1aff"/>
<circle cx="260.2" cy="335.7" r="1.15" fill="#1a1aff"/>
<circle cx="265.0" cy="337.9" r="1.15" fill="#1a1aff"/>
<path d="M178.5,268.8L179.8,271.3L177.2,271.3Z" fill="#ff1010"/>
<path d="M183.3,268.8L184.6,271.3L182.0,271.3Z" fill="#ff1010"/>
<path d="M188.1,268.9L189.4,271.3L186.8,271.3Z" fill="#ff1010"/>
<path d="M192.9,269.0L194.2,271.4L191.6,271.4Z" fill="#ff1010"/>
<path d="M197.7,269.2L199.0,271.7L196.4,271.7Z" fill="#ff1010"/>
<path d="M202.5,269.6L203.8,272.0L201.2,272.0Z" fill="#ff1010"/>
<path d="M207.3,270.2L208.6,272.7L206.0,272.7Z" fill="#ff1010"/>
<path d="M212.1,271.2L213.4,273.7L210.8,273.7Z" fill="#ff1010"/>
<path d="M216.9,272.7L218.2,275.2L215.6,275.2Z" fill="#ff1010"/>
<path d="M221.8,274.6L223.1,277.1L220.5,277.1Z" fill="#ff1010"/>
<path d="M226.6,276.8L227.9,279.3L225.3,279.3Z" fill="#ff1010"/>
<path d="M231.4,279.2L232.7,281.7L230.1,281.7Z" fill="#ff1010"/>
<path d="M236.2,281.7L237.5,284.2L234.9,284.2Z" fill="#ff1010"/>
<path d="M241.0,284.2L242.3,286.7L239.7,286.7Z" fill="#ff1010"/>
<path d="M245.8,286.8L247.1,289.3L244.5,289.3Z" fill="#ff1010"/>
<path d="M250.6,289.7L251.9,292.2L249.3,292.2Z" fill="#ff1010"/>
<path d="M255.4,292.6L256.7,295.1L254.1,295.1Z" fill="#ff1010"/>
<path d="M260.2,295.7L261.5,298.2L258.9,298.2Z" fill="#ff1010"/>
<path d="M265.0,298.7L266.3,301.2L263.7,301.2Z" fill="#ff1010"/>
<path d="M178.5,275.0L179.8,277.5L177.2,277.5Z" fill="#ff1010"/>
<path d="M183.3,275.3L184.6,277.8L182.0,277.8Z" fill="#ff1010"/>
<path d="M188.1,275.6L189.4,278.0L186.8,278.0Z" fill="#ff1010"/>
<path d="M192.9,275.9L194.2,278.4L191.6,278.4Z" fill="#ff1010"/>
<path d="M197.7,276.4L199.0,278.9L196.4,278.9Z" fill="#ff1010"/>
<path d="M202.5,277.1L203.8,279.5L201.2,279.5Z" fill="#ff1010"/>
<path d="M207.3,278.0L208.6,280.5L206.0,280.5Z" fill="#ff1010"/>
<path d="M212.1,279.4L213.4,281.9L210.8,281.9Z" fill="#ff1010"/>
<path d="M216.9,281.4L218.2,283.8L215.6,283.8Z" fill="#ff1010"/>
<path d="M221.8,283.8L223.1,286.3L220.5,286.3Z" fill="#ff1010"/>
<path d="M226.6,286.6L227.9,289.1L225.3,289.1Z" fill="#ff1010"/>
<path d="M231.4,289.5L232.7,292.0L230.1,292.0Z" fill="#ff1010"/>
<path d="M236.2,292.5L237.5,295.0L234.9,295.0Z" fill="#ff1010"/>
<path d="M241.0,295.2L242.3,297.7L239.7,297.7Z" fill="#ff1010"/>
<path d="M245.8,297.9L247.1,300.4L244.5,300.4Z" fill="#ff1010"/>
<path d="M250.6,300.6L251.9,303.0L249.3,303.0Z" fill="#ff1010"/>
<path d="M255.4,303.3L256.7,305.7L254.1,305.7Z" fill="#ff1010"/>
<path d="M260.2,306.0L261.5,308.5L258.9,308.5Z" fill="#ff1010"/>
<path d="M265.0,308.7L266.3,311.2L263.7,311.2Z" fill="#ff1010"/>
<path d="M178.5,288.0L179.8,290.4L177.2,290.4Z" fill="#ff1010"/>
<path d="M183.3,287.2L184.6,289.7L182.0,289.7Z" fill="#ff1010"/>
<path d="M188.1,286.5L189.4,288.9L186.8,288.9Z" fill="#ff1010"/>
<path d="M192.9,285.7L194.2,288.2L191.6,288.2Z" fill="#ff1010"/>
<path d="M197.7,285.0L199.0,287.5L196.4,287.5Z" fill="#ff1010"/>
<path d="M202.5,284.3L203.8,286.8L201.2,286.8Z" fill="#ff1010"/>
<path d="M207.3,283.7L208.6,286.2L206.0,286.2Z" fill="#ff1010"/>
<path d="M212.1,283.1L213.4,285.6L210.8,285.6Z" fill="#ff1010"/>
<path d="M216.9,282.5L218.2,285.0L215.6,285.0Z" fill="#ff1010"/>
<path d="M221.8,281.9L223.1,284.4L220.5,284.4Z" fill="#ff1010"/>
<path d="M226.6,281.2L227.9,283.7L225.3,283.7Z" fill="#ff1010"/>
<path d="M231.4,280.5L232.7,283.0L230.1,283.0Z" fill="#ff1010"/>
<path d="M236.2,279.7L237.5,282.2L234.9,282.2Z" fill="#ff1010"/>
<path d="M241.0,278.9L242.3,281.4L239.7,281.4Z" fill="#ff1010"/>
<path d="M245.8,278.1L247.1,280.5L244.5,280.5Z" fill="#ff1010"/>
<path d="M250.6,277.2L251.9,279.7L249.3,279.7Z" fill="#ff1010"/>
<path d="M255.4,276.4L256.7,278.9L254.1,278.9Z" fill="#ff1010"/>
<path d="M260.2,275.5L261.5,278.0L258.9,278.0Z" fill="#ff1010"/>
<path d="M265.0,274.7L266.3,277.2L263.7,277.2Z" fill="#ff1010"/>
<path d="M178.5,298.2L179.8,300.6L177.2,300.6Z" fill="#ff1010"/>
<path d="M183.3,297.6L184.6,300.1L182.0,300.1Z" fill="#ff1010"/>
<path d="M188.1,297.1L189.4,299.6L186.8,299.6Z" fill="#ff1010"/>
<path d="M192.9,296.6L194.2,299.0L191.6,299.0Z" fill="#ff1010"/>
<path d="M197.7,296.0L199.0,298.5L196.4,298.5Z" fill="#ff1010"/>
<path d="M202.5,295.5L203.8,298.0L201.2,298.0Z" fill="#ff1010"/>
<path d="M207.3,295.0L208.6,297.5L206.0,297.5Z" fill="#ff1010"/>
<path d="M212.1,294.5L213.4,296.9L210.8,296.9Z" fill="#ff1010"/>
<path d="M216.9,293.8L218.2,296.3L215.6,296.3Z" fill="#ff1010"/>
<path d="M221.8,293.2L223.1,295.6L220.5,295.6Z" fill="#ff1010"/>
<path d="M226.6,292.5L227.9,295.0L225.3,295.0Z" fill="#ff1010"/>
<path d="M231.4,292.0L232.7,294.5L230.1,294.5Z" fill="#ff1010"/>
<path d="M236.2,291.7L237.5,294.2L234.9,294.2Z" fill="#ff1010"/>
<path d="M241.0,291.7L242.3,294.2L239.7,294.2Z" fill="#ff1010"/>
<path d="M245.8,292.3L247.1,294.7L244.5,294.7Z" fill="#ff1010"/>
<path d="M250.6,293.2L251.9,295.6L249.3,295.6Z" fill="#ff1010"/>
<path d="M255.4,294.3L256.7,296.7L254.1,296.7Z" fill="#ff1010"/>
<path d="M260.2,295.5L261.5,298.0L258.9,298.0Z" fill="#ff1010"/>
<path d="M265.0,296.7L266.3,299.2L263.7,299.2Z" fill="#ff1010"/>
<path d="M178.5,279.6L179.8,282.0L177.2,282.0Z" fill="#ff1010"/>
<path d="M183.3,278.4L184.6,280.9L182.0,280.9Z" fill="#ff1010"/>
<path d="M188.1,277.3L189.4,279.8L186.8,279.8Z" fill="#ff1010"/>
<path d="M192.9,276.2L194.2,278.7L191.6,278.7Z" fill="#ff1010"/>
<path d="M197.7,275.1L199.0,277.6L196.4,277.6Z" fill="#ff1010"/>
<path d="M202.5,274.2L203.8,276.6L201.2,276.6Z" fill="#ff1010"/>
<path d="M207.3,273.3L208.6,275.8L206.0,275.8Z" fill="#ff1010"/>
<path d="M212.1,272.5L213.4,275.0L210.8,275.0Z" fill="#ff1010"/>
<path d="M216.9,271.7L218.2,274.2L215.6,274.2Z" fill="#ff1010"/>
<path d="M221.8,271.0L223.1,273.5L220.5,273.5Z" fill="#ff1010"/>
<path d="M226.6,270.4L227.9,272.9L225.3,272.9Z" fill="#ff1010"/>
<path d="M231.4,269.8L232.7,272.2L230.1,272.2Z" fill="#ff1010"/>
<path d="M236.2,269.2L237.5,271.6L234.9,271.6Z" fill="#ff1010"/>
<path d="M241.0,268.6L242.3,271.1L239.7,271.1Z" fill="#ff1010"/>
<path d="M245.8,268.1L247.1,270.6L244.5,270.6Z" fill="#ff1010"/>
<path d="M250.6,267.7L251.9,270.2L249.3,270.2Z" fill="#ff1010"/>
<path d="M255.4,267.3L256.7,269.8L254.1,269.8Z" fill="#ff1010"/>
<path d="M260.2,267.0L261.5,269.5L258.9,269.5Z" fill="#ff1010"/>
<path d="M265.0,266.7L266.3,269.2L263.7,269.2Z" fill="#ff1010"/>
<path d="M178.5,393.2L180.1,396.1L177.0,396.1Z" fill="#ff1010"/>
<path d="M183.3,386.6L184.9,389.6L181.8,389.6Z" fill="#ff1010"/>
<path d="M188.1,381.1L189.7,384.1L186.6,384.1Z" fill="#ff1010"/>
<path d="M192.9,377.9L194.5,380.9L191.4,380.9Z" fill="#ff1010"/>
<path d="M197.7,376.2L199.3,379.2L196.2,379.2Z" fill="#ff1010"/>
<path d="M202.5,375.7L204.1,378.6L201.0,378.6Z" fill="#ff1010"/>
<path d="M207.3,376.3L208.9,379.2L205.8,379.2Z" fill="#ff1010"/>
<path d="M212.1,378.0L213.7,381.0L210.6,381.0Z" fill="#ff1010"/>
<path d="M216.9,380.6L218.5,383.6L215.4,383.6Z" fill="#ff1010"/>
<path d="M221.8,384.7L223.3,387.6L220.2,387.6Z" fill="#ff1010"/>
<path d="M226.6,389.5L228.1,392.5L225.0,392.5Z" fill="#ff1010"/>
<path d="M231.4,394.9L232.9,397.9L229.8,397.9Z" fill="#ff1010"/>
<path d="M236.2,399.2L237.7,402.1L234.6,402.1Z" fill="#ff1010"/>
<path d="M241.0,401.1L242.5,404.1L239.4,404.1Z" fill="#ff1010"/>
<path d="M231.4,391.6L232.9,394.6L229.8,394.6Z" fill="#ff1010"/>
<path d="M236.2,387.4L237.7,390.4L234.6,390.4Z" fill="#ff1010"/>
<path d="M241.0,382.9L242.5,385.8L239.4,385.8Z" fill="#ff1010"/>
<path d="M245.8,377.3L247.3,380.2L244.2,380.2Z" fill="#ff1010"/>
<path d="M250.6,372.0L252.1,374.9L249.0,374.9Z" fill="#ff1010"/>
<path d="M255.4,368.4L256.9,371.3L253.8,371.3Z" fill="#ff1010"/>
<path d="M260.2,365.8L261.7,368.7L258.6,368.7Z" fill="#ff1010"/>
<path d="M265.0,363.4L266.6,366.4L263.4,366.4Z" fill="#ff1010"/>
<path d="M226.6,397.7L228.1,400.6L225.0,400.6Z" fill="#ff1010"/>
<path d="M231.4,395.5L232.9,398.4L229.8,398.4Z" fill="#ff1010"/>
<path d="M236.2,393.1L237.7,396.0L234.6,396.0Z" fill="#ff1010"/>
<path d="M241.0,390.0L242.5,392.9L239.4,392.9Z" fill="#ff1010"/>
<path d="M245.8,384.7L247.3,387.6L244.2,387.6Z" fill="#ff1010"/>
<path d="M250.6,379.2L252.1,382.1L249.0,382.1Z" fill="#ff1010"/>
<path d="M255.4,376.2L256.9,379.2L253.8,379.2Z" fill="#ff1010"/>
<path d="M260.2,374.2L261.7,377.2L258.6,377.2Z" fill="#ff1010"/>
<path d="M265.0,372.4L266.6,375.4L263.4,375.4Z" fill="#ff1010"/>
<path d="M178.5,399.3L180.1,402.2L177.0,402.2Z" fill="#ff1010"/>
<path d="M183.3,399.0L184.9,402.0L181.8,402.0Z" fill="#ff1010"/>
<path d="M188.1,398.8L189.7,401.8L186.6,401.8Z" fill="#ff1010"/>
<path d="M192.9,398.7L194.5,401.6L191.4,401.6Z" fill="#ff1010"/>
<path d="M197.7,398.5L199.3,401.5L196.2,401.5Z" fill="#ff1010"/>
<path d="M202.5,398.4L204.1,401.4L201.0,401.4Z" fill="#ff1010"/>
<path d="M207.3,398.4L208.9,401.3L205.8,401.3Z" fill="#ff1010"/>
<path d="M212.1,398.5L213.7,401.5L210.6,401.5Z" fill="#ff1010"/>
<path d="M216.9,398.8L218.5,401.8L215.4,401.8Z" fill="#ff1010"/>
<path d="M221.8,399.3L223.3,402.3L220.2,402.3Z" fill="#ff1010"/>
<path d="M226.6,399.9L228.1,402.8L225.0,402.8Z" fill="#ff1010"/>
<path d="M231.4,400.5L232.9,403.4L229.8,403.4Z" fill="#ff1010"/>
<path d="M236.2,401.1L237.7,404.0L234.6,404.0Z" fill="#ff1010"/>
<path d="M241.0,401.5L242.5,404.5L239.4,404.5Z" fill="#ff1010"/>
<path d="M245.8,402.0L247.3,404.9L244.2,404.9Z" fill="#ff1010"/>
<path d="M250.6,402.3L252.1,405.3L249.0,405.3Z" fill="#ff1010"/>
<path d="M255.4,402.7L256.9,405.7L253.8,405.7Z" fill="#ff1010"/>
<path d="M260.2,403.1L261.7,406.0L258.6,406.0Z" fill="#ff1010"/>
<path d="M265.0,403.4L266.6,406.4L263.4,406.4Z" fill="#ff1010"/>
<path d="M178.5,402.4L180.1,405.4L177.0,405.4Z" fill="#ff1010"/>
<path d="M183.3,402.4L184.9,405.3L181.8,405.3Z" fill="#ff1010"/>
<path d="M188.1,402.3L189.7,405.3L186.6,405.3Z" fill="#ff1010"/>
<path d="M192.9,402.3L194.5,405.2L191.4,405.2Z" fill="#ff1010"/>
<path d="M197.7,402.3L199.3,405.2L196.2,405.2Z" fill="#ff1010"/>
<path d="M202.5,402.3L204.1,405.2L201.0,405.2Z" fill="#ff1010"/>
<path d="M207.3,402.4L208.9,405.3L205.8,405.3Z" fill="#ff1010"/>
<path d="M212.1,402.5L213.7,405.5L210.6,405.5Z" fill="#ff1010"/>
<path d="M216.9,402.8L218.5,405.8L215.4,405.8Z" fill="#ff1010"/>
<path d="M221.8,403.2L223.3,406.2L220.2,406.2Z" fill="#ff1010"/>
<path d="M226.6,403.7L228.1,406.6L225.0,406.6Z" fill="#ff1010"/>
<path d="M231.4,404.2L232.9,407.1L229.8,407.1Z" fill="#ff1010"/>
<path d="M236.2,404.6L237.7,407.6L234.6,407.6Z" fill="#ff1010"/>
<path d="M241.0,405.0L242.5,408.0L239.4,408.0Z" fill="#ff1010"/>
<path d="M245.8,405.3L247.3,408.3L244.2,408.3Z" fill="#ff1010"/>
<path d="M250.6,405.6L252.1,408.6L249.0,408.6Z" fill="#ff1010"/>
<path d="M255.4,405.9L256.9,408.9L253.8,408.9Z" fill="#ff1010"/>
<path d="M260.2,406.2L261.7,409.1L258.6,409.1Z" fill="#ff1010"/>
<path d="M265.0,406.4L266.6,409.4L263.4,409.4Z" fill="#ff1010"/>
<path d="M178.5,405.5L180.1,408.4L177.0,408.4Z" fill="#ff1010"/>
<path d="M183.3,405.5L184.9,408.5L181.8,408.5Z" fill="#ff1010"/>
<path d="M188.1,405.5L189.7,408.5L186.6,408.5Z" fill="#ff1010"/>
<path d="M192.9,405.6L194.5,408.5L191.4,408.5Z" fill="#ff1010"/>
<path d="M197.7,405.7L199.3,408.6L196.2,408.6Z" fill="#ff1010"/>
<path d="M202.5,405.7L204.1,408.7L201.0,408.7Z" fill="#ff1010"/>
<path d="M207.3,405.9L208.9,408.8L205.8,408.8Z" fill="#ff1010"/>
<path d="M212.1,406.0L213.7,409.0L210.6,409.0Z" fill="#ff1010"/>
<path d="M216.9,406.2L218.5,409.2L215.4,409.2Z" fill="#ff1010"/>
<path d="M221.8,406.4L223.3,409.4L220.2,409.4Z" fill="#ff1010"/>
<path d="M226.6,406.6L228.1,409.6L225.0,409.6Z" fill="#ff1010"/>
<path d="M231.4,406.8L232.9,409.8L229.8,409.8Z" fill="#ff1010"/>
<path d="M236.2,407.1L237.7,410.0L234.6,410.0Z" fill="#ff1010"/>
<path d="M241.0,407.3L242.5,410.2L239.4,410.2Z" fill="#ff1010"/>
<path d="M245.8,407.5L247.3,410.5L244.2,410.5Z" fill="#ff1010"/>
<path d="M250.6,407.8L252.1,410.7L249.0,410.7Z" fill="#ff1010"/>
<path d="M255.4,408.0L256.9,410.9L253.8,410.9Z" fill="#ff1010"/>
<path d="M260.2,408.2L261.7,411.2L258.6,411.2Z" fill="#ff1010"/>
<path d="M265.0,408.4L266.6,411.4L263.4,411.4Z" fill="#ff1010"/>
<path d="M178.5,396.7L180.1,399.7L177.0,399.7Z" fill="#ff1010"/>
<path d="M183.3,396.4L184.9,399.4L181.8,399.4Z" fill="#ff1010"/>
<path d="M188.1,396.1L189.7,399.1L186.6,399.1Z" fill="#ff1010"/>
<path d="M192.9,395.9L194.5,398.8L191.4,398.8Z" fill="#ff1010"/>
<path d="M197.7,395.7L199.3,398.6L196.2,398.6Z" fill="#ff1010"/>
<path d="M202.5,395.5L204.1,398.4L201.0,398.4Z" fill="#ff1010"/>
<path d="M207.3,395.3L208.9,398.3L205.8,398.3Z" fill="#ff1010"/>
<path d="M212.1,395.3L213.7,398.2L210.6,398.2Z" fill="#ff1010"/>
<path d="M216.9,395.3L218.5,398.3L215.4,398.3Z" fill="#ff1010"/>
<path d="M221.8,395.6L223.3,398.5L220.2,398.5Z" fill="#ff1010"/>
<path d="M226.6,395.9L228.1,398.9L225.0,398.9Z" fill="#ff1010"/>
<path d="M231.4,396.4L232.9,399.4L229.8,399.4Z" fill="#ff1010"/>
<path d="M236.2,397.0L237.7,400.0L234.6,400.0Z" fill="#ff1010"/>
<path d="M241.0,397.7L242.5,400.6L239.4,400.6Z" fill="#ff1010"/>
<path d="M245.8,398.4L247.3,401.4L244.2,401.4Z" fill="#ff1010"/>
<path d="M250.6,399.2L252.1,402.1L249.0,402.1Z" fill="#ff1010"/>
<path d="M255.4,399.9L256.9,402.9L253.8,402.9Z" fill="#ff1010"/>
<path d="M260.2,400.7L261.7,403.7L258.6,403.7Z" fill="#ff1010"/>
<path d="M265.0,401.4L266.6,404.4L263.4,404.4Z" fill="#ff1010"/>
<path d="M178.5,408.9L180.1,411.9L177.0,411.9Z" fill="#ff1010"/>
<path d="M183.3,408.9L184.9,411.8L181.8,411.8Z" fill="#ff1010"/>
<path d="M188.1,408.8L189.7,411.8L186.6,411.8Z" fill="#ff1010"/>
<path d="M192.9,408.8L194.5,411.7L191.4,411.7Z" fill="#ff1010"/>
<path d="M197.7,408.8L199.3,411.7L196.2,411.7Z" fill="#ff1010"/>
<path d="M202.5,408.8L204.1,411.7L201.0,411.7Z" fill="#ff1010"/>
<path d="M207.3,408.8L208.9,411.7L205.8,411.7Z" fill="#ff1010"/>
<path d="M212.1,408.8L213.7,411.8L210.6,411.8Z" fill="#ff1010"/>
<path d="M216.9,408.9L218.5,411.8L215.4,411.8Z" fill="#ff1010"/>
<path d="M221.8,409.0L223.3,411.9L220.2,411.9Z" fill="#ff1010"/>
<path d="M226.6,409.2L228.1,412.1L225.0,412.1Z" fill="#ff1010"/>
<path d="M231.4,409.4L232.9,412.4L229.8,412.4Z" fill="#ff1010"/>
<path d="M236.2,409.7L237.7,412.6L234.6,412.6Z" fill="#ff1010"/>
<path d="M241.0,409.9L242.5,412.9L239.4,412.9Z" fill="#ff1010"/>
<path d="M245.8,410.2L247.3,413.2L244.2,413.2Z" fill="#ff1010"/>
<path d="M250.6,410.5L252.1,413.5L249.0,413.5Z" fill="#ff1010"/>
<path d="M255.4,410.8L256.9,413.8L253.8,413.8Z" fill="#ff1010"/>
<path d="M260.2,411.2L261.7,414.1L258.6,414.1Z" fill="#ff1010"/>
<path d="M265.0,411.4L266.6,414.4L263.4,414.4Z" fill="#ff1010"/>
<path d="M183.3,439.6L184.9,442.6L181.8,442.6Z" fill="#ff1010"/>
<path d="M188.1,437.0L189.7,440.0L186.6,440.0Z" fill="#ff1010"/>
<path d="M192.9,434.5L194.5,437.5L191.4,437.5Z" fill="#ff1010"/>
<path d="M197.7,432.2L199.3,435.2L196.2,435.2Z" fill="#ff1010"/>
<path d="M202.5,430.3L204.1,433.2L201.0,433.2Z" fill="#ff1010"/>
<path d="M207.3,428.6L208.9,431.6L205.8,431.6Z" fill="#ff1010"/>
<path d="M212.1,427.2L213.7,430.1L210.6,430.1Z" fill="#ff1010"/>
<path d="M216.9,425.9L218.5,428.8L215.4,428.8Z" fill="#ff1010"/>
<path d="M221.8,424.7L223.3,427.6L220.2,427.6Z" fill="#ff1010"/>
<path d="M226.6,423.6L228.1,426.5L225.0,426.5Z" fill="#ff1010"/>
<path d="M231.4,422.6L232.9,425.6L229.8,425.6Z" fill="#ff1010"/>
<path d="M236.2,421.8L237.7,424.7L234.6,424.7Z" fill="#ff1010"/>
<path d="M241.0,421.0L242.5,424.0L239.4,424.0Z" fill="#ff1010"/>
<path d="M245.8,420.3L247.3,423.3L244.2,423.3Z" fill="#ff1010"/>
<path d="M250.6,419.8L252.1,422.7L249.0,422.7Z" fill="#ff1010"/>
<path d="M255.4,419.3L256.9,422.2L253.8,422.2Z" fill="#ff1010"/>
<path d="M260.2,418.9L261.7,421.8L258.6,421.8Z" fill="#ff1010"/>
<path d="M265.0,418.4L266.6,421.4L263.4,421.4Z" fill="#ff1010"/>
<path d="M178.5,299.0L179.8,301.4L177.2,301.4Z" fill="#ff1010"/>
<path d="M183.3,300.7L184.6,303.2L182.0,303.2Z" fill="#ff1010"/>
<path d="M188.1,302.4L189.4,304.9L186.8,304.9Z" fill="#ff1010"/>
<path d="M192.9,304.1L194.2,306.6L191.6,306.6Z" fill="#ff1010"/>
<path d="M197.7,305.9L199.0,308.3L196.4,308.3Z" fill="#ff1010"/>
<path d="M202.5,307.6L203.8,310.0L201.2,310.0Z" fill="#ff1010"/>
<path d="M207.3,309.2L208.6,311.7L206.0,311.7Z" fill="#ff1010"/>
<path d="M212.1,310.9L213.4,313.3L210.8,313.3Z" fill="#ff1010"/>
<path d="M216.9,312.5L218.2,314.9L215.6,314.9Z" fill="#ff1010"/>
<path d="M221.8,314.0L223.1,316.5L220.5,316.5Z" fill="#ff1010"/>
<path d="M226.6,315.4L227.9,317.9L225.3,317.9Z" fill="#ff1010"/>
<path d="M231.4,316.7L232.7,319.2L230.1,319.2Z" fill="#ff1010"/>
<path d="M236.2,317.9L237.5,320.4L234.9,320.4Z" fill="#ff1010"/>
<path d="M241.0,319.0L242.3,321.5L239.7,321.5Z" fill="#ff1010"/>
<path d="M245.8,320.0L247.1,322.5L244.5,322.5Z" fill="#ff1010"/>
<path d="M250.6,321.0L251.9,323.5L249.3,323.5Z" fill="#ff1010"/>
<path d="M255.4,322.0L256.7,324.5L254.1,324.5Z" fill="#ff1010"/>
<path d="M260.2,322.9L261.5,325.4L258.9,325.4Z" fill="#ff1010"/>
<path d="M265.0,323.9L266.3,326.4L263.7,326.4Z" fill="#ff1010"/>
<path d="M178.5,294.4L179.8,296.9L177.2,296.9Z" fill="#ff1010"/>
<path d="M183.3,298.1L184.6,300.5L182.0,300.5Z" fill="#ff1010"/>
<path d="M188.1,301.6L189.4,304.1L186.8,304.1Z" fill="#ff1010"/>
<path d="M192.9,305.1L194.2,307.6L191.6,307.6Z" fill="#ff1010"/>
<path d="M197.7,308.5L199.0,311.0L196.4,311.0Z" fill="#ff1010"/>
<path d="M202.5,311.7L203.8,314.2L201.2,314.2Z" fill="#ff1010"/>
<path d="M207.3,314.7L208.6,317.2L206.0,317.2Z" fill="#ff1010"/>
<path d="M212.1,317.4L213.4,319.9L210.8,319.9Z" fill="#ff1010"/>
<path d="M216.9,319.9L218.2,322.3L215.6,322.3Z" fill="#ff1010"/>
<path d="M221.8,322.0L223.1,324.5L220.5,324.5Z" fill="#ff1010"/>
<path d="M226.6,324.1L227.9,326.6L225.3,326.6Z" fill="#ff1010"/>
<path d="M231.4,326.0L232.7,328.5L230.1,328.5Z" fill="#ff1010"/>
<path d="M236.2,327.9L237.5,330.4L234.9,330.4Z" fill="#ff1010"/>
<path d="M241.0,329.7L242.3,332.2L239.7,332.2Z" fill="#ff1010"/>
<path d="M245.8,331.5L247.1,334.0L244.5,334.0Z" fill="#ff1010"/>
<path d="M250.6,333.2L251.9,335.7L249.3,335.7Z" fill="#ff1010"/>
<path d="M255.4,335.0L256.7,337.4L254.1,337.4Z" fill="#ff1010"/>
<path d="M260.2,336.7L261.5,339.2L258.9,339.2Z" fill="#ff1010"/>
<path d="M265.0,338.5L266.3,341.0L263.7,341.0Z" fill="#ff1010"/>
<path d="M178.5,302.0L179.8,304.5L177.2,304.5Z" fill="#ff1010"/>
<path d="M183.3,301.2L184.6,303.7L182.0,303.7Z" fill="#ff1010"/>
<path d="M188.1,300.5L189.4,302.9L186.8,302.9Z" fill="#ff1010"/>
<path d="M192.9,299.7L194.2,302.2L191.6,302.2Z" fill="#ff1010"/>
<path d="M197.7,299.0L199.0,301.4L196.4,301.4Z" fill="#ff1010"/>
<path d="M202.5,298.2L203.8,300.7L201.2,300.7Z" fill="#ff1010"/>
<path d="M207.3,297.5L208.6,300.0L206.0,300.0Z" fill="#ff1010"/>
<path d="M212.1,296.8L213.4,299.2L210.8,299.2Z" fill="#ff1010"/>
<path d="M216.9,296.1L218.2,298.6L215.6,298.6Z" fill="#ff1010"/>
<path d="M221.8,295.4L223.1,297.9L220.5,297.9Z" fill="#ff1010"/>
<path d="M226.6,294.9L227.9,297.3L225.3,297.3Z" fill="#ff1010"/>
<path d="M231.4,294.3L232.7,296.8L230.1,296.8Z" fill="#ff1010"/>
<path d="M236.2,293.9L237.5,296.3L234.9,296.3Z" fill="#ff1010"/>
<path d="M241.0,293.4L242.3,295.9L239.7,295.9Z" fill="#ff1010"/>
<path d="M245.8,293.0L247.1,295.5L244.5,295.5Z" fill="#ff1010"/>
<path d="M250.6,292.6L251.9,295.1L249.3,295.1Z" fill="#ff1010"/>
<path d="M255.4,292.2L256.7,294.7L254.1,294.7Z" fill="#ff1010"/>
<path d="M260.2,291.8L261.5,294.3L258.9,294.3Z" fill="#ff1010"/>
<path d="M265.0,291.4L266.3,293.9L263.7,293.9Z" fill="#ff1010"/>
<path d="M178.5,283.7L179.8,286.1L177.2,286.1Z" fill="#ff1010"/>
<path d="M183.3,283.4L184.6,285.9L182.0,285.9Z" fill="#ff1010"/>
<path d="M188.1,283.0L189.4,285.5L186.8,285.5Z" fill="#ff1010"/>
<path d="M192.9,282.6L194.2,285.1L191.6,285.1Z" fill="#ff1010"/>
<path d="M197.7,282.1L199.0,284.5L196.4,284.5Z" fill="#ff1010"/>
<path d="M202.5,281.5L203.8,283.9L201.2,283.9Z" fill="#ff1010"/>
<path d="M207.3,280.8L208.6,283.3L206.0,283.3Z" fill="#ff1010"/>
<path d="M212.1,280.1L213.4,282.6L210.8,282.6Z" fill="#ff1010"/>
<path d="M216.9,279.4L218.2,281.8L215.6,281.8Z" fill="#ff1010"/>
<path d="M221.8,278.6L223.1,281.1L220.5,281.1Z" fill="#ff1010"/>
<path d="M226.6,277.9L227.9,280.4L225.3,280.4Z" fill="#ff1010"/>
<path d="M231.4,277.1L232.7,279.6L230.1,279.6Z" fill="#ff1010"/>
<path d="M236.2,276.4L237.5,278.9L234.9,278.9Z" fill="#ff1010"/>
<path d="M241.0,275.6L242.3,278.1L239.7,278.1Z" fill="#ff1010"/>
<path d="M245.8,274.9L247.1,277.4L244.5,277.4Z" fill="#ff1010"/>
<path d="M250.6,274.1L251.9,276.6L249.3,276.6Z" fill="#ff1010"/>
<path d="M255.4,273.4L256.7,275.8L254.1,275.8Z" fill="#ff1010"/>
<path d="M260.2,272.6L261.5,275.1L258.9,275.1Z" fill="#ff1010"/>
<path d="M265.0,271.9L266.3,274.3L263.7,274.3Z" fill="#ff1010"/>
<path d="M178.5,284.8L179.8,287.3L177.2,287.3Z" fill="#ff1010"/>
<path d="M183.3,285.9L184.6,288.4L182.0,288.4Z" fill="#ff1010"/>
<path d="M188.1,287.0L189.4,289.5L186.8,289.5Z" fill="#ff1010"/>
<path d="M192.9,288.1L194.2,290.6L191.6,290.6Z" fill="#ff1010"/>
<path d="M197.7,289.3L199.0,291.7L196.4,291.7Z" fill="#ff1010"/>
<path d="M202.5,290.4L203.8,292.9L201.2,292.9Z" fill="#ff1010"/>
<path d="M207.3,291.6L208.6,294.1L206.0,294.1Z" fill="#ff1010"/>
<path d="M212.1,292.8L213.4,295.3L210.8,295.3Z" fill="#ff1010"/>
<path d="M216.9,294.1L218.2,296.5L215.6,296.5Z" fill="#ff1010"/>
<path d="M221.8,295.4L223.1,297.8L220.5,297.8Z" fill="#ff1010"/>
<path d="M226.6,296.8L227.9,299.3L225.3,299.3Z" fill="#ff1010"/>
<path d="M231.4,298.4L232.7,300.9L230.1,300.9Z" fill="#ff1010"/>
<path d="M236.2,300.2L237.5,302.6L234.9,302.6Z" fill="#ff1010"/>
<path d="M241.0,302.1L242.3,304.6L239.7,304.6Z" fill="#ff1010"/>
<path d="M245.8,304.2L247.1,306.7L244.5,306.7Z" fill="#ff1010"/>
<path d="M250.6,306.4L251.9,308.9L249.3,308.9Z" fill="#ff1010"/>
<path d="M255.4,308.7L256.7,311.1L254.1,311.1Z" fill="#ff1010"/>
<path d="M260.2,311.0L261.5,313.5L258.9,313.5Z" fill="#ff1010"/>
<path d="M265.0,313.2L266.3,315.7L263.7,315.7Z" fill="#ff1010"/>
<path d="M178.5,280.8L179.8,283.2L177.2,283.2Z" fill="#ff1010"/>
<path d="M183.3,281.2L184.6,283.7L182.0,283.7Z" fill="#ff1010"/>
<path d="M188.1,281.6L189.4,284.1L186.8,284.1Z" fill="#ff1010"/>
<path d="M192.9,282.1L194.2,284.5L191.6,284.5Z" fill="#ff1010"/>
<path d="M197.7,282.5L199.0,285.0L196.4,285.0Z" fill="#ff1010"/>
<path d="M202.5,282.9L203.8,285.4L201.2,285.4Z" fill="#ff1010"/>
<path d="M207.3,283.3L208.6,285.8L206.0,285.8Z" fill="#ff1010"/>
<path d="M212.1,283.6L213.4,286.1L210.8,286.1Z" fill="#ff1010"/>
<path d="M216.9,283.9L218.2,286.4L215.6,286.4Z" fill="#ff1010"/>
<path d="M221.8,284.2L223.1,286.6L220.5,286.6Z" fill="#ff1010"/>
<path d="M226.6,284.3L227.9,286.8L225.3,286.8Z" fill="#ff1010"/>
<path d="M231.4,284.3L232.7,286.8L230.1,286.8Z" fill="#ff1010"/>
<path d="M236.2,284.0L237.5,286.5L234.9,286.5Z" fill="#ff1010"/>
<path d="M241.0,283.5L242.3,286.0L239.7,286.0Z" fill="#ff1010"/>
<path d="M245.8,282.8L247.1,285.3L244.5,285.3Z" fill="#ff1010"/>
<path d="M250.6,282.0L251.9,284.5L249.3,284.5Z" fill="#ff1010"/>
<path d="M255.4,281.0L256.7,283.5L254.1,283.5Z" fill="#ff1010"/>
<path d="M260.2,279.9L261.5,282.4L258.9,282.4Z" fill="#ff1010"/>
<path d="M265.0,279.0L266.3,281.4L263.7,281.4Z" fill="#ff1010"/>
<path d="M178.5,296.5L179.8,299.0L177.2,299.0Z" fill="#ff1010"/>
<path d="M183.3,298.6L184.6,301.0L182.0,301.0Z" fill="#ff1010"/>
<path d="M188.1,300.6L189.4,303.1L186.8,303.1Z" fill="#ff1010"/>
<path d="M192.9,302.7L194.2,305.1L191.6,305.1Z" fill="#ff1010"/>
<path d="M197.7,304.7L199.0,307.2L196.4,307.2Z" fill="#ff1010"/>
<path d="M202.5,306.8L203.8,309.2L201.2,309.2Z" fill="#ff1010"/>
<path d="M207.3,308.8L208.6,311.3L206.0,311.3Z" fill="#ff1010"/>
<path d="M212.1,310.8L213.4,313.3L210.8,313.3Z" fill="#ff1010"/>
<path d="M216.9,312.9L218.2,315.3L215.6,315.3Z" fill="#ff1010"/>
<path d="M221.8,314.9L223.1,317.3L220.5,317.3Z" fill="#ff1010"/>
<path d="M226.6,316.9L227.9,319.3L225.3,319.3Z" fill="#ff1010"/>
<path d="M231.4,318.8L232.7,321.3L230.1,321.3Z" fill="#ff1010"/>
<path d="M236.2,320.8L237.5,323.3L234.9,323.3Z" fill="#ff1010"/>
<path d="M241.0,322.7L242.3,325.2L239.7,325.2Z" fill="#ff1010"/>
<path d="M245.8,324.6L247.1,327.1L244.5,327.1Z" fill="#ff1010"/>
<path d="M250.6,326.6L251.9,329.0L249.3,329.0Z" fill="#ff1010"/>
<path d="M255.4,328.5L256.7,330.9L254.1,330.9Z" fill="#ff1010"/>
<path d="M260.2,330.4L261.5,332.8L258.9,332.8Z" fill="#ff1010"/>
<path d="M265.0,332.3L266.3,334.8L263.7,334.8Z" fill="#ff1010"/>
</g>
<line x1="56.7" y1="265.7" x2="56.7" y2="453" stroke="#707070" stroke-width="1.3"/>
<line x1="148.3" y1="265.7" x2="148.3" y2="453" stroke="#707070" stroke-width="1.3"/>
<line x1="173.7" y1="265.7" x2="173.7" y2="453" stroke="#707070" stroke-width="1.3"/>
<line x1="32" y1="359" x2="265" y2="359" stroke="#000" stroke-width="2"/>
<rect x="32" y="265.7" width="233" height="187.3" fill="none" stroke="#000" stroke-width="2"/>
<line x1="29" y1="453.01" x2="32" y2="453.01" stroke="#000" stroke-width="1.6"/>
<line x1="29" y1="421.79" x2="32" y2="421.79" stroke="#000" stroke-width="1.6"/>
<line x1="29" y1="390.57000000000005" x2="32" y2="390.57000000000005" stroke="#000" stroke-width="1.6"/>
<line x1="29" y1="359.35" x2="32" y2="359.35" stroke="#000" stroke-width="1.6"/>
<line x1="29" y1="328.13" x2="32" y2="328.13" stroke="#000" stroke-width="1.6"/>
<line x1="29" y1="296.91" x2="32" y2="296.91" stroke="#000" stroke-width="1.6"/>
<line x1="29" y1="265.69000000000005" x2="32" y2="265.69000000000005" stroke="#000" stroke-width="1.6"/>
<line x1="32" y1="453" x2="32" y2="456" stroke="#000" stroke-width="1.6"/>
<line x1="56.7" y1="453" x2="56.7" y2="456" stroke="#000" stroke-width="1.6"/>
<line x1="148.3" y1="453" x2="148.3" y2="456" stroke="#000" stroke-width="1.6"/>
<line x1="173.7" y1="453" x2="173.7" y2="456" stroke="#000" stroke-width="1.6"/>
<line x1="265" y1="453" x2="265" y2="456" stroke="#000" stroke-width="1.6"/>
<text x="26.5" y="457.01" font-size="11.8" font-weight="bold" text-anchor="end" fill="#000" >-3</text>
<text x="26.5" y="425.79" font-size="11.8" font-weight="bold" text-anchor="end" fill="#000" >-2</text>
<text x="26.5" y="394.57000000000005" font-size="11.8" font-weight="bold" text-anchor="end" fill="#000" >-1</text>
<text x="26.5" y="363.35" font-size="11.8" font-weight="bold" text-anchor="end" fill="#000" >0</text>
<text x="26.5" y="332.13" font-size="11.8" font-weight="bold" text-anchor="end" fill="#000" >1</text>
<text x="26.5" y="300.91" font-size="11.8" font-weight="bold" text-anchor="end" fill="#000" >2</text>
<text x="26.5" y="269.69000000000005" font-size="11.8" font-weight="bold" text-anchor="end" fill="#000" >3</text>
<text x="32.7" y="468.8" font-size="11.4" font-weight="bold" text-anchor="middle" fill="#000" >&#915;</text>
<text x="56.7" y="468.8" font-size="11.4" font-weight="bold" text-anchor="middle" fill="#000" >X</text>
<text x="148.3" y="468.8" font-size="11.4" font-weight="bold" text-anchor="middle" fill="#000" >S</text>
<text x="173.7" y="468.8" font-size="11.4" font-weight="bold" text-anchor="middle" fill="#000" >Y</text>
<text x="265" y="468.8" font-size="11.4" font-weight="bold" text-anchor="middle" fill="#000" >&#915;</text>
<text transform="translate(148.2 487.4) scale(0.97 1)" font-size="11.5" font-weight="bold" text-anchor="middle" fill="#000">K-path</text>
<text transform="translate(11.6 358.6) rotate(-90) scale(1.04 1)" font-size="11.6" font-weight="bold" text-anchor="middle" fill="#000">Energy (eV)</text>
<text transform="translate(38.6 356.4) scale(0.96 1)" font-size="11.6" font-weight="bold" text-anchor="start" fill="#000">0.71eV</text>
<line x1="33.8" y1="358" x2="33.8" y2="349" stroke="#000" stroke-width="1.2"/>
<polygon points="33.8,345.6 32.0,350 35.6,350" fill="#000"/>
<text x="182.6" y="348" font-size="11.5" font-weight="bold" fill="#111">P/SnBr<tspan font-size="11" dy="2.5">2</tspan></text>
<text x="134.8" y="505.5" font-size="13.5" font-weight="normal" text-anchor="middle" fill="#000" stroke="#000" stroke-width="0.3">(c)</text>
<path d="M316.8,267.0 L323.0,268.2 L314.5,269.5 L320.8,270.7 L315.3,272.0 L319.7,273.2 L315.6,274.5 L321.3,275.7 L316.8,277.0 L322.6,278.2 L317.0,279.5 L323.6,280.7 L315.3,282.0 L323.5,283.2 L350.0,284.2 L327.5,285.4 L325.5,286.7 L321.5,287.9 L313.2,289.5 L317.4,290.7 L316.3,292.0 L320.9,293.2 L313.9,294.5 L319.4,295.7 L316.4,297.0 L320.0,298.2 L312.7,299.4 L338.5,300.7 L312.5,301.9 L313.7,303.2 L311.6,304.4 L312.3,305.7 L311.6,306.9 L311.6,308.2 L310.5,309.4 L310.5,310.7 L309.7,311.9 L310.1,313.2 L308.4,314.4 L309.2,315.7 L308.4,316.9 L308.5,318.2 L307.3,319.4 L307.8,320.7 L306.5,321.9 L306.9,323.2 L306.3,324.4 L306.1,325.7 L305.3,326.9 L305.3,328.2 L304.5,329.4 L304.9,330.6 L304.0,331.9 L304.3,333.1 L304.0,334.4 L304.2,335.6 L304.1,336.9 L304.3,338.1 L304.1,339.4 L304.6,340.6 L303.9,341.9 L304.5,343.1 L304.2,344.4 L304.5,345.6 L303.8,346.9 L304.6,348.1 L304.2,349.4 L304.6,350.6 L304.3,351.9 L304.6,353.1 L304.3,354.4 L304.4,355.6 L303.9,356.9 L304.8,358.1 L304.0,359.4 L304.4,360.6 L304.4,361.8 L304.5,363.1 L304.3,364.3 L304.8,365.6 L304.4,366.8 L304.7,368.1 L304.3,369.3 L304.6,370.6 L304.0,371.8 L304.9,373.1 L305.0,374.3 L307.6,375.6 L305.8,376.8 L307.4,378.1 L305.0,379.3 L308.4,380.6 L311.0,382.4 L308.0,383.1 L306.0,384.3 L307.6,385.6 L307.4,386.8 L308.8,388.1 L305.4,389.3 L309.3,390.6 L306.4,391.8 L309.5,393.0 L308.5,394.3 L309.5,395.5 L309.4,396.8 L322.5,398.0 L307.5,399.3 L319.2,400.5 L319.5,401.8 L320.1,403.0 L308.7,404.3 L314.3,405.5 L314.3,406.8 L318.7,408.0 L321.5,409.0 L319.5,410.5 L327.5,412.1 L321.2,413.0 L313.2,414.3 L323.5,416.1 L307.7,416.8 L309.2,418.0 L305.6,419.3 L308.3,420.5 L307.7,421.8 L309.0,423.0 L306.9,424.2 L309.5,425.5 L305.8,426.7 L308.1,428.0 L306.8,429.2 L309.5,430.5 L309.8,431.7 L313.7,433.0 L326.0,434.2 L315.8,435.5 L314.5,436.7 L317.6,438.0 L315.5,439.2 L321.1,440.5 L322.5,441.7 L317.2,443.0 L311.0,444.2 L317.9,445.5 L324.5,446.4 L318.6,448.0 L314.2,449.2 L323.5,450.5 L317.4,451.7 L319.4,453.0 L315.9,454.2 L349.5,454.2" stroke="#000" stroke-width="1.6" fill="none" stroke-linejoin="round"/>
<path d="M368.5,267.0 L369.0,268.2 L368.7,269.5 L369.5,270.7 L368.6,272.0 L369.5,273.2 L368.5,274.5 L369.9,275.7 L368.6,277.0 L369.6,278.2 L369.1,279.5 L369.9,280.7 L368.6,282.0 L369.9,283.2 L373.5,284.2 L372.5,285.4 L368.9,287.0 L369.2,288.2 L368.7,289.5 L368.7,290.7 L368.3,292.0 L368.6,293.2 L368.2,294.5 L368.5,295.7 L367.9,297.0 L368.8,298.2 L367.9,299.4 L368.4,300.7 L367.9,301.9 L368.5,303.2 L368.0,304.4 L368.3,305.7 L368.0,306.9 L368.4,308.2 L367.9,309.4 L368.3,310.7 L368.0,311.9 L368.3,313.2 L367.6,314.4 L368.2,315.7 L367.9,316.9 L368.0,318.2 L367.8,319.4 L367.8,320.7 L367.5,321.9 L367.8,323.2 L367.4,324.4 L367.8,325.7 L367.3,326.9 L367.7,328.2 L367.2,329.4 L367.3,330.6 L367.1,331.9 L367.7,333.1 L367.2,334.4 L367.3,335.6 L367.1,336.9 L367.4,338.1 L367.4,339.4 L367.7,340.6 L367.3,341.9 L367.6,343.1 L367.3,344.4 L367.4,345.6 L367.1,346.9 L367.5,348.1 L367.1,349.4 L367.4,350.6 L367.4,351.9 L367.5,353.1 L367.2,354.4 L367.5,355.6 L367.1,356.9 L367.5,358.1 L367.4,359.4 L367.7,360.6 L367.2,361.8 L367.4,363.1 L367.3,364.3 L367.5,365.6 L367.3,366.8 L367.4,368.1 L367.3,369.3 L367.5,370.6 L367.2,371.8 L367.5,373.1 L367.2,374.3 L367.6,375.6 L367.4,376.8 L367.4,378.1 L367.1,379.3 L367.4,380.6 L367.3,381.8 L367.7,383.1 L367.1,384.3 L367.6,385.6 L367.3,386.8 L367.7,388.1 L367.1,389.3 L367.8,390.6 L367.4,391.8 L367.4,393.0 L367.4,394.3 L367.7,395.5 L367.4,396.8 L367.6,398.0 L367.1,399.3 L367.8,400.5 L367.3,401.8 L367.6,403.0 L367.1,404.3 L367.8,405.5 L367.2,406.8 L367.7,408.0 L367.3,409.3 L367.8,410.5 L367.3,411.8 L367.5,413.0 L367.3,414.3 L367.7,415.5 L367.3,416.8 L367.8,418.0 L367.1,419.3 L367.5,420.5 L367.1,421.8 L367.6,423.0 L367.0,424.2 L367.7,425.5 L367.2,426.7 L367.5,428.0 L367.0,429.2 L367.6,430.5 L367.1,431.7 L367.6,433.0 L367.2,434.2 L367.7,435.5 L367.4,436.7 L368.0,438.0 L367.0,439.2 L367.6,440.5 L367.3,441.7 L367.5,443.0 L367.5,444.2 L367.6,445.5 L367.4,446.7 L367.8,448.0 L367.4,449.2 L367.5,450.5 L367.1,451.7 L367.8,453.0 L367.0,454.2 L369.5,454.2" stroke="#3a3a3a" stroke-width="1.4" fill="none"/>
<path d="M373.3,267.0 L376.6,268.2 L372.6,269.5 L376.2,270.7 L374.8,272.0 L377.6,273.2 L372.4,274.5 L375.5,275.7 L372.4,277.0 L376.5,278.2 L372.5,279.5 L376.7,280.7 L374.9,282.0 L376.5,283.2 L398.0,284.2 L380.5,285.4 L378.5,286.7 L375.1,288.2 L372.9,289.5 L374.2,290.7 L372.7,292.0 L374.2,293.2 L372.7,294.5 L373.2,295.7 L372.6,297.0 L373.3,298.2 L372.1,299.4 L372.4,300.7 L371.7,301.9 L372.6,303.2 L371.8,304.4 L371.9,305.7 L371.3,306.9 L371.6,308.2 L370.6,309.4 L370.7,310.7 L370.4,311.9 L370.6,313.2 L369.8,314.4 L370.0,315.7 L369.5,316.9 L369.8,318.2 L369.0,319.4 L369.3,320.7 L368.8,321.9 L369.2,323.2 L368.5,324.4 L368.5,325.7 L368.0,326.9 L368.2,328.2 L367.6,329.4 L367.6,330.6 L367.1,331.9 L367.1,333.1 L367.0,334.4 L367.3,335.6 L367.1,336.9 L367.4,338.1 L367.1,339.4 L367.4,340.6 L366.9,341.9 L367.4,343.1 L366.9,344.4 L367.3,345.6 L366.9,346.9 L367.3,348.1 L366.8,349.4 L367.2,350.6 L367.2,351.9 L367.2,353.1 L367.1,354.4 L367.4,355.6 L367.1,356.9 L367.3,358.1 L367.0,359.4 L367.1,360.6 L366.8,361.8 L367.2,363.1 L366.9,364.3 L367.2,365.6 L366.8,366.8 L367.3,368.1 L366.9,369.3 L367.9,370.6 L367.8,371.8 L369.0,373.1 L368.5,374.3 L369.4,375.6 L369.4,376.8 L371.2,378.1 L369.6,379.3 L371.2,380.6 L370.4,381.8 L377.5,383.4 L370.4,384.3 L374.2,385.6 L370.7,386.8 L372.7,388.1 L370.7,389.3 L372.4,390.6 L369.8,391.8 L374.4,393.0 L372.0,394.3 L375.9,395.5 L373.0,396.8 L391.0,398.0 L370.0,399.3 L377.0,400.5 L375.1,401.8 L380.5,402.7 L372.4,404.3 L377.1,405.5 L381.5,407.4 L375.4,408.0 L369.9,409.3 L379.5,410.5 L373.2,411.8 L375.1,413.0 L371.9,414.3 L374.5,415.5 L370.7,416.8 L378.4,418.0 L373.2,419.3 L376.9,420.5 L378.5,421.4 L377.8,423.0 L374.9,424.2 L376.5,425.5 L369.9,426.7 L374.3,428.0 L370.0,429.2 L376.5,430.5 L370.2,431.7 L372.2,433.0 L369.0,434.2 L371.1,435.5 L370.3,436.7 L372.9,438.0 L369.7,439.2 L371.1,440.5 L371.1,441.7 L371.9,443.0 L371.0,444.2 L371.7,445.5 L371.1,446.7 L373.7,448.0 L371.4,449.2 L372.7,450.5 L371.7,451.7 L372.7,453.0 L371.4,454.2 L404.5,454.2" stroke="#f02828" stroke-width="1.5" fill="none" stroke-linejoin="round"/>
<path d="M430.3,267.0 L430.5,268.2 L430.3,269.5 L430.6,270.7 L430.2,272.0 L430.4,273.2 L430.3,274.5 L430.3,275.7 L430.0,277.0 L430.5,278.2 L430.2,279.5 L430.3,280.7 L430.3,282.0 L430.7,283.2 L430.0,284.5 L430.5,285.7 L429.9,287.0 L430.4,288.2 L429.9,289.5 L430.7,290.7 L430.1,292.0 L430.7,293.2 L430.2,294.5 L430.6,295.7 L430.0,297.0 L430.3,298.2 L430.2,299.4 L430.3,300.7 L430.2,301.9 L430.4,303.2 L430.1,304.4 L430.7,305.7 L430.1,306.9 L430.3,308.2 L430.0,309.4 L430.5,310.7 L430.1,311.9 L430.5,313.2 L430.1,314.4 L430.5,315.7 L430.1,316.9 L430.5,318.2 L430.2,319.4 L430.3,320.7 L430.1,321.9 L430.5,323.2 L430.2,324.4 L430.4,325.7 L430.1,326.9 L430.5,328.2 L430.3,329.4 L430.4,330.6 L430.2,331.9 L430.3,333.1 L430.1,334.4 L430.3,335.6 L430.3,336.9 L430.5,338.1 L430.3,339.4 L430.4,340.6 L430.3,341.9 L430.4,343.1 L430.0,344.4 L430.5,345.6 L430.3,346.9 L430.6,348.1 L430.2,349.4 L430.3,350.6 L430.2,351.9 L430.4,353.1 L430.2,354.4 L430.7,355.6 L430.1,356.9 L430.5,358.1 L429.9,359.4 L430.5,360.6 L430.0,361.8 L430.5,363.1 L430.1,364.3 L430.6,365.6 L429.9,366.8 L430.3,368.1 L430.2,369.3 L430.5,370.6 L430.2,371.8 L430.6,373.1 L430.1,374.3 L430.6,375.6 L430.1,376.8 L430.7,378.1 L430.2,379.3 L430.3,380.6 L430.1,381.8 L430.6,383.1 L430.1,384.3 L430.3,385.6 L430.1,386.8 L430.4,388.1 L430.2,389.3 L430.5,390.6 L430.0,391.8 L430.4,393.0 L430.1,394.3 L430.7,395.5 L430.3,396.8 L430.5,398.0 L429.9,399.3 L430.6,400.5 L430.2,401.8 L430.6,403.0 L430.1,404.3 L430.3,405.5 L430.2,406.8 L430.3,408.0 L430.2,409.3 L430.6,410.5 L430.1,411.8 L430.7,413.0 L430.0,414.3 L430.7,415.5 L430.1,416.8 L430.6,418.0 L430.2,419.3 L430.7,420.5 L430.3,421.8 L430.3,423.0 L429.9,424.2 L430.5,425.5 L429.9,426.7 L430.5,428.0 L430.1,429.2 L430.6,430.5 L430.1,431.7 L430.4,433.0 L430.3,434.2 L430.6,435.5 L429.9,436.7 L430.3,438.0 L430.2,439.2 L430.4,440.5 L430.1,441.7 L430.6,443.0 L430.1,444.2 L430.7,445.5 L430.2,446.7 L430.5,448.0 L430.0,449.2 L430.4,450.5 L430.2,451.7 L430.7,453.0 L429.9,454.2 L430.5,454.2" stroke="#3a3a3a" stroke-width="1.2" fill="none"/>
<path d="M431.7,267.0 L433.3,268.2 L431.7,269.5 L433.3,270.7 L431.9,272.0 L432.9,273.2 L432.2,274.5 L432.7,275.7 L431.6,277.0 L432.3,278.2 L431.4,279.5 L432.8,280.7 L431.7,282.0 L432.2,283.2 L432.1,284.5 L432.2,285.7 L431.6,287.0 L432.2,288.2 L431.7,289.5 L432.4,290.7 L431.6,292.0 L432.0,293.2 L431.3,294.5 L431.9,295.7 L431.3,297.0 L431.8,298.2 L431.1,299.4 L436.5,300.7 L431.6,301.9 L431.6,303.2 L430.8,304.4 L431.5,305.7 L431.2,306.9 L431.7,308.2 L430.7,309.4 L431.4,310.7 L430.6,311.9 L431.3,313.2 L430.8,314.4 L431.4,315.7 L430.5,316.9 L431.1,318.2 L430.7,319.4 L431.0,320.7 L430.2,321.9 L430.7,323.2 L430.5,324.4 L430.5,325.7 L430.3,326.9 L430.4,328.2 L430.2,329.4 L430.4,330.6 L430.0,331.9 L430.2,333.1 L430.0,334.4 L430.3,335.6 L430.2,336.9 L430.4,338.1 L430.2,339.4 L430.4,340.6 L430.1,341.9 L430.4,343.1 L430.2,344.4 L430.4,345.6 L430.2,346.9 L430.2,348.1 L430.0,349.4 L430.2,350.6 L430.1,351.9 L430.4,353.1 L429.9,354.4 L430.2,355.6 L430.0,356.9 L430.2,358.1 L430.1,359.4 L430.2,360.6 L430.1,361.8 L430.3,363.1 L430.1,364.3 L430.4,365.6 L430.2,366.8 L430.2,368.1 L430.1,369.3 L430.2,370.6 L429.9,371.8 L430.2,373.1 L430.0,374.3 L430.4,375.6 L430.0,376.8 L430.1,378.1 L430.1,379.3 L430.1,380.6 L430.0,381.8 L430.3,383.1 L430.0,384.3 L430.2,385.6 L430.1,386.8 L430.1,388.1 L430.0,389.3 L430.2,390.6 L430.1,391.8 L430.3,393.0 L429.8,394.3 L430.1,395.5 L429.9,396.8 L430.2,398.0 L429.9,399.3 L430.1,400.5 L430.1,401.8 L430.7,403.0 L431.0,404.3 L433.9,405.5 L432.6,406.8 L434.6,408.0 L434.5,409.3 L438.0,410.5 L437.2,411.8 L442.2,413.0 L435.9,414.3 L437.6,415.5 L434.5,416.8 L436.7,418.0 L434.7,419.3 L437.7,420.5 L433.6,421.8 L435.2,423.0 L433.2,424.2 L435.7,425.5 L433.6,426.7 L437.6,428.0 L432.7,429.2 L436.6,430.5 L435.2,431.7 L436.6,433.0 L452.3,434.9 L438.8,435.5 L435.7,436.7 L442.8,438.0 L436.4,439.2 L440.4,440.5 L444.5,441.7 L443.7,443.0 L438.9,444.2 L444.7,445.5 L446.5,446.4 L445.4,448.0 L439.3,449.2 L442.4,450.5 L440.9,451.7 L444.2,453.0 L440.8,454.2 L462.5,454.2" stroke="#f02828" stroke-width="1.5" fill="none" stroke-linejoin="round"/>
<path d="M492.9,267.0 L493.0,267.6 L492.9,268.2 L492.9,268.9 L492.6,269.5 L493.1,270.1 L492.8,270.7 L493.0,271.4 L492.7,272.0 L493.1,272.6 L492.7,273.2 L493.1,273.9 L492.8,274.5 L493.1,275.1 L492.8,275.7 L493.2,276.4 L492.9,277.0 L493.0,277.6 L492.9,278.2 L493.1,278.9 L492.6,279.5 L493.1,280.1 L492.9,280.7 L493.1,281.4 L492.8,282.0 L493.0,282.6 L492.6,283.2 L493.2,283.8 L492.7,284.5 L492.9,285.1 L492.8,285.7 L493.2,286.3 L492.7,287.0 L493.1,287.6 L492.8,288.2 L493.1,288.8 L492.9,289.5 L493.0,290.1 L492.7,290.7 L493.0,291.3 L492.8,292.0 L493.1,292.6 L492.7,293.2 L493.2,293.8 L492.7,294.5 L493.0,295.1 L492.8,295.7 L492.9,296.3 L492.7,297.0 L493.1,297.6 L492.9,298.2 L493.0,298.8 L492.7,299.4 L493.0,300.1 L492.7,300.7 L493.1,301.3 L492.7,301.9 L493.0,302.6 L492.9,303.2 L493.1,303.8 L492.9,304.4 L493.2,305.1 L492.9,305.7 L492.9,306.3 L492.8,306.9 L493.0,307.6 L492.7,308.2 L493.1,308.8 L492.9,309.4 L493.1,310.1 L492.6,310.7 L493.1,311.3 L492.6,311.9 L492.9,312.6 L492.9,313.2 L493.0,313.8 L492.6,314.4 L493.1,315.0 L492.7,315.7 L493.1,316.3 L492.7,316.9 L492.9,317.5 L492.9,318.2 L492.9,318.8 L492.8,319.4 L493.0,320.0 L492.8,320.7 L493.1,321.3 L492.8,321.9 L493.1,322.5 L492.6,323.2 L493.1,323.8 L492.7,324.4 L493.0,325.0 L492.6,325.7 L493.0,326.3 L492.9,326.9 L493.1,327.5 L492.8,328.2 L493.0,328.8 L492.9,329.4 L493.0,330.0 L492.6,330.6 L493.1,331.3 L492.7,331.9 L493.1,332.5 L492.7,333.1 L493.1,333.8 L492.8,334.4 L492.9,335.0 L492.8,335.6 L493.1,336.3 L492.9,336.9 L493.1,337.5 L492.8,338.1 L493.0,338.8 L492.6,339.4 L493.1,340.0 L492.6,340.6 L493.1,341.3 L492.8,341.9 L492.9,342.5 L492.6,343.1 L493.1,343.8 L492.8,344.4 L493.0,345.0 L492.6,345.6 L493.1,346.2 L492.6,346.9 L492.9,347.5 L492.7,348.1 L493.0,348.7 L492.7,349.4 L492.9,350.0 L492.9,350.6 L493.0,351.2 L492.7,351.9 L493.0,352.5 L492.7,353.1 L493.2,353.7 L492.8,354.4 L493.1,355.0 L492.9,355.6 L493.0,356.2 L492.7,356.9 L493.2,357.5 L492.8,358.1 L493.2,358.7 L492.9,359.4 L493.1,360.0 L492.6,360.6 L493.1,361.2 L492.7,361.8 L492.9,362.5 L492.7,363.1 L492.9,363.7 L492.9,364.3 L493.2,365.0 L492.6,365.6 L493.0,366.2 L492.7,366.8 L492.9,367.5 L492.9,368.1 L493.0,368.7 L492.7,369.3 L492.9,370.0 L492.7,370.6 L493.2,371.2 L492.9,371.8 L493.1,372.5 L492.7,373.1 L492.9,373.7 L492.9,374.3 L492.9,375.0 L492.7,375.6 L493.1,376.2 L492.7,376.8 L493.1,377.4 L492.8,378.1 L493.0,378.7 L492.9,379.3 L493.2,379.9 L492.7,380.6 L492.9,381.2 L492.8,381.8 L493.0,382.4 L492.6,383.1 L492.9,383.7 L492.7,384.3 L492.9,384.9 L492.7,385.6 L493.1,386.2 L492.8,386.8 L492.9,387.4 L492.7,388.1 L493.2,388.7 L492.6,389.3 L493.1,389.9 L492.8,390.6 L493.1,391.2 L492.8,391.8 L493.1,392.4 L492.9,393.0 L493.1,393.7 L492.7,394.3 L493.1,394.9 L492.7,395.5 L493.1,396.2 L492.8,396.8 L492.9,397.4 L492.9,398.0 L493.0,398.7 L492.9,399.3 L492.9,399.9 L492.6,400.5 L493.1,401.2 L493.1,401.8 L494.5,402.4 L494.8,403.0 L495.9,403.7 L495.4,404.3 L497.3,404.9 L495.9,405.5 L497.2,406.2 L496.5,406.8 L497.9,407.4 L497.2,408.0 L499.0,408.6 L498.6,409.3 L500.6,409.9 L499.9,410.5 L502.8,411.1 L503.1,411.8 L507.3,412.4 L509.5,413.0 L517.2,413.6 L509.4,414.3 L508.2,414.9 L503.4,415.5 L505.6,416.1 L506.2,416.8 L509.1,417.4 L512.4,418.3 L504.4,418.6 L501.2,419.3 L500.6,419.9 L499.8,420.5 L500.1,421.1 L498.2,421.8 L497.8,422.4 L496.2,423.0 L496.8,423.6 L495.4,424.2 L495.4,424.9 L494.2,425.5 L494.1,426.1 L493.6,426.7 L493.8,427.4 L493.5,428.0 L493.8,428.6 L493.5,429.2 L493.8,429.9 L493.4,430.5 L493.7,431.1 L493.4,431.7 L493.9,432.4 L493.4,433.0 L493.5,433.6 L493.1,434.2 L493.7,434.9 L493.2,435.5 L493.5,436.1 L493.4,436.7 L493.7,437.4 L493.3,438.0 L493.5,438.6 L493.2,439.2 L493.5,439.8 L493.0,440.5 L493.5,441.1 L493.3,441.7 L493.2,442.3 L492.9,443.0 L493.3,443.6 L493.1,444.2 L493.3,444.8 L492.8,445.5 L493.2,446.1 L493.1,446.7 L493.3,447.3 L492.8,448.0 L493.3,448.6 L492.8,449.2 L493.0,449.8 L493.0,450.5 L493.0,451.1 L492.9,451.7 L493.2,452.3 L492.8,453.0 L493.0,453.6 L492.7,454.2 L493.2,454.2" stroke="#3a3a3a" stroke-width="1.4" fill="none" stroke-linejoin="round"/>
<path d="M515.2,267.0 L538.7,268.6 L520.1,269.5 L533.6,270.7 L536.2,271.7 L530.9,273.2 L520.9,274.5 L532.2,276.4 L518.1,277.0 L529.3,278.2 L522.3,279.5 L531.6,280.7 L530.2,282.6 L522.4,283.2 L515.2,284.5 L530.5,285.7 L512.8,287.0 L524.2,288.2 L519.8,289.5 L518.4,290.7 L522.2,292.0 L527.3,293.2 L511.0,294.5 L522.0,295.7 L517.1,297.0 L517.1,298.2 L510.6,299.4 L539.0,300.7 L509.1,301.9 L509.7,303.2 L507.5,304.4 L508.2,305.7 L505.7,306.9 L505.7,308.2 L503.5,309.4 L503.6,310.7 L501.5,311.9 L500.7,313.2 L499.0,314.4 L498.3,315.7 L496.8,316.9 L496.3,318.2 L494.9,319.4 L494.2,320.7 L493.6,321.9 L494.0,323.2 L493.3,324.4 L493.7,325.7 L492.9,326.9 L493.3,328.2 L492.7,329.4 L493.0,330.6 L492.8,331.9 L493.0,333.1 L492.7,334.4 L492.9,335.6 L492.6,336.9 L493.1,338.1 L492.8,339.4 L493.1,340.6 L492.9,341.9 L493.1,343.1 L492.6,344.4 L493.0,345.6 L492.8,346.9 L493.0,348.1 L492.9,349.4 L493.2,350.6 L492.9,351.9 L493.1,353.1 L492.9,354.4 L492.9,355.6 L492.7,356.9 L493.1,358.1 L492.9,359.4 L493.1,360.6 L492.7,361.8 L493.0,363.1 L492.7,364.3 L493.0,365.6 L492.7,366.8 L493.1,368.1 L492.8,369.3 L493.2,370.6 L492.9,371.8 L493.1,373.1 L492.8,374.3 L493.2,375.6 L493.0,376.8 L493.2,378.1 L492.9,379.3 L493.3,380.6 L492.6,381.8 L493.3,383.1 L492.7,384.3 L493.1,385.6 L492.9,386.8 L493.2,388.1 L492.7,389.3 L493.2,390.6 L492.6,391.8 L493.1,393.0 L492.9,394.3 L493.1,395.5 L492.9,396.8 L493.3,398.0 L493.0,399.3 L493.3,400.5 L492.6,401.8 L493.1,403.0 L492.8,404.3 L493.4,405.5 L493.5,406.8 L494.7,408.0 L494.5,409.3 L496.1,410.5 L494.1,411.8 L495.7,413.0 L495.3,414.3 L496.0,415.5 L495.1,416.8 L496.5,418.0 L494.3,419.3 L495.6,420.5 L494.3,421.8 L493.8,423.0 L493.5,424.2 L494.5,425.5 L493.9,426.7 L494.0,428.0 L493.2,429.2 L494.6,430.5 L493.9,431.7 L493.9,433.0 L493.4,434.2 L494.4,435.5 L493.8,436.7 L493.9,438.0 L493.6,439.2 L494.5,440.5 L493.5,441.7 L493.9,443.0 L493.0,444.2 L494.0,445.5 L493.8,446.7 L493.8,448.0 L493.0,449.2 L494.1,450.5 L493.1,451.7 L493.9,453.0 L493.0,454.2 L500.2,454.2" stroke="#f02828" stroke-width="1.5" fill="none" stroke-linejoin="round"/>
<rect x="303.5" y="267" width="46.7" height="187.3" fill="none" stroke="#000" stroke-width="2"/>
<line x1="303.5" y1="454.3" x2="303.5" y2="457.5" stroke="#000" stroke-width="1.4"/>
<text x="303.5" y="471.2" font-size="11.4" font-weight="bold" text-anchor="middle" fill="#000" >0</text>
<line x1="326.85" y1="454.3" x2="326.85" y2="457.5" stroke="#000" stroke-width="1.4"/>
<text x="326.85" y="471.2" font-size="11.4" font-weight="bold" text-anchor="middle" fill="#000" >50</text>
<line x1="350.2" y1="454.3" x2="350.2" y2="457.5" stroke="#000" stroke-width="1.4"/>
<text x="350.2" y="471.2" font-size="11.4" font-weight="bold" text-anchor="middle" fill="#000" >100</text>
<line x1="315.175" y1="454.3" x2="315.175" y2="456" stroke="#000" stroke-width="1"/>
<line x1="338.525" y1="454.3" x2="338.525" y2="456" stroke="#000" stroke-width="1"/>
<rect x="366.5" y="267" width="46.5" height="187.3" fill="none" stroke="#000" stroke-width="2"/>
<line x1="366.5" y1="454.3" x2="366.5" y2="457.5" stroke="#000" stroke-width="1.4"/>
<text x="366.5" y="471.2" font-size="11.4" font-weight="bold" text-anchor="middle" fill="#000" >0</text>
<line x1="389.75" y1="454.3" x2="389.75" y2="457.5" stroke="#000" stroke-width="1.4"/>
<text x="389.75" y="471.2" font-size="11.4" font-weight="bold" text-anchor="middle" fill="#000" >15</text>
<line x1="413.0" y1="454.3" x2="413.0" y2="457.5" stroke="#000" stroke-width="1.4"/>
<text x="413.0" y="471.2" font-size="11.4" font-weight="bold" text-anchor="middle" fill="#000" >30</text>
<line x1="378.125" y1="454.3" x2="378.125" y2="456" stroke="#000" stroke-width="1"/>
<line x1="401.375" y1="454.3" x2="401.375" y2="456" stroke="#000" stroke-width="1"/>
<rect x="429.5" y="267" width="46.5" height="187.3" fill="none" stroke="#000" stroke-width="2"/>
<line x1="429.5" y1="454.3" x2="429.5" y2="457.5" stroke="#000" stroke-width="1.4"/>
<text x="429.5" y="471.2" font-size="11.4" font-weight="bold" text-anchor="middle" fill="#000" >0</text>
<line x1="452.75" y1="454.3" x2="452.75" y2="457.5" stroke="#000" stroke-width="1.4"/>
<text x="452.75" y="471.2" font-size="11.4" font-weight="bold" text-anchor="middle" fill="#000" >25</text>
<line x1="476.0" y1="454.3" x2="476.0" y2="457.5" stroke="#000" stroke-width="1.4"/>
<text x="476.0" y="471.2" font-size="11.4" font-weight="bold" text-anchor="middle" fill="#000" >50</text>
<line x1="441.125" y1="454.3" x2="441.125" y2="456" stroke="#000" stroke-width="1"/>
<line x1="464.375" y1="454.3" x2="464.375" y2="456" stroke="#000" stroke-width="1"/>
<rect x="492.2" y="267" width="46.8" height="187.3" fill="none" stroke="#000" stroke-width="2"/>
<line x1="492.2" y1="454.3" x2="492.2" y2="457.5" stroke="#000" stroke-width="1.4"/>
<text x="492.2" y="471.2" font-size="11.4" font-weight="bold" text-anchor="middle" fill="#000" >0</text>
<line x1="515.6" y1="454.3" x2="515.6" y2="457.5" stroke="#000" stroke-width="1.4"/>
<text x="515.6" y="471.2" font-size="11.4" font-weight="bold" text-anchor="middle" fill="#000" >5</text>
<line x1="539.0" y1="454.3" x2="539.0" y2="457.5" stroke="#000" stroke-width="1.4"/>
<text x="539.0" y="471.2" font-size="11.4" font-weight="bold" text-anchor="middle" fill="#000" >10</text>
<line x1="503.9" y1="454.3" x2="503.9" y2="456" stroke="#000" stroke-width="1"/>
<line x1="527.3" y1="454.3" x2="527.3" y2="456" stroke="#000" stroke-width="1"/>
<line x1="300.5" y1="454.20000000000005" x2="303.5" y2="454.20000000000005" stroke="#000" stroke-width="1.6"/>
<text x="298.3" y="457.90000000000003" font-size="10.9" font-weight="bold" text-anchor="end" fill="#000" >-3</text>
<line x1="300.5" y1="423.0" x2="303.5" y2="423.0" stroke="#000" stroke-width="1.6"/>
<text x="298.3" y="426.7" font-size="10.9" font-weight="bold" text-anchor="end" fill="#000" >-2</text>
<line x1="300.5" y1="391.8" x2="303.5" y2="391.8" stroke="#000" stroke-width="1.6"/>
<text x="298.3" y="395.5" font-size="10.9" font-weight="bold" text-anchor="end" fill="#000" >-1</text>
<line x1="300.5" y1="360.6" x2="303.5" y2="360.6" stroke="#000" stroke-width="1.6"/>
<text x="298.3" y="364.3" font-size="10.9" font-weight="bold" text-anchor="end" fill="#000" >0</text>
<line x1="300.5" y1="329.40000000000003" x2="303.5" y2="329.40000000000003" stroke="#000" stroke-width="1.6"/>
<text x="298.3" y="333.1" font-size="10.9" font-weight="bold" text-anchor="end" fill="#000" >1</text>
<line x1="300.5" y1="298.20000000000005" x2="303.5" y2="298.20000000000005" stroke="#000" stroke-width="1.6"/>
<text x="298.3" y="301.90000000000003" font-size="10.9" font-weight="bold" text-anchor="end" fill="#000" >2</text>
<line x1="300.5" y1="267.0" x2="303.5" y2="267.0" stroke="#000" stroke-width="1.6"/>
<text x="298.3" y="270.7" font-size="10.9" font-weight="bold" text-anchor="end" fill="#000" >3</text>
<text transform="translate(286.1 361) rotate(-90) scale(0.98 1)" font-size="11" font-weight="bold" text-anchor="middle" fill="#000">Energy</text>
<line x1="305.5" y1="353.8" x2="325.6" y2="353.8" stroke="#000" stroke-width="2"/>
<text transform="translate(327.8 357.4) scale(0.77 1)" font-size="10.6" font-weight="normal" text-anchor="start" fill="#1a1a1a" stroke="#1a1a1a" stroke-width="0.2">TDOS</text>
<line x1="376.6" y1="335.4" x2="400.1" y2="335.4" stroke="#3a3a3a" stroke-width="2"/>
<text transform="translate(402 339.0) scale(0.8 1)" font-size="13" font-weight="normal" text-anchor="start" fill="#1a1a1a">s</text>
<line x1="376.6" y1="349.5" x2="400.1" y2="349.5" stroke="#f02828" stroke-width="2"/>
<text transform="translate(402 352.2) scale(0.8 1)" font-size="13" font-weight="normal" text-anchor="start" fill="#1a1a1a">p</text>
<line x1="438.7" y1="335.4" x2="463.1" y2="335.4" stroke="#3a3a3a" stroke-width="2"/>
<text transform="translate(464 339.0) scale(0.8 1)" font-size="13" font-weight="normal" text-anchor="start" fill="#1a1a1a">s</text>
<line x1="438.7" y1="349.5" x2="463.1" y2="349.5" stroke="#f02828" stroke-width="2"/>
<text transform="translate(464 352.2) scale(0.8 1)" font-size="13" font-weight="normal" text-anchor="start" fill="#1a1a1a">p</text>
<line x1="498.7" y1="335.4" x2="522.2" y2="335.4" stroke="#3a3a3a" stroke-width="2"/>
<text transform="translate(523 339.0) scale(0.8 1)" font-size="13" font-weight="normal" text-anchor="start" fill="#1a1a1a">s</text>
<line x1="498.7" y1="349.5" x2="522.2" y2="349.5" stroke="#f02828" stroke-width="2"/>
<text transform="translate(523 352.2) scale(0.8 1)" font-size="13" font-weight="normal" text-anchor="start" fill="#1a1a1a">p</text>
<text x="393.5" y="381.5" font-size="11" font-weight="bold" text-anchor="middle" fill="#111" >P</text>
<text x="454.6" y="383.8" font-size="11" font-weight="bold" text-anchor="middle" fill="#111" >Br</text>
<text x="518.8" y="386.4" font-size="12.5" font-weight="bold" text-anchor="middle" fill="#111" >Sn</text>
<text transform="translate(425.4 486.7) scale(0.93 1)" font-size="10.6" font-weight="bold" text-anchor="middle" fill="#000">PDOS</text>
<text x="410.7" y="506" font-size="13.5" font-weight="normal" text-anchor="middle" fill="#000" stroke="#000" stroke-width="0.3">(d)</text></svg></body></html>
